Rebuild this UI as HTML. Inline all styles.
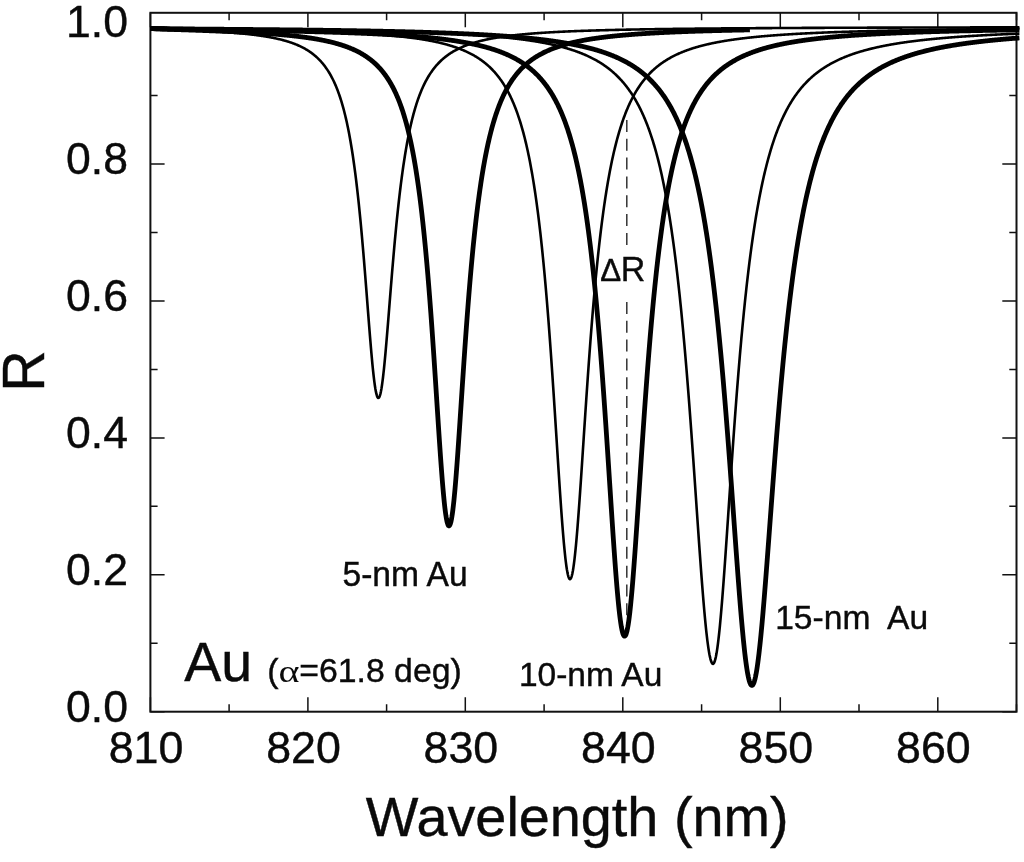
<!DOCTYPE html>
<html><head><meta charset="utf-8"><title>Reflectance vs Wavelength</title>
<style>html,body{margin:0;padding:0;background:#fff}body{width:1024px;height:862px;overflow:hidden}</style></head>
<body>
<svg width="1024" height="862" viewBox="0 0 1024 862" style="display:block">
<rect width="1024" height="862" fill="#fff"/>
<path d="M150.4,711.7v-14.5M150.4,12.8v14.5M229.1,711.7v-7.5M229.1,12.8v7.5M307.9,711.7v-14.5M307.9,12.8v14.5M386.6,711.7v-7.5M386.6,12.8v7.5M465.3,711.7v-14.5M465.3,12.8v14.5M544.1,711.7v-7.5M544.1,12.8v7.5M622.8,711.7v-14.5M622.8,12.8v14.5M701.6,711.7v-7.5M701.6,12.8v7.5M780.3,711.7v-14.5M780.3,12.8v14.5M859.0,711.7v-7.5M859.0,12.8v7.5M937.8,711.7v-14.5M937.8,12.8v14.5M1016.5,711.7v-7.5M1016.5,12.8v7.5M150.4,711.7h14.2M1016.5,711.7h-14.2M150.4,643.2h7.2M1016.5,643.2h-7.2M150.4,574.8h14.2M1016.5,574.8h-14.2M150.4,506.3h7.2M1016.5,506.3h-7.2M150.4,437.9h14.2M1016.5,437.9h-14.2M150.4,369.4h7.2M1016.5,369.4h-7.2M150.4,300.9h14.2M1016.5,300.9h-14.2M150.4,232.5h7.2M1016.5,232.5h-7.2M150.4,164.0h14.2M1016.5,164.0h-14.2M150.4,95.6h7.2M1016.5,95.6h-7.2M150.4,27.1h14.2M1016.5,27.1h-14.2" stroke="#111" stroke-width="1.5" fill="none"/>
<rect x="150.4" y="12.8" width="866.1" height="698.9000000000001" fill="none" stroke="#111" stroke-width="2"/>
<path d="M626.8,119.9V245.7M626.8,301.9V634" stroke="#333" stroke-width="1.5" stroke-dasharray="12 6.84" fill="none"/>
<g fill="none" stroke="#000" stroke-linejoin="round">
<path d="M150.4,28.60 L150.9,28.62 L151.4,28.64 L151.9,28.66 L152.4,28.68 L152.9,28.70 L153.4,28.72 L153.9,28.74 L154.4,28.76 L154.9,28.78 L155.4,28.80 L155.9,28.82 L156.4,28.84 L156.9,28.86 L157.4,28.88 L157.9,28.90 L158.4,28.92 L158.9,28.94 L159.4,28.96 L159.9,28.98 L160.4,29.00 L160.9,29.02 L161.4,29.04 L161.9,29.06 L162.4,29.08 L162.9,29.10 L163.4,29.12 L163.9,29.14 L164.4,29.16 L164.9,29.18 L165.4,29.20 L165.9,29.22 L166.4,29.24 L166.9,29.26 L167.4,29.28 L167.9,29.30 L168.4,29.32 L168.9,29.34 L169.4,29.36 L169.9,29.38 L170.4,29.40 L170.9,29.42 L171.4,29.44 L171.9,29.46 L172.4,29.48 L172.9,29.50 L173.4,29.53 L173.9,29.55 L174.4,29.57 L174.9,29.59 L175.4,29.61 L175.9,29.63 L176.4,29.65 L176.9,29.67 L177.4,29.69 L177.9,29.71 L178.4,29.73 L178.9,29.75 L179.4,29.77 L179.9,29.79 L180.4,29.81 L180.9,29.84 L181.4,29.86 L181.9,29.88 L182.4,29.90 L182.9,29.92 L183.4,29.94 L183.9,29.96 L184.4,29.99 L184.9,30.01 L185.4,30.03 L185.9,30.05 L186.4,30.07 L186.9,30.09 L187.4,30.12 L187.9,30.14 L188.4,30.16 L188.9,30.18 L189.4,30.20 L189.9,30.23 L190.4,30.25 L190.9,30.27 L191.4,30.29 L191.9,30.32 L192.4,30.34 L192.9,30.36 L193.4,30.39 L193.9,30.41 L194.4,30.43 L194.9,30.46 L195.4,30.48 L195.9,30.50 L196.4,30.53 L196.9,30.55 L197.4,30.57 L197.9,30.60 L198.4,30.62 L198.9,30.65 L199.4,30.67 L199.9,30.70 L200.4,30.72 L200.9,30.75 L201.4,30.77 L201.9,30.80 L202.4,30.82 L202.9,30.85 L203.4,30.87 L203.9,30.90 L204.4,30.92 L204.9,30.95 L205.4,30.98 L205.9,31.00 L206.4,31.03 L206.9,31.06 L207.4,31.08 L207.9,31.11 L208.4,31.14 L208.9,31.16 L209.4,31.19 L209.9,31.22 L210.4,31.25 L210.9,31.27 L211.4,31.30 L211.9,31.33 L212.4,31.36 L212.9,31.39 L213.4,31.42 L213.9,31.45 L214.4,31.48 L214.9,31.51 L215.4,31.54 L215.9,31.57 L216.4,31.60 L216.9,31.63 L217.4,31.66 L217.9,31.69 L218.4,31.72 L218.9,31.75 L219.4,31.78 L219.9,31.81 L220.4,31.85 L220.9,31.88 L221.4,31.91 L221.9,31.94 L222.4,31.98 L222.9,32.01 L223.4,32.05 L223.9,32.08 L224.4,32.11 L224.9,32.15 L225.4,32.18 L225.9,32.22 L226.4,32.25 L226.9,32.29 L227.4,32.33 L227.9,32.36 L228.4,32.40 L228.9,32.44 L229.4,32.47 L229.9,32.51 L230.4,32.55 L230.9,32.59 L231.4,32.63 L231.9,32.67 L232.4,32.70 L232.9,32.74 L233.4,32.78 L233.9,32.83 L234.4,32.87 L234.9,32.91 L235.4,32.95 L235.9,32.99 L236.4,33.03 L236.9,33.08 L237.4,33.12 L237.9,33.16 L238.4,33.21 L238.9,33.25 L239.4,33.30 L239.9,33.34 L240.4,33.39 L240.9,33.44 L241.4,33.48 L241.9,33.53 L242.4,33.58 L242.9,33.63 L243.4,33.67 L243.9,33.72 L244.4,33.77 L244.9,33.82 L245.4,33.87 L245.9,33.93 L246.4,33.98 L246.9,34.03 L247.4,34.08 L247.9,34.14 L248.4,34.19 L248.9,34.25 L249.4,34.30 L249.9,34.36 L250.4,34.42 L250.9,34.47 L251.4,34.53 L251.9,34.59 L252.4,34.65 L252.9,34.71 L253.4,34.77 L253.9,34.83 L254.4,34.89 L254.9,34.96 L255.4,35.02 L255.9,35.08 L256.4,35.15 L256.9,35.21 L257.4,35.28 L257.9,35.35 L258.4,35.42 L258.9,35.49 L259.4,35.56 L259.9,35.63 L260.4,35.70 L260.9,35.77 L261.4,35.84 L261.9,35.92 L262.4,35.99 L262.9,36.07 L263.4,36.15 L263.9,36.22 L264.4,36.30 L264.9,36.38 L265.4,36.46 L265.9,36.55 L266.4,36.63 L266.9,36.71 L267.4,36.80 L267.9,36.89 L268.4,36.97 L268.9,37.06 L269.4,37.15 L269.9,37.24 L270.4,37.34 L270.9,37.43 L271.4,37.52 L271.9,37.62 L272.4,37.72 L272.9,37.82 L273.4,37.92 L273.9,38.02 L274.4,38.12 L274.9,38.23 L275.4,38.33 L275.9,38.44 L276.4,38.55 L276.9,38.66 L277.4,38.77 L277.9,38.89 L278.4,39.00 L278.9,39.12 L279.4,39.24 L279.9,39.36 L280.4,39.48 L280.9,39.61 L281.4,39.73 L281.9,39.86 L282.4,39.99 L282.9,40.12 L283.4,40.26 L283.9,40.39 L284.4,40.53 L284.9,40.67 L285.4,40.81 L285.9,40.96 L286.4,41.11 L286.9,41.26 L287.4,41.41 L287.9,41.56 L288.4,41.72 L288.9,41.88 L289.4,42.04 L289.9,42.20 L290.4,42.37 L290.9,42.54 L291.4,42.71 L291.9,42.89 L292.4,43.07 L292.9,43.25 L293.4,43.43 L293.9,43.62 L294.4,43.81 L294.9,44.01 L295.4,44.20 L295.9,44.41 L296.4,44.61 L296.9,44.82 L297.4,45.03 L297.9,45.25 L298.4,45.47 L298.9,45.69 L299.4,45.92 L299.9,46.15 L300.4,46.38 L300.9,46.62 L301.4,46.87 L301.9,47.12 L302.4,47.37 L302.9,47.63 L303.4,47.89 L303.9,48.16 L304.4,48.44 L304.9,48.71 L305.4,49.00 L305.9,49.29 L306.4,49.58 L306.9,49.89 L307.4,50.19 L307.9,50.51 L308.4,50.83 L308.9,51.15 L309.4,51.48 L309.9,51.82 L310.4,52.17 L310.9,52.52 L311.4,52.88 L311.9,53.25 L312.4,53.63 L312.9,54.01 L313.4,54.41 L313.9,54.81 L314.4,55.21 L314.9,55.63 L315.4,56.06 L315.9,56.50 L316.4,56.94 L316.9,57.40 L317.4,57.86 L317.9,58.34 L318.4,58.83 L318.9,59.33 L319.4,59.84 L319.9,60.36 L320.4,60.89 L320.9,61.44 L321.4,62.00 L321.9,62.57 L322.4,63.15 L322.9,63.75 L323.4,64.37 L323.9,65.00 L324.4,65.64 L324.9,66.30 L325.4,66.98 L325.9,67.67 L326.4,68.38 L326.9,69.11 L327.4,69.86 L327.9,70.62 L328.4,71.41 L328.9,72.22 L329.4,73.04 L329.9,73.89 L330.4,74.76 L330.9,75.66 L331.4,76.58 L331.9,77.52 L332.4,78.49 L332.9,79.48 L333.4,80.50 L333.9,81.55 L334.4,82.63 L334.9,83.74 L335.4,84.88 L335.9,86.06 L336.4,87.26 L336.9,88.50 L337.4,89.78 L337.9,91.09 L338.4,92.45 L338.9,93.84 L339.4,95.27 L339.9,96.75 L340.4,98.27 L340.9,99.83 L341.4,101.44 L341.9,103.11 L342.4,104.82 L342.9,106.58 L343.4,108.40 L343.9,110.28 L344.4,112.21 L344.9,114.21 L345.4,116.26 L345.9,118.38 L346.4,120.57 L346.9,122.83 L347.4,125.16 L347.9,127.57 L348.4,130.05 L348.9,132.61 L349.4,135.25 L349.9,137.98 L350.4,140.80 L350.9,143.71 L351.4,146.71 L351.9,149.81 L352.4,153.00 L352.9,156.30 L353.4,159.71 L353.9,163.22 L354.4,166.85 L354.9,170.59 L355.4,174.45 L355.9,178.42 L356.4,182.52 L356.9,186.75 L357.4,191.10 L357.9,195.58 L358.4,200.19 L358.9,204.93 L359.4,209.80 L359.9,214.81 L360.4,219.95 L360.9,225.22 L361.4,230.62 L361.9,236.15 L362.4,241.80 L362.9,247.57 L363.4,253.46 L363.9,259.45 L364.4,265.55 L364.9,271.73 L365.4,278.00 L365.9,284.33 L366.4,290.72 L366.9,297.14 L367.4,303.59 L367.9,310.04 L368.4,316.46 L368.9,322.84 L369.4,329.16 L369.9,335.38 L370.4,341.47 L370.9,347.42 L371.4,353.18 L371.9,358.73 L372.4,364.03 L372.9,369.05 L373.4,373.76 L373.9,378.14 L374.4,382.14 L374.9,385.74 L375.4,388.92 L375.9,391.65 L376.4,393.91 L376.9,395.68 L377.4,396.95 L377.9,397.72 L378.4,397.97 L378.9,397.70 L379.4,396.92 L379.9,395.64 L380.4,393.86 L380.9,391.61 L381.4,388.90 L381.9,385.75 L382.4,382.19 L382.9,378.25 L383.4,373.94 L383.9,369.32 L384.4,364.39 L384.9,359.21 L385.4,353.79 L385.9,348.17 L386.4,342.38 L386.9,336.45 L387.4,330.40 L387.9,324.27 L388.4,318.07 L388.9,311.84 L389.4,305.59 L389.9,299.34 L390.4,293.12 L390.9,286.93 L391.4,280.79 L391.9,274.72 L392.4,268.73 L392.9,262.83 L393.4,257.02 L393.9,251.31 L394.4,245.71 L394.9,240.22 L395.4,234.86 L395.9,229.61 L396.4,224.49 L396.9,219.49 L397.4,214.61 L397.9,209.86 L398.4,205.24 L398.9,200.74 L399.4,196.36 L399.9,192.11 L400.4,187.97 L400.9,183.95 L401.4,180.05 L401.9,176.26 L402.4,172.59 L402.9,169.02 L403.4,165.56 L403.9,162.20 L404.4,158.94 L404.9,155.78 L405.4,152.71 L405.9,149.74 L406.4,146.85 L406.9,144.06 L407.4,141.34 L407.9,138.71 L408.4,136.16 L408.9,133.68 L409.4,131.28 L409.9,128.95 L410.4,126.68 L410.9,124.49 L411.4,122.36 L411.9,120.29 L412.4,118.28 L412.9,116.34 L413.4,114.44 L413.9,112.61 L414.4,110.82 L414.9,109.09 L415.4,107.40 L415.9,105.77 L416.4,104.18 L416.9,102.63 L417.4,101.13 L417.9,99.67 L418.4,98.25 L418.9,96.86 L419.4,95.52 L419.9,94.21 L420.4,92.94 L420.9,91.70 L421.4,90.49 L421.9,89.32 L422.4,88.18 L422.9,87.06 L423.4,85.98 L423.9,84.92 L424.4,83.89 L424.9,82.89 L425.4,81.91 L425.9,80.96 L426.4,80.03 L426.9,79.12 L427.4,78.24 L427.9,77.37 L428.4,76.53 L428.9,75.71 L429.4,74.91 L429.9,74.12 L430.4,73.36 L430.9,72.61 L431.4,71.89 L431.9,71.17 L432.4,70.48 L432.9,69.80 L433.4,69.13 L433.9,68.49 L434.4,67.85 L434.9,67.23 L435.4,66.62 L435.9,66.03 L436.4,65.45 L436.9,64.88 L437.4,64.33 L437.9,63.79 L438.4,63.25 L438.9,62.73 L439.4,62.22 L439.9,61.73 L440.4,61.24 L440.9,60.76 L441.4,60.29 L441.9,59.83 L442.4,59.38 L442.9,58.94 L443.4,58.51 L443.9,58.09 L444.4,57.67 L444.9,57.27 L445.4,56.87 L445.9,56.48 L446.4,56.10 L446.9,55.72 L447.4,55.35 L447.9,54.99 L448.4,54.64 L448.9,54.29 L449.4,53.95 L449.9,53.61 L450.4,53.28 L450.9,52.96 L451.4,52.64 L451.9,52.33 L452.4,52.03 L452.9,51.73 L453.4,51.43 L453.9,51.14 L454.4,50.86 L454.9,50.58 L455.4,50.31 L455.9,50.04 L456.4,49.77 L456.9,49.51 L457.4,49.26 L457.9,49.01 L458.4,48.76 L458.9,48.51 L459.4,48.28 L459.9,48.04 L460.4,47.81 L460.9,47.58 L461.4,47.36 L461.9,47.14 L462.4,46.92 L462.9,46.71 L463.4,46.50 L463.9,46.29 L464.4,46.09 L464.9,45.89 L465.4,45.69 L465.9,45.50 L466.4,45.31 L466.9,45.12 L467.4,44.94 L467.9,44.76 L468.4,44.58 L468.9,44.40 L469.4,44.23 L469.9,44.06 L470.4,43.89 L470.9,43.72 L471.4,43.56 L471.9,43.40 L472.4,43.24 L472.9,43.08 L473.4,42.93 L473.9,42.78 L474.4,42.63 L474.9,42.48 L475.4,42.33 L475.9,42.19 L476.4,42.05 L476.9,41.91 L477.4,41.77 L477.9,41.64 L478.4,41.50 L478.9,41.37 L479.4,41.24 L479.9,41.11 L480.4,40.99 L480.9,40.86 L481.4,40.74 L481.9,40.62 L482.4,40.50 L482.9,40.38 L483.4,40.26 L483.9,40.15 L484.4,40.04 L484.9,39.92 L485.4,39.81 L485.9,39.70 L486.4,39.60 L486.9,39.49 L487.4,39.38 L487.9,39.28 L488.4,39.18 L488.9,39.08 L489.4,38.98 L489.9,38.88 L490.4,38.78 L490.9,38.69 L491.4,38.59 L491.9,38.50 L492.4,38.40 L492.9,38.31 L493.4,38.22 L493.9,38.13 L494.4,38.04 L494.9,37.96 L495.4,37.87 L495.9,37.79 L496.4,37.70 L496.9,37.62 L497.4,37.54 L497.9,37.46 L498.4,37.38 L498.9,37.30 L499.4,37.22 L499.9,37.14 L500.4,37.06 L500.9,36.99 L501.4,36.91 L501.9,36.84 L502.4,36.77 L502.9,36.69 L503.4,36.62 L503.9,36.55 L504.4,36.48 L504.9,36.41 L505.4,36.34 L505.9,36.28 L506.4,36.21 L506.9,36.14 L507.4,36.08 L507.9,36.01 L508.4,35.95 L508.9,35.89 L509.4,35.82 L509.9,35.76 L510.4,35.70 L510.9,35.64 L511.4,35.58 L511.9,35.52 L512.4,35.46 L512.9,35.40 L513.4,35.35 L513.9,35.29 L514.4,35.23 L514.9,35.18 L515.4,35.12 L515.9,35.07 L516.4,35.01 L516.9,34.96 L517.4,34.91 L517.9,34.86 L518.4,34.80 L518.9,34.75 L519.4,34.70 L519.9,34.65 L520.4,34.60 L520.9,34.55 L521.4,34.50 L521.9,34.45 L522.4,34.41 L522.9,34.36 L523.4,34.31 L523.9,34.27 L524.4,34.22 L524.9,34.17 L525.4,34.13 L525.9,34.08 L526.4,34.04 L526.9,34.00 L527.4,33.95 L527.9,33.91 L528.4,33.87 L528.9,33.82 L529.4,33.78 L529.9,33.74 L530.4,33.70 L530.9,33.66 L531.4,33.62 L531.9,33.58 L532.4,33.54 L532.9,33.50 L533.4,33.46 L533.9,33.42 L534.4,33.38 L534.9,33.35 L535.4,33.31 L535.9,33.27 L536.4,33.23 L536.9,33.20 L537.4,33.16 L537.9,33.13 L538.4,33.09 L538.9,33.05 L539.4,33.02 L539.9,32.99 L540.4,32.95 L540.9,32.92 L541.4,32.88 L541.9,32.85 L542.4,32.82 L542.9,32.78 L543.4,32.75 L543.9,32.72 L544.4,32.69 L544.9,32.66 L545.4,32.62 L545.9,32.59 L546.4,32.56 L546.9,32.53 L547.4,32.50 L547.9,32.47 L548.4,32.44 L548.9,32.41 L549.4,32.38 L549.9,32.35 L550.4,32.32 L550.9,32.29 L551.4,32.27 L551.9,32.24 L552.4,32.21 L552.9,32.18 L553.4,32.15 L553.9,32.13 L554.4,32.10 L554.9,32.07 L555.4,32.05 L555.9,32.02 L556.4,31.99 L556.9,31.97 L557.4,31.94 L557.9,31.92 L558.4,31.89 L558.9,31.86 L559.4,31.84 L559.9,31.81 L560.4,31.79 L560.9,31.77 L561.4,31.74 L561.9,31.72 L562.4,31.69 L562.9,31.67 L563.4,31.65 L563.9,31.62 L564.4,31.60 L564.9,31.58 L565.4,31.55 L565.9,31.53 L566.4,31.51 L566.9,31.49 L567.4,31.46 L567.9,31.44 L568.4,31.42 L568.9,31.40 L569.4,31.38 L569.9,31.36 L570.4,31.33 L570.9,31.31 L571.4,31.29 L571.9,31.27 L572.4,31.25 L572.9,31.23 L573.4,31.21 L573.9,31.19 L574.4,31.17 L574.9,31.15 L575.4,31.13 L575.9,31.11 L576.4,31.09 L576.9,31.07 L577.4,31.05 L577.9,31.03 L578.4,31.01 L578.9,31.00 L579.4,30.98 L579.9,30.96 L580.4,30.94 L580.9,30.92 L581.4,30.90 L581.9,30.89 L582.4,30.87 L582.9,30.85 L583.4,30.83 L583.9,30.82 L584.4,30.80 L584.9,30.78 L585.4,30.76 L585.9,30.75 L586.4,30.73 L586.9,30.71 L587.4,30.70 L587.9,30.68 L588.4,30.66 L588.9,30.65 L589.4,30.63 L589.9,30.61 L590.4,30.60 L590.9,30.58 L591.4,30.57 L591.9,30.55 L592.4,30.54 L592.9,30.52 L593.4,30.50 L593.9,30.49 L594.4,30.47 L594.9,30.46 L595.4,30.44 L595.9,30.43 L596.4,30.41 L596.9,30.40 L597.4,30.38 L597.9,30.37 L598.4,30.36 L598.9,30.34 L599.4,30.33 L599.9,30.31 L600.4,30.30 L600.9,30.29 L601.4,30.27 L601.9,30.26 L602.4,30.24 L602.9,30.23 L603.4,30.22 L603.9,30.20 L604.4,30.19 L604.9,30.18 L605.4,30.16 L605.9,30.15 L606.4,30.14 L606.9,30.12 L607.4,30.11 L607.9,30.10 L608.4,30.09 L608.9,30.07 L609.4,30.06 L609.9,30.05 L610.4,30.04 L610.9,30.02 L611.4,30.01 L611.9,30.00 L612.4,29.99 L612.9,29.97 L613.4,29.96 L613.9,29.95 L614.4,29.94 L614.9,29.93 L615.4,29.92 L615.9,29.90 L616.4,29.89 L616.9,29.88 L617.4,29.87 L617.9,29.86 L618.4,29.85 L618.9,29.84 L619.4,29.82 L619.9,29.81 L620.4,29.80 L620.9,29.79 L621.4,29.78 L621.9,29.77 L622.4,29.76 L622.9,29.75 L623.4,29.74 L623.9,29.73 L624.4,29.72 L624.9,29.71 L625.4,29.70 L625.9,29.68 L626.4,29.67 L626.9,29.66 L627.4,29.65 L627.9,29.64 L628.4,29.63 L628.9,29.62 L629.4,29.61 L629.9,29.60 L630.4,29.59 L630.9,29.58 L631.4,29.57 L631.9,29.56 L632.4,29.56 L632.9,29.55 L633.4,29.54 L633.9,29.53 L634.4,29.52 L634.9,29.51 L635.4,29.50 L635.9,29.49 L636.4,29.48 L636.9,29.47 L637.4,29.46 L637.9,29.45 L638.4,29.44 L638.9,29.43 L639.4,29.43 L639.9,29.42 L640.4,29.41 L640.9,29.40 L641.4,29.39 L641.9,29.38 L642.4,29.37 L642.9,29.36 L643.4,29.36 L643.9,29.35 L644.4,29.34 L644.9,29.33 L645.4,29.32 L645.9,29.31 L646.4,29.31 L646.9,29.30 L647.4,29.29 L647.9,29.28 L648.4,29.27 L648.9,29.27 L649.4,29.26 L649.9,29.25 L650.4,29.24 L650.9,29.23 L651.4,29.23 L651.9,29.22 L652.4,29.21 L652.9,29.20 L653.4,29.19 L653.9,29.19 L654.4,29.18 L654.9,29.17 L655.4,29.16 L655.9,29.16 L656.4,29.15 L656.9,29.14 L657.4,29.13 L657.9,29.13 L658.4,29.12 L658.9,29.11 L659.4,29.11 L659.9,29.10 L660.4,29.09 L660.9,29.08 L661.4,29.08 L661.9,29.07 L662.4,29.06 L662.9,29.06 L663.4,29.05 L663.9,29.04 L664.4,29.03 L664.9,29.03 L665.4,29.02 L665.9,29.01 L666.4,29.01 L666.9,29.00 L667.4,28.99 L667.9,28.99 L668.4,28.98 L668.9,28.97 L669.4,28.97 L669.9,28.96 L670.4,28.95 L670.9,28.95 L671.4,28.94 L671.9,28.93 L672.4,28.93 L672.9,28.92 L673.4,28.92 L673.9,28.91 L674.4,28.90 L674.9,28.90 L675.4,28.89 L675.9,28.88 L676.4,28.88 L676.9,28.87 L677.4,28.87 L677.9,28.86 L678.4,28.85 L678.9,28.85 L679.4,28.84 L679.9,28.84 L680.4,28.83 L680.9,28.82 L681.4,28.82 L681.9,28.81 L682.4,28.81 L682.9,28.80 L683.4,28.80 L683.9,28.79 L684.4,28.78 L684.9,28.78 L685.4,28.77 L685.9,28.77 L686.4,28.76 L686.9,28.76 L687.4,28.75 L687.9,28.74 L688.4,28.74 L688.9,28.73 L689.4,28.73 L689.9,28.72 L690.4,28.72 L690.9,28.71 L691.4,28.71 L691.9,28.70 L692.4,28.70 L692.9,28.69 L693.4,28.69 L693.9,28.68 L694.4,28.68 L694.9,28.67 L695.4,28.66 L695.9,28.66 L696.4,28.65 L696.9,28.65 L697.4,28.64 L697.9,28.64 L698.4,28.63 L698.9,28.63 L699.4,28.62 L699.9,28.62 L700.4,28.61 L700.9,28.61 L701.4,28.60 L701.9,28.60 L702.4,28.59 L702.9,28.59 L703.4,28.58 L703.9,28.58 L704.4,28.58 L704.9,28.57 L705.4,28.57 L705.9,28.56 L706.4,28.56 L706.9,28.55 L707.4,28.55 L707.9,28.54 L708.4,28.54 L708.9,28.53 L709.4,28.53 L709.9,28.52 L710.4,28.52 L710.9,28.51 L711.4,28.51 L711.9,28.51 L712.4,28.50 L712.9,28.50 L713.4,28.49 L713.9,28.49 L714.4,28.48 L714.9,28.48 L715.4,28.48 L715.9,28.47 L716.4,28.47 L716.9,28.46 L717.4,28.46 L717.9,28.45 L718.4,28.45 L718.9,28.44 L719.4,28.44 L719.9,28.44 L720.4,28.43 L720.9,28.43 L721.4,28.42 L721.9,28.42 L722.4,28.42 L722.9,28.41 L723.4,28.41 L723.9,28.40 L724.4,28.40 L724.9,28.40 L725.4,28.39 L725.9,28.39 L726.4,28.38 L726.9,28.38 L727.4,28.38 L727.9,28.37 L728.4,28.37 L728.9,28.36 L729.4,28.36 L729.9,28.36 L730.4,28.35 L730.9,28.35 L731.4,28.34 L731.9,28.34 L732.4,28.34 L732.9,28.33 L733.4,28.33 L733.9,28.33 L734.4,28.32 L734.9,28.32 L735.4,28.31 L735.9,28.31 L736.4,28.31 L736.9,28.30 L737.4,28.30 L737.9,28.30 L738.4,28.29 L738.9,28.29 L739.4,28.28 L739.9,28.28 L740.4,28.28 L740.9,28.27 L741.4,28.27 L741.9,28.27 L742.4,28.26 L742.9,28.26 L743.4,28.26 L743.9,28.25 L744.4,28.25 L744.9,28.25 L745.4,28.24 L745.9,28.24 L746.4,28.24 L746.9,28.23 L747.4,28.23 L747.9,28.23 L748.4,28.22 L748.9,28.22 L749.4,28.22 L749.9,28.21 L750.4,28.21 L750.9,28.21 L751.4,28.20 L751.9,28.20 L752.4,28.20 L752.9,28.19 L753.4,28.19 L753.9,28.19 L754.4,28.18 L754.9,28.18 L755.4,28.18 L755.9,28.17 L756.4,28.17 L756.9,28.17 L757.4,28.16 L757.9,28.16 L758.4,28.16 L758.9,28.15 L759.4,28.15 L759.9,28.15 L760.4,28.15 L760.9,28.14 L761.4,28.14 L761.9,28.14 L762.4,28.13 L762.9,28.13 L763.4,28.13 L763.9,28.12 L764.4,28.12 L764.9,28.12 L765.4,28.12 L765.9,28.11 L766.4,28.11 L766.9,28.11 L767.4,28.10 L767.9,28.10 L768.4,28.10 L768.9,28.09 L769.4,28.09 L769.9,28.09 L770.4,28.09 L770.9,28.08 L771.4,28.08 L771.9,28.08 L772.4,28.07 L772.9,28.07 L773.4,28.07 L773.9,28.07 L774.4,28.06 L774.9,28.06 L775.4,28.06 L775.9,28.05 L776.4,28.05 L776.9,28.05 L777.4,28.05 L777.9,28.04 L778.4,28.04 L778.9,28.04 L779.4,28.04 L779.9,28.03 L780.4,28.03 L780.9,28.03 L781.4,28.03 L781.9,28.02 L782.4,28.02 L782.9,28.02 L783.4,28.01 L783.9,28.01 L784.4,28.01 L784.9,28.01 L785.4,28.00 L785.9,28.00 L786.4,28.00 L786.9,28.00 L787.4,27.99 L787.9,27.99 L788.4,27.99 L788.9,27.99 L789.4,27.98 L789.9,27.98 L790.4,27.98 L790.9,27.98 L791.4,27.97 L791.9,27.97 L792.4,27.97 L792.9,27.97 L793.4,27.96 L793.9,27.96 L794.4,27.96 L794.9,27.96 L795.4,27.95 L795.9,27.95 L796.4,27.95 L796.9,27.95 L797.4,27.94 L797.9,27.94 L798.4,27.94 L798.9,27.94 L799.4,27.94 L799.9,27.93 L800.4,27.93 L800.9,27.93 L801.4,27.93 L801.9,27.92 L802.4,27.92 L802.9,27.92 L803.4,27.92 L803.9,27.91 L804.4,27.91 L804.9,27.91 L805.4,27.91 L805.9,27.91 L806.4,27.90 L806.9,27.90 L807.4,27.90 L807.9,27.90 L808.4,27.89 L808.9,27.89 L809.4,27.89 L809.9,27.89 L810.4,27.89 L810.9,27.88 L811.4,27.88 L811.9,27.88 L812.4,27.88 L812.9,27.87 L813.4,27.87 L813.9,27.87 L814.4,27.87 L814.9,27.87 L815.4,27.86 L815.9,27.86 L816.4,27.86 L816.9,27.86 L817.4,27.86 L817.9,27.85 L818.4,27.85 L818.9,27.85 L819.4,27.85 L819.9,27.84 L820.4,27.84 L820.9,27.84 L821.4,27.84 L821.9,27.84 L822.4,27.83 L822.9,27.83 L823.4,27.83 L823.9,27.83 L824.4,27.83 L824.9,27.82 L825.4,27.82 L825.9,27.82 L826.4,27.82 L826.9,27.82 L827.4,27.81 L827.9,27.81 L828.4,27.81 L828.9,27.81 L829.4,27.81 L829.9,27.80 L830.4,27.80 L830.9,27.80 L831.4,27.80 L831.9,27.80 L832.4,27.80 L832.9,27.79 L833.4,27.79 L833.9,27.79 L834.4,27.79 L834.9,27.79 L835.4,27.78 L835.9,27.78 L836.4,27.78 L836.9,27.78 L837.4,27.78 L837.9,27.77 L838.4,27.77 L838.9,27.77 L839.4,27.77 L839.9,27.77 L840.4,27.77 L840.9,27.76 L841.4,27.76 L841.9,27.76 L842.4,27.76 L842.9,27.76 L843.4,27.75 L843.9,27.75 L844.4,27.75 L844.9,27.75 L845.4,27.75 L845.9,27.75 L846.4,27.74 L846.9,27.74 L847.4,27.74 L847.9,27.74 L848.4,27.74 L848.9,27.73 L849.4,27.73 L849.9,27.73 L850.4,27.73 L850.9,27.73 L851.4,27.73 L851.9,27.72 L852.4,27.72 L852.9,27.72 L853.4,27.72 L853.9,27.72 L854.4,27.72 L854.9,27.71 L855.4,27.71 L855.9,27.71 L856.4,27.71 L856.9,27.71 L857.4,27.71 L857.9,27.70 L858.4,27.70 L858.9,27.70 L859.4,27.70 L859.9,27.70 L860.4,27.70 L860.9,27.69 L861.4,27.69 L861.9,27.69 L862.4,27.69 L862.9,27.69 L863.4,27.69 L863.9,27.69 L864.4,27.68 L864.9,27.68 L865.4,27.68 L865.9,27.68 L866.4,27.68 L866.9,27.68 L867.4,27.67 L867.9,27.67 L868.4,27.67 L868.9,27.67 L869.4,27.67 L869.9,27.67 L870.4,27.66 L870.9,27.66 L871.4,27.66 L871.9,27.66 L872.4,27.66 L872.9,27.66 L873.4,27.66 L873.9,27.65 L874.4,27.65 L874.9,27.65 L875.4,27.65 L875.9,27.65 L876.4,27.65 L876.9,27.65 L877.4,27.64 L877.9,27.64 L878.4,27.64 L878.9,27.64 L879.4,27.64 L879.9,27.64 L880.4,27.63 L880.9,27.63 L881.4,27.63 L881.9,27.63 L882.4,27.63 L882.9,27.63 L883.4,27.63 L883.9,27.62 L884.4,27.62 L884.9,27.62 L885.4,27.62 L885.9,27.62 L886.4,27.62 L886.9,27.62 L887.4,27.61 L887.9,27.61 L888.4,27.61 L888.9,27.61 L889.4,27.61 L889.9,27.61 L890.4,27.61 L890.9,27.61 L891.4,27.60 L891.9,27.60 L892.4,27.60 L892.9,27.60 L893.4,27.60 L893.9,27.60 L894.4,27.60 L894.9,27.59 L895.4,27.59 L895.9,27.59 L896.4,27.59 L896.9,27.59 L897.4,27.59 L897.9,27.59 L898.4,27.58 L898.9,27.58 L899.4,27.58 L899.9,27.58 L900.4,27.58 L900.9,27.58 L901.4,27.58 L901.9,27.58 L902.4,27.57 L902.9,27.57 L903.4,27.57 L903.9,27.57 L904.4,27.57 L904.9,27.57 L905.4,27.57 L905.9,27.57 L906.4,27.56 L906.9,27.56 L907.4,27.56 L907.9,27.56 L908.4,27.56 L908.9,27.56 L909.4,27.56 L909.9,27.56 L910.4,27.55 L910.9,27.55 L911.4,27.55 L911.9,27.55 L912.4,27.55 L912.9,27.55 L913.4,27.55 L913.9,27.55 L914.4,27.54 L914.9,27.54 L915.4,27.54 L915.9,27.54 L916.4,27.54 L916.9,27.54 L917.4,27.54 L917.9,27.54 L918.4,27.53 L918.9,27.53 L919.4,27.53 L919.9,27.53 L920.4,27.53 L920.9,27.53 L921.4,27.53 L921.9,27.53 L922.4,27.53 L922.9,27.52 L923.4,27.52 L923.9,27.52 L924.4,27.52 L924.9,27.52 L925.4,27.52 L925.9,27.52 L926.4,27.52 L926.9,27.51 L927.4,27.51 L927.9,27.51 L928.4,27.51 L928.9,27.51 L929.4,27.51 L929.9,27.51 L930.4,27.51 L930.9,27.51 L931.4,27.50 L931.9,27.50 L932.4,27.50 L932.9,27.50 L933.4,27.50 L933.9,27.50 L934.4,27.50 L934.9,27.50 L935.4,27.50 L935.9,27.49 L936.4,27.49 L936.9,27.49 L937.4,27.49 L937.9,27.49 L938.4,27.49 L938.9,27.49 L939.4,27.49 L939.9,27.49 L940.4,27.48 L940.9,27.48 L941.4,27.48 L941.9,27.48 L942.4,27.48 L942.9,27.48 L943.4,27.48 L943.9,27.48 L944.4,27.48 L944.9,27.48 L945.4,27.47 L945.9,27.47 L946.4,27.47 L946.9,27.47 L947.4,27.47 L947.9,27.47 L948.4,27.47 L948.9,27.47 L949.4,27.47 L949.9,27.46 L950.4,27.46 L950.9,27.46 L951.4,27.46 L951.9,27.46 L952.4,27.46 L952.9,27.46 L953.4,27.46 L953.9,27.46 L954.4,27.46 L954.9,27.45 L955.4,27.45 L955.9,27.45 L956.4,27.45 L956.9,27.45 L957.4,27.45 L957.9,27.45 L958.4,27.45 L958.9,27.45 L959.4,27.45 L959.9,27.44 L960.4,27.44 L960.9,27.44 L961.4,27.44 L961.9,27.44 L962.4,27.44 L962.9,27.44 L963.4,27.44 L963.9,27.44 L964.4,27.44 L964.9,27.44 L965.4,27.43 L965.9,27.43 L966.4,27.43 L966.9,27.43 L967.4,27.43 L967.9,27.43 L968.4,27.43 L968.9,27.43 L969.4,27.43 L969.9,27.43 L970.4,27.42 L970.9,27.42 L971.4,27.42 L971.9,27.42 L972.4,27.42 L972.9,27.42 L973.4,27.42 L973.9,27.42 L974.4,27.42 L974.9,27.42 L975.4,27.42 L975.9,27.41 L976.4,27.41 L976.9,27.41 L977.4,27.41 L977.9,27.41 L978.4,27.41 L978.9,27.41 L979.4,27.41 L979.9,27.41 L980.4,27.41 L980.9,27.41 L981.4,27.40 L981.9,27.40 L982.4,27.40 L982.9,27.40 L983.4,27.40 L983.9,27.40 L984.4,27.40 L984.9,27.40 L985.4,27.40 L985.9,27.40 L986.4,27.40 L986.9,27.40 L987.4,27.39 L987.9,27.39 L988.4,27.39 L988.9,27.39 L989.4,27.39 L989.9,27.39 L990.4,27.39 L990.9,27.39 L991.4,27.39 L991.9,27.39 L992.4,27.39 L992.9,27.38 L993.4,27.38 L993.9,27.38 L994.4,27.38 L994.9,27.38 L995.4,27.38 L995.9,27.38 L996.4,27.38 L996.9,27.38 L997.4,27.38 L997.9,27.38 L998.4,27.38 L998.9,27.37 L999.4,27.37 L999.9,27.37 L1000.4,27.37 L1000.9,27.37 L1001.4,27.37 L1001.9,27.37 L1002.4,27.37 L1002.9,27.37 L1003.4,27.37 L1003.9,27.37 L1004.4,27.37 L1004.9,27.37 L1005.4,27.36 L1005.9,27.36 L1006.4,27.36 L1006.9,27.36 L1007.4,27.36 L1007.9,27.36 L1008.4,27.36 L1008.9,27.36 L1009.4,27.36 L1009.9,27.36 L1010.4,27.36 L1010.9,27.36 L1011.4,27.35 L1011.9,27.35 L1012.4,27.35 L1012.9,27.35 L1013.4,27.35 L1013.9,27.35 L1014.4,27.35 L1014.9,27.35 L1015.4,27.35 L1015.9,27.35 L1016.4,27.35 L1016.9,27.35 L1017.4,27.35 L1017.9,27.34 L1018.4,27.34 L1018.9,27.34 L1019.4,27.34" stroke-width="2.6"/>
<path d="M150.4,28.60 L150.9,28.62 L151.4,28.64 L151.9,28.66 L152.4,28.68 L152.9,28.70 L153.4,28.72 L153.9,28.74 L154.4,28.75 L154.9,28.77 L155.4,28.79 L155.9,28.81 L156.4,28.83 L156.9,28.85 L157.4,28.87 L157.9,28.89 L158.4,28.90 L158.9,28.92 L159.4,28.94 L159.9,28.96 L160.4,28.98 L160.9,29.00 L161.4,29.02 L161.9,29.03 L162.4,29.05 L162.9,29.07 L163.4,29.09 L163.9,29.11 L164.4,29.12 L164.9,29.14 L165.4,29.16 L165.9,29.18 L166.4,29.20 L166.9,29.21 L167.4,29.23 L167.9,29.25 L168.4,29.27 L168.9,29.29 L169.4,29.30 L169.9,29.32 L170.4,29.34 L170.9,29.36 L171.4,29.38 L171.9,29.39 L172.4,29.41 L172.9,29.43 L173.4,29.45 L173.9,29.46 L174.4,29.48 L174.9,29.50 L175.4,29.52 L175.9,29.53 L176.4,29.55 L176.9,29.57 L177.4,29.59 L177.9,29.60 L178.4,29.62 L178.9,29.64 L179.4,29.66 L179.9,29.67 L180.4,29.69 L180.9,29.71 L181.4,29.73 L181.9,29.74 L182.4,29.76 L182.9,29.78 L183.4,29.80 L183.9,29.81 L184.4,29.83 L184.9,29.85 L185.4,29.87 L185.9,29.88 L186.4,29.90 L186.9,29.92 L187.4,29.94 L187.9,29.95 L188.4,29.97 L188.9,29.99 L189.4,30.01 L189.9,30.02 L190.4,30.04 L190.9,30.06 L191.4,30.08 L191.9,30.09 L192.4,30.11 L192.9,30.13 L193.4,30.15 L193.9,30.16 L194.4,30.18 L194.9,30.20 L195.4,30.22 L195.9,30.23 L196.4,30.25 L196.9,30.27 L197.4,30.29 L197.9,30.31 L198.4,30.32 L198.9,30.34 L199.4,30.36 L199.9,30.38 L200.4,30.40 L200.9,30.41 L201.4,30.43 L201.9,30.45 L202.4,30.47 L202.9,30.49 L203.4,30.50 L203.9,30.52 L204.4,30.54 L204.9,30.56 L205.4,30.58 L205.9,30.60 L206.4,30.62 L206.9,30.63 L207.4,30.65 L207.9,30.67 L208.4,30.69 L208.9,30.71 L209.4,30.73 L209.9,30.75 L210.4,30.77 L210.9,30.78 L211.4,30.80 L211.9,30.82 L212.4,30.84 L212.9,30.86 L213.4,30.88 L213.9,30.90 L214.4,30.92 L214.9,30.94 L215.4,30.96 L215.9,30.98 L216.4,31.00 L216.9,31.02 L217.4,31.04 L217.9,31.06 L218.4,31.08 L218.9,31.10 L219.4,31.12 L219.9,31.14 L220.4,31.16 L220.9,31.18 L221.4,31.20 L221.9,31.22 L222.4,31.24 L222.9,31.26 L223.4,31.28 L223.9,31.30 L224.4,31.32 L224.9,31.34 L225.4,31.36 L225.9,31.38 L226.4,31.41 L226.9,31.43 L227.4,31.45 L227.9,31.47 L228.4,31.49 L228.9,31.51 L229.4,31.54 L229.9,31.56 L230.4,31.58 L230.9,31.60 L231.4,31.62 L231.9,31.65 L232.4,31.67 L232.9,31.69 L233.4,31.71 L233.9,31.74 L234.4,31.76 L234.9,31.78 L235.4,31.81 L235.9,31.83 L236.4,31.85 L236.9,31.88 L237.4,31.90 L237.9,31.92 L238.4,31.95 L238.9,31.97 L239.4,32.00 L239.9,32.02 L240.4,32.05 L240.9,32.07 L241.4,32.09 L241.9,32.12 L242.4,32.14 L242.9,32.17 L243.4,32.19 L243.9,32.22 L244.4,32.25 L244.9,32.27 L245.4,32.30 L245.9,32.32 L246.4,32.35 L246.9,32.38 L247.4,32.40 L247.9,32.43 L248.4,32.46 L248.9,32.48 L249.4,32.51 L249.9,32.54 L250.4,32.57 L250.9,32.59 L251.4,32.62 L251.9,32.65 L252.4,32.68 L252.9,32.71 L253.4,32.73 L253.9,32.76 L254.4,32.79 L254.9,32.82 L255.4,32.85 L255.9,32.88 L256.4,32.91 L256.9,32.94 L257.4,32.97 L257.9,33.00 L258.4,33.03 L258.9,33.06 L259.4,33.09 L259.9,33.13 L260.4,33.16 L260.9,33.19 L261.4,33.22 L261.9,33.25 L262.4,33.29 L262.9,33.32 L263.4,33.35 L263.9,33.38 L264.4,33.42 L264.9,33.45 L265.4,33.48 L265.9,33.52 L266.4,33.55 L266.9,33.59 L267.4,33.62 L267.9,33.66 L268.4,33.69 L268.9,33.73 L269.4,33.77 L269.9,33.80 L270.4,33.84 L270.9,33.87 L271.4,33.91 L271.9,33.95 L272.4,33.99 L272.9,34.03 L273.4,34.06 L273.9,34.10 L274.4,34.14 L274.9,34.18 L275.4,34.22 L275.9,34.26 L276.4,34.30 L276.9,34.34 L277.4,34.38 L277.9,34.42 L278.4,34.46 L278.9,34.51 L279.4,34.55 L279.9,34.59 L280.4,34.63 L280.9,34.68 L281.4,34.72 L281.9,34.76 L282.4,34.81 L282.9,34.85 L283.4,34.90 L283.9,34.94 L284.4,34.99 L284.9,35.04 L285.4,35.08 L285.9,35.13 L286.4,35.18 L286.9,35.23 L287.4,35.27 L287.9,35.32 L288.4,35.37 L288.9,35.42 L289.4,35.47 L289.9,35.52 L290.4,35.57 L290.9,35.63 L291.4,35.68 L291.9,35.73 L292.4,35.78 L292.9,35.84 L293.4,35.89 L293.9,35.95 L294.4,36.00 L294.9,36.06 L295.4,36.11 L295.9,36.17 L296.4,36.23 L296.9,36.28 L297.4,36.34 L297.9,36.40 L298.4,36.46 L298.9,36.52 L299.4,36.58 L299.9,36.64 L300.4,36.70 L300.9,36.77 L301.4,36.83 L301.9,36.89 L302.4,36.96 L302.9,37.02 L303.4,37.09 L303.9,37.15 L304.4,37.22 L304.9,37.29 L305.4,37.36 L305.9,37.43 L306.4,37.50 L306.9,37.57 L307.4,37.64 L307.9,37.71 L308.4,37.78 L308.9,37.85 L309.4,37.93 L309.9,38.00 L310.4,38.08 L310.9,38.16 L311.4,38.23 L311.9,38.31 L312.4,38.39 L312.9,38.47 L313.4,38.55 L313.9,38.63 L314.4,38.71 L314.9,38.80 L315.4,38.88 L315.9,38.97 L316.4,39.05 L316.9,39.14 L317.4,39.23 L317.9,39.32 L318.4,39.41 L318.9,39.50 L319.4,39.59 L319.9,39.68 L320.4,39.78 L320.9,39.87 L321.4,39.97 L321.9,40.07 L322.4,40.16 L322.9,40.26 L323.4,40.37 L323.9,40.47 L324.4,40.57 L324.9,40.68 L325.4,40.78 L325.9,40.89 L326.4,41.00 L326.9,41.11 L327.4,41.22 L327.9,41.33 L328.4,41.44 L328.9,41.56 L329.4,41.67 L329.9,41.79 L330.4,41.91 L330.9,42.03 L331.4,42.15 L331.9,42.28 L332.4,42.40 L332.9,42.53 L333.4,42.66 L333.9,42.79 L334.4,42.92 L334.9,43.05 L335.4,43.19 L335.9,43.33 L336.4,43.46 L336.9,43.60 L337.4,43.75 L337.9,43.89 L338.4,44.04 L338.9,44.19 L339.4,44.34 L339.9,44.49 L340.4,44.64 L340.9,44.80 L341.4,44.96 L341.9,45.12 L342.4,45.28 L342.9,45.44 L343.4,45.61 L343.9,45.78 L344.4,45.95 L344.9,46.12 L345.4,46.30 L345.9,46.48 L346.4,46.66 L346.9,46.85 L347.4,47.03 L347.9,47.22 L348.4,47.41 L348.9,47.61 L349.4,47.81 L349.9,48.01 L350.4,48.21 L350.9,48.42 L351.4,48.63 L351.9,48.84 L352.4,49.05 L352.9,49.27 L353.4,49.50 L353.9,49.72 L354.4,49.95 L354.9,50.18 L355.4,50.42 L355.9,50.66 L356.4,50.90 L356.9,51.15 L357.4,51.40 L357.9,51.65 L358.4,51.91 L358.9,52.18 L359.4,52.44 L359.9,52.71 L360.4,52.99 L360.9,53.27 L361.4,53.56 L361.9,53.84 L362.4,54.14 L362.9,54.44 L363.4,54.74 L363.9,55.05 L364.4,55.36 L364.9,55.68 L365.4,56.01 L365.9,56.34 L366.4,56.67 L366.9,57.02 L367.4,57.36 L367.9,57.72 L368.4,58.08 L368.9,58.44 L369.4,58.81 L369.9,59.19 L370.4,59.58 L370.9,59.97 L371.4,60.37 L371.9,60.78 L372.4,61.19 L372.9,61.61 L373.4,62.04 L373.9,62.48 L374.4,62.92 L374.9,63.38 L375.4,63.84 L375.9,64.31 L376.4,64.79 L376.9,65.28 L377.4,65.78 L377.9,66.28 L378.4,66.80 L378.9,67.33 L379.4,67.87 L379.9,68.41 L380.4,68.97 L380.9,69.54 L381.4,70.12 L381.9,70.72 L382.4,71.32 L382.9,71.94 L383.4,72.57 L383.9,73.21 L384.4,73.87 L384.9,74.54 L385.4,75.22 L385.9,75.92 L386.4,76.63 L386.9,77.36 L387.4,78.10 L387.9,78.86 L388.4,79.64 L388.9,80.43 L389.4,81.24 L389.9,82.07 L390.4,82.91 L390.9,83.78 L391.4,84.66 L391.9,85.57 L392.4,86.49 L392.9,87.44 L393.4,88.40 L393.9,89.39 L394.4,90.41 L394.9,91.44 L395.4,92.50 L395.9,93.59 L396.4,94.70 L396.9,95.84 L397.4,97.00 L397.9,98.19 L398.4,99.41 L398.9,100.67 L399.4,101.95 L399.9,103.26 L400.4,104.61 L400.9,105.99 L401.4,107.40 L401.9,108.85 L402.4,110.34 L402.9,111.86 L403.4,113.43 L403.9,115.03 L404.4,116.68 L404.9,118.37 L405.4,120.10 L405.9,121.88 L406.4,123.71 L406.9,125.58 L407.4,127.51 L407.9,129.48 L408.4,131.51 L408.9,133.60 L409.4,135.74 L409.9,137.94 L410.4,140.20 L410.9,142.52 L411.4,144.91 L411.9,147.37 L412.4,149.89 L412.9,152.48 L413.4,155.15 L413.9,157.89 L414.4,160.71 L414.9,163.61 L415.4,166.59 L415.9,169.65 L416.4,172.81 L416.9,176.05 L417.4,179.39 L417.9,182.82 L418.4,186.35 L418.9,189.98 L419.4,193.72 L419.9,197.56 L420.4,201.51 L420.9,205.57 L421.4,209.75 L421.9,214.04 L422.4,218.46 L422.9,223.00 L423.4,227.66 L423.9,232.45 L424.4,237.38 L424.9,242.44 L425.4,247.63 L425.9,252.96 L426.4,258.42 L426.9,264.03 L427.4,269.78 L427.9,275.66 L428.4,281.69 L428.9,287.87 L429.4,294.18 L429.9,300.63 L430.4,307.21 L430.9,313.93 L431.4,320.78 L431.9,327.75 L432.4,334.84 L432.9,342.05 L433.4,349.36 L433.9,356.77 L434.4,364.26 L434.9,371.83 L435.4,379.45 L435.9,387.12 L436.4,394.83 L436.9,402.54 L437.4,410.25 L437.9,417.93 L438.4,425.57 L438.9,433.12 L439.4,440.58 L439.9,447.92 L440.4,455.10 L440.9,462.10 L441.4,468.88 L441.9,475.43 L442.4,481.70 L442.9,487.67 L443.4,493.30 L443.9,498.58 L444.4,503.45 L444.9,507.91 L445.4,511.93 L445.9,515.47 L446.4,518.52 L446.9,521.07 L447.4,523.08 L447.9,524.56 L448.4,525.50 L448.9,525.88 L449.4,525.70 L449.9,524.98 L450.4,523.70 L450.9,521.89 L451.4,519.56 L451.9,516.71 L452.4,513.38 L452.9,509.57 L453.4,505.32 L453.9,500.65 L454.4,495.59 L454.9,490.16 L455.4,484.40 L455.9,478.33 L456.4,471.99 L456.9,465.40 L457.4,458.60 L457.9,451.61 L458.4,444.47 L458.9,437.20 L459.4,429.82 L459.9,422.37 L460.4,414.86 L460.9,407.32 L461.4,399.77 L461.9,392.22 L462.4,384.70 L462.9,377.22 L463.4,369.79 L463.9,362.43 L464.4,355.14 L464.9,347.95 L465.4,340.86 L465.9,333.87 L466.4,326.99 L466.9,320.24 L467.4,313.60 L467.9,307.10 L468.4,300.72 L468.9,294.48 L469.4,288.37 L469.9,282.39 L470.4,276.55 L470.9,270.85 L471.4,265.28 L471.9,259.85 L472.4,254.55 L472.9,249.38 L473.4,244.35 L473.9,239.44 L474.4,234.66 L474.9,230.00 L475.4,225.47 L475.9,221.06 L476.4,216.76 L476.9,212.58 L477.4,208.51 L477.9,204.55 L478.4,200.69 L478.9,196.95 L479.4,193.30 L479.9,189.75 L480.4,186.30 L480.9,182.94 L481.4,179.67 L481.9,176.49 L482.4,173.39 L482.9,170.38 L483.4,167.45 L483.9,164.60 L484.4,161.83 L484.9,159.13 L485.4,156.50 L485.9,153.94 L486.4,151.45 L486.9,149.02 L487.4,146.66 L487.9,144.36 L488.4,142.12 L488.9,139.94 L489.4,137.82 L489.9,135.75 L490.4,133.73 L490.9,131.76 L491.4,129.85 L491.9,127.98 L492.4,126.16 L492.9,124.38 L493.4,122.65 L493.9,120.96 L494.4,119.32 L494.9,117.71 L495.4,116.14 L495.9,114.61 L496.4,113.12 L496.9,111.66 L497.4,110.24 L497.9,108.85 L498.4,107.50 L498.9,106.17 L499.4,104.88 L499.9,103.62 L500.4,102.38 L500.9,101.18 L501.4,100.00 L501.9,98.85 L502.4,97.72 L502.9,96.62 L503.4,95.55 L503.9,94.50 L504.4,93.47 L504.9,92.46 L505.4,91.48 L505.9,90.51 L506.4,89.57 L506.9,88.65 L507.4,87.75 L507.9,86.86 L508.4,86.00 L508.9,85.15 L509.4,84.32 L509.9,83.51 L510.4,82.71 L510.9,81.93 L511.4,81.17 L511.9,80.42 L512.4,79.69 L512.9,78.97 L513.4,78.27 L513.9,77.58 L514.4,76.90 L514.9,76.24 L515.4,75.59 L515.9,74.95 L516.4,74.32 L516.9,73.71 L517.4,73.11 L517.9,72.52 L518.4,71.94 L518.9,71.37 L519.4,70.81 L519.9,70.26 L520.4,69.72 L520.9,69.19 L521.4,68.68 L521.9,68.17 L522.4,67.67 L522.9,67.18 L523.4,66.69 L523.9,66.22 L524.4,65.75 L524.9,65.30 L525.4,64.85 L525.9,64.41 L526.4,63.97 L526.9,63.55 L527.4,63.13 L527.9,62.71 L528.4,62.31 L528.9,61.91 L529.4,61.52 L529.9,61.13 L530.4,60.75 L530.9,60.38 L531.4,60.01 L531.9,59.65 L532.4,59.30 L532.9,58.95 L533.4,58.61 L533.9,58.27 L534.4,57.94 L534.9,57.61 L535.4,57.29 L535.9,56.97 L536.4,56.66 L536.9,56.35 L537.4,56.05 L537.9,55.75 L538.4,55.46 L538.9,55.17 L539.4,54.88 L539.9,54.60 L540.4,54.33 L540.9,54.05 L541.4,53.79 L541.9,53.52 L542.4,53.26 L542.9,53.00 L543.4,52.75 L543.9,52.50 L544.4,52.26 L544.9,52.02 L545.4,51.78 L545.9,51.54 L546.4,51.31 L546.9,51.08 L547.4,50.86 L547.9,50.63 L548.4,50.42 L548.9,50.20 L549.4,49.99 L549.9,49.78 L550.4,49.57 L550.9,49.37 L551.4,49.16 L551.9,48.96 L552.4,48.77 L552.9,48.57 L553.4,48.38 L553.9,48.20 L554.4,48.01 L554.9,47.83 L555.4,47.64 L555.9,47.47 L556.4,47.29 L556.9,47.12 L557.4,46.94 L557.9,46.77 L558.4,46.61 L558.9,46.44 L559.4,46.28 L559.9,46.12 L560.4,45.96 L560.9,45.80 L561.4,45.64 L561.9,45.49 L562.4,45.34 L562.9,45.19 L563.4,45.04 L563.9,44.90 L564.4,44.75 L564.9,44.61 L565.4,44.47 L565.9,44.33 L566.4,44.19 L566.9,44.06 L567.4,43.92 L567.9,43.79 L568.4,43.66 L568.9,43.53 L569.4,43.40 L569.9,43.27 L570.4,43.15 L570.9,43.03 L571.4,42.90 L571.9,42.78 L572.4,42.66 L572.9,42.55 L573.4,42.43 L573.9,42.31 L574.4,42.20 L574.9,42.09 L575.4,41.98 L575.9,41.86 L576.4,41.76 L576.9,41.65 L577.4,41.54 L577.9,41.44 L578.4,41.33 L578.9,41.23 L579.4,41.13 L579.9,41.03 L580.4,40.93 L580.9,40.83 L581.4,40.73 L581.9,40.63 L582.4,40.54 L582.9,40.44 L583.4,40.35 L583.9,40.25 L584.4,40.16 L584.9,40.07 L585.4,39.98 L585.9,39.89 L586.4,39.81 L586.9,39.72 L587.4,39.63 L587.9,39.55 L588.4,39.46 L588.9,39.38 L589.4,39.30 L589.9,39.21 L590.4,39.13 L590.9,39.05 L591.4,38.97 L591.9,38.89 L592.4,38.82 L592.9,38.74 L593.4,38.66 L593.9,38.59 L594.4,38.51 L594.9,38.44 L595.4,38.37 L595.9,38.29 L596.4,38.22 L596.9,38.15 L597.4,38.08 L597.9,38.01 L598.4,37.94 L598.9,37.87 L599.4,37.80 L599.9,37.73 L600.4,37.67 L600.9,37.60 L601.4,37.54 L601.9,37.47 L602.4,37.41 L602.9,37.34 L603.4,37.28 L603.9,37.22 L604.4,37.16 L604.9,37.09 L605.4,37.03 L605.9,36.97 L606.4,36.91 L606.9,36.85 L607.4,36.80 L607.9,36.74 L608.4,36.68 L608.9,36.62 L609.4,36.57 L609.9,36.51 L610.4,36.45 L610.9,36.40 L611.4,36.35 L611.9,36.29 L612.4,36.24 L612.9,36.18 L613.4,36.13 L613.9,36.08 L614.4,36.03 L614.9,35.98 L615.4,35.92 L615.9,35.87 L616.4,35.82 L616.9,35.77 L617.4,35.73 L617.9,35.68 L618.4,35.63 L618.9,35.58 L619.4,35.53 L619.9,35.49 L620.4,35.44 L620.9,35.39 L621.4,35.35 L621.9,35.30 L622.4,35.26 L622.9,35.21 L623.4,35.17 L623.9,35.12 L624.4,35.08 L624.9,35.03 L625.4,34.99 L625.9,34.95 L626.4,34.91 L626.9,34.86 L627.4,34.82 L627.9,34.78 L628.4,34.74 L628.9,34.70 L629.4,34.66 L629.9,34.62 L630.4,34.58 L630.9,34.54 L631.4,34.50 L631.9,34.46 L632.4,34.42 L632.9,34.38 L633.4,34.35 L633.9,34.31 L634.4,34.27 L634.9,34.23 L635.4,34.20 L635.9,34.16 L636.4,34.12 L636.9,34.09 L637.4,34.05 L637.9,34.02 L638.4,33.98 L638.9,33.95 L639.4,33.91 L639.9,33.88 L640.4,33.84 L640.9,33.81 L641.4,33.78 L641.9,33.74 L642.4,33.71 L642.9,33.68 L643.4,33.65 L643.9,33.61 L644.4,33.58 L644.9,33.55 L645.4,33.52 L645.9,33.49 L646.4,33.45 L646.9,33.42 L647.4,33.39 L647.9,33.36 L648.4,33.33 L648.9,33.30 L649.4,33.27 L649.9,33.24 L650.4,33.21 L650.9,33.18 L651.4,33.15 L651.9,33.13 L652.4,33.10 L652.9,33.07 L653.4,33.04 L653.9,33.01 L654.4,32.98 L654.9,32.96 L655.4,32.93 L655.9,32.90 L656.4,32.87 L656.9,32.85 L657.4,32.82 L657.9,32.79 L658.4,32.77 L658.9,32.74 L659.4,32.72 L659.9,32.69 L660.4,32.66 L660.9,32.64 L661.4,32.61 L661.9,32.59 L662.4,32.56 L662.9,32.54 L663.4,32.51 L663.9,32.49 L664.4,32.47 L664.9,32.44 L665.4,32.42 L665.9,32.39 L666.4,32.37 L666.9,32.35 L667.4,32.32 L667.9,32.30 L668.4,32.28 L668.9,32.25 L669.4,32.23 L669.9,32.21 L670.4,32.19 L670.9,32.16 L671.4,32.14 L671.9,32.12 L672.4,32.10 L672.9,32.08 L673.4,32.05 L673.9,32.03 L674.4,32.01 L674.9,31.99 L675.4,31.97 L675.9,31.95 L676.4,31.93 L676.9,31.91 L677.4,31.89 L677.9,31.87 L678.4,31.85 L678.9,31.82 L679.4,31.80 L679.9,31.79 L680.4,31.77 L680.9,31.75 L681.4,31.73 L681.9,31.71 L682.4,31.69 L682.9,31.67 L683.4,31.65 L683.9,31.63 L684.4,31.61 L684.9,31.59 L685.4,31.57 L685.9,31.56 L686.4,31.54 L686.9,31.52 L687.4,31.50 L687.9,31.48 L688.4,31.46 L688.9,31.45 L689.4,31.43 L689.9,31.41 L690.4,31.39 L690.9,31.38 L691.4,31.36 L691.9,31.34 L692.4,31.32 L692.9,31.31 L693.4,31.29 L693.9,31.27 L694.4,31.26 L694.9,31.24 L695.4,31.22 L695.9,31.21 L696.4,31.19 L696.9,31.17 L697.4,31.16 L697.9,31.14 L698.4,31.13 L698.9,31.11 L699.4,31.10 L699.9,31.08 L700.4,31.06 L700.9,31.05 L701.4,31.03 L701.9,31.02 L702.4,31.00 L702.9,30.99 L703.4,30.97 L703.9,30.96 L704.4,30.94 L704.9,30.93 L705.4,30.91 L705.9,30.90 L706.4,30.88 L706.9,30.87 L707.4,30.85 L707.9,30.84 L708.4,30.83 L708.9,30.81 L709.4,30.80 L709.9,30.78 L710.4,30.77 L710.9,30.76 L711.4,30.74 L711.9,30.73 L712.4,30.71 L712.9,30.70 L713.4,30.69 L713.9,30.67 L714.4,30.66 L714.9,30.65 L715.4,30.63 L715.9,30.62 L716.4,30.61 L716.9,30.59 L717.4,30.58 L717.9,30.57 L718.4,30.56 L718.9,30.54 L719.4,30.53 L719.9,30.52 L720.4,30.51 L720.9,30.49 L721.4,30.48 L721.9,30.47 L722.4,30.46 L722.9,30.44 L723.4,30.43 L723.9,30.42 L724.4,30.41 L724.9,30.40 L725.4,30.38 L725.9,30.37 L726.4,30.36 L726.9,30.35 L727.4,30.34 L727.9,30.33 L728.4,30.31 L728.9,30.30 L729.4,30.29 L729.9,30.28 L730.4,30.27 L730.9,30.26 L731.4,30.25 L731.9,30.23 L732.4,30.22 L732.9,30.21 L733.4,30.20 L733.9,30.19 L734.4,30.18 L734.9,30.17 L735.4,30.16 L735.9,30.15 L736.4,30.14 L736.9,30.13 L737.4,30.12 L737.9,30.11 L738.4,30.09 L738.9,30.08 L739.4,30.07 L739.9,30.06 L740.4,30.05 L740.9,30.04 L741.4,30.03 L741.9,30.02 L742.4,30.01 L742.9,30.00 L743.4,29.99 L743.9,29.98 L744.4,29.97 L744.9,29.96 L745.4,29.95 L745.9,29.94 L746.4,29.93 L746.9,29.93 L747.4,29.92 L747.9,29.91 L748.4,29.90 L748.9,29.89 L749.4,29.88 L749.9,29.87" stroke-width="4.8"/>
<path d="M150.4,28.60 L150.9,28.61 L151.4,28.62 L151.9,28.62 L152.4,28.63 L152.9,28.64 L153.4,28.65 L153.9,28.65 L154.4,28.66 L154.9,28.67 L155.4,28.68 L155.9,28.69 L156.4,28.69 L156.9,28.70 L157.4,28.71 L157.9,28.72 L158.4,28.72 L158.9,28.73 L159.4,28.74 L159.9,28.75 L160.4,28.75 L160.9,28.76 L161.4,28.77 L161.9,28.78 L162.4,28.78 L162.9,28.79 L163.4,28.80 L163.9,28.80 L164.4,28.81 L164.9,28.82 L165.4,28.83 L165.9,28.83 L166.4,28.84 L166.9,28.85 L167.4,28.86 L167.9,28.86 L168.4,28.87 L168.9,28.88 L169.4,28.88 L169.9,28.89 L170.4,28.90 L170.9,28.91 L171.4,28.91 L171.9,28.92 L172.4,28.93 L172.9,28.93 L173.4,28.94 L173.9,28.95 L174.4,28.95 L174.9,28.96 L175.4,28.97 L175.9,28.97 L176.4,28.98 L176.9,28.99 L177.4,29.00 L177.9,29.00 L178.4,29.01 L178.9,29.02 L179.4,29.02 L179.9,29.03 L180.4,29.04 L180.9,29.04 L181.4,29.05 L181.9,29.06 L182.4,29.06 L182.9,29.07 L183.4,29.08 L183.9,29.08 L184.4,29.09 L184.9,29.10 L185.4,29.11 L185.9,29.11 L186.4,29.12 L186.9,29.13 L187.4,29.13 L187.9,29.14 L188.4,29.15 L188.9,29.15 L189.4,29.16 L189.9,29.17 L190.4,29.17 L190.9,29.18 L191.4,29.19 L191.9,29.19 L192.4,29.20 L192.9,29.21 L193.4,29.21 L193.9,29.22 L194.4,29.23 L194.9,29.23 L195.4,29.24 L195.9,29.25 L196.4,29.25 L196.9,29.26 L197.4,29.27 L197.9,29.27 L198.4,29.28 L198.9,29.29 L199.4,29.29 L199.9,29.30 L200.4,29.31 L200.9,29.31 L201.4,29.32 L201.9,29.33 L202.4,29.33 L202.9,29.34 L203.4,29.35 L203.9,29.35 L204.4,29.36 L204.9,29.37 L205.4,29.37 L205.9,29.38 L206.4,29.39 L206.9,29.39 L207.4,29.40 L207.9,29.41 L208.4,29.42 L208.9,29.42 L209.4,29.43 L209.9,29.44 L210.4,29.44 L210.9,29.45 L211.4,29.46 L211.9,29.46 L212.4,29.47 L212.9,29.48 L213.4,29.48 L213.9,29.49 L214.4,29.50 L214.9,29.50 L215.4,29.51 L215.9,29.52 L216.4,29.53 L216.9,29.53 L217.4,29.54 L217.9,29.55 L218.4,29.55 L218.9,29.56 L219.4,29.57 L219.9,29.57 L220.4,29.58 L220.9,29.59 L221.4,29.60 L221.9,29.60 L222.4,29.61 L222.9,29.62 L223.4,29.62 L223.9,29.63 L224.4,29.64 L224.9,29.65 L225.4,29.65 L225.9,29.66 L226.4,29.67 L226.9,29.67 L227.4,29.68 L227.9,29.69 L228.4,29.70 L228.9,29.70 L229.4,29.71 L229.9,29.72 L230.4,29.73 L230.9,29.73 L231.4,29.74 L231.9,29.75 L232.4,29.75 L232.9,29.76 L233.4,29.77 L233.9,29.78 L234.4,29.78 L234.9,29.79 L235.4,29.80 L235.9,29.81 L236.4,29.81 L236.9,29.82 L237.4,29.83 L237.9,29.84 L238.4,29.85 L238.9,29.85 L239.4,29.86 L239.9,29.87 L240.4,29.88 L240.9,29.88 L241.4,29.89 L241.9,29.90 L242.4,29.91 L242.9,29.92 L243.4,29.92 L243.9,29.93 L244.4,29.94 L244.9,29.95 L245.4,29.96 L245.9,29.96 L246.4,29.97 L246.9,29.98 L247.4,29.99 L247.9,30.00 L248.4,30.00 L248.9,30.01 L249.4,30.02 L249.9,30.03 L250.4,30.04 L250.9,30.05 L251.4,30.05 L251.9,30.06 L252.4,30.07 L252.9,30.08 L253.4,30.09 L253.9,30.10 L254.4,30.10 L254.9,30.11 L255.4,30.12 L255.9,30.13 L256.4,30.14 L256.9,30.15 L257.4,30.16 L257.9,30.16 L258.4,30.17 L258.9,30.18 L259.4,30.19 L259.9,30.20 L260.4,30.21 L260.9,30.22 L261.4,30.23 L261.9,30.24 L262.4,30.25 L262.9,30.25 L263.4,30.26 L263.9,30.27 L264.4,30.28 L264.9,30.29 L265.4,30.30 L265.9,30.31 L266.4,30.32 L266.9,30.33 L267.4,30.34 L267.9,30.35 L268.4,30.36 L268.9,30.37 L269.4,30.38 L269.9,30.39 L270.4,30.40 L270.9,30.41 L271.4,30.42 L271.9,30.43 L272.4,30.43 L272.9,30.44 L273.4,30.45 L273.9,30.46 L274.4,30.47 L274.9,30.49 L275.4,30.50 L275.9,30.51 L276.4,30.52 L276.9,30.53 L277.4,30.54 L277.9,30.55 L278.4,30.56 L278.9,30.57 L279.4,30.58 L279.9,30.59 L280.4,30.60 L280.9,30.61 L281.4,30.62 L281.9,30.63 L282.4,30.64 L282.9,30.65 L283.4,30.66 L283.9,30.68 L284.4,30.69 L284.9,30.70 L285.4,30.71 L285.9,30.72 L286.4,30.73 L286.9,30.74 L287.4,30.75 L287.9,30.77 L288.4,30.78 L288.9,30.79 L289.4,30.80 L289.9,30.81 L290.4,30.82 L290.9,30.84 L291.4,30.85 L291.9,30.86 L292.4,30.87 L292.9,30.88 L293.4,30.90 L293.9,30.91 L294.4,30.92 L294.9,30.93 L295.4,30.94 L295.9,30.96 L296.4,30.97 L296.9,30.98 L297.4,30.99 L297.9,31.01 L298.4,31.02 L298.9,31.03 L299.4,31.05 L299.9,31.06 L300.4,31.07 L300.9,31.08 L301.4,31.10 L301.9,31.11 L302.4,31.12 L302.9,31.14 L303.4,31.15 L303.9,31.16 L304.4,31.18 L304.9,31.19 L305.4,31.21 L305.9,31.22 L306.4,31.23 L306.9,31.25 L307.4,31.26 L307.9,31.28 L308.4,31.29 L308.9,31.30 L309.4,31.32 L309.9,31.33 L310.4,31.35 L310.9,31.36 L311.4,31.38 L311.9,31.39 L312.4,31.41 L312.9,31.42 L313.4,31.44 L313.9,31.45 L314.4,31.47 L314.9,31.48 L315.4,31.50 L315.9,31.51 L316.4,31.53 L316.9,31.55 L317.4,31.56 L317.9,31.58 L318.4,31.59 L318.9,31.61 L319.4,31.63 L319.9,31.64 L320.4,31.66 L320.9,31.67 L321.4,31.69 L321.9,31.71 L322.4,31.72 L322.9,31.74 L323.4,31.76 L323.9,31.78 L324.4,31.79 L324.9,31.81 L325.4,31.83 L325.9,31.84 L326.4,31.86 L326.9,31.88 L327.4,31.90 L327.9,31.92 L328.4,31.93 L328.9,31.95 L329.4,31.97 L329.9,31.99 L330.4,32.01 L330.9,32.03 L331.4,32.04 L331.9,32.06 L332.4,32.08 L332.9,32.10 L333.4,32.12 L333.9,32.14 L334.4,32.16 L334.9,32.18 L335.4,32.20 L335.9,32.22 L336.4,32.24 L336.9,32.26 L337.4,32.28 L337.9,32.30 L338.4,32.32 L338.9,32.34 L339.4,32.36 L339.9,32.38 L340.4,32.40 L340.9,32.43 L341.4,32.45 L341.9,32.47 L342.4,32.49 L342.9,32.51 L343.4,32.53 L343.9,32.56 L344.4,32.58 L344.9,32.60 L345.4,32.62 L345.9,32.65 L346.4,32.67 L346.9,32.69 L347.4,32.71 L347.9,32.74 L348.4,32.76 L348.9,32.79 L349.4,32.81 L349.9,32.83 L350.4,32.86 L350.9,32.88 L351.4,32.91 L351.9,32.93 L352.4,32.96 L352.9,32.98 L353.4,33.01 L353.9,33.03 L354.4,33.06 L354.9,33.08 L355.4,33.11 L355.9,33.13 L356.4,33.16 L356.9,33.19 L357.4,33.21 L357.9,33.24 L358.4,33.27 L358.9,33.30 L359.4,33.32 L359.9,33.35 L360.4,33.38 L360.9,33.41 L361.4,33.43 L361.9,33.46 L362.4,33.49 L362.9,33.52 L363.4,33.55 L363.9,33.58 L364.4,33.61 L364.9,33.64 L365.4,33.67 L365.9,33.70 L366.4,33.73 L366.9,33.76 L367.4,33.79 L367.9,33.82 L368.4,33.85 L368.9,33.88 L369.4,33.92 L369.9,33.95 L370.4,33.98 L370.9,34.01 L371.4,34.05 L371.9,34.08 L372.4,34.11 L372.9,34.15 L373.4,34.18 L373.9,34.21 L374.4,34.25 L374.9,34.28 L375.4,34.32 L375.9,34.35 L376.4,34.39 L376.9,34.42 L377.4,34.46 L377.9,34.50 L378.4,34.53 L378.9,34.57 L379.4,34.61 L379.9,34.65 L380.4,34.68 L380.9,34.72 L381.4,34.76 L381.9,34.80 L382.4,34.84 L382.9,34.88 L383.4,34.92 L383.9,34.96 L384.4,35.00 L384.9,35.04 L385.4,35.08 L385.9,35.12 L386.4,35.16 L386.9,35.20 L387.4,35.25 L387.9,35.29 L388.4,35.33 L388.9,35.38 L389.4,35.42 L389.9,35.46 L390.4,35.51 L390.9,35.55 L391.4,35.60 L391.9,35.64 L392.4,35.69 L392.9,35.74 L393.4,35.78 L393.9,35.83 L394.4,35.88 L394.9,35.93 L395.4,35.98 L395.9,36.03 L396.4,36.07 L396.9,36.12 L397.4,36.17 L397.9,36.23 L398.4,36.28 L398.9,36.33 L399.4,36.38 L399.9,36.43 L400.4,36.49 L400.9,36.54 L401.4,36.59 L401.9,36.65 L402.4,36.70 L402.9,36.76 L403.4,36.81 L403.9,36.87 L404.4,36.93 L404.9,36.99 L405.4,37.04 L405.9,37.10 L406.4,37.16 L406.9,37.22 L407.4,37.28 L407.9,37.34 L408.4,37.40 L408.9,37.47 L409.4,37.53 L409.9,37.59 L410.4,37.66 L410.9,37.72 L411.4,37.78 L411.9,37.85 L412.4,37.92 L412.9,37.98 L413.4,38.05 L413.9,38.12 L414.4,38.19 L414.9,38.26 L415.4,38.33 L415.9,38.40 L416.4,38.47 L416.9,38.54 L417.4,38.62 L417.9,38.69 L418.4,38.76 L418.9,38.84 L419.4,38.91 L419.9,38.99 L420.4,39.07 L420.9,39.15 L421.4,39.23 L421.9,39.31 L422.4,39.39 L422.9,39.47 L423.4,39.55 L423.9,39.63 L424.4,39.72 L424.9,39.80 L425.4,39.89 L425.9,39.97 L426.4,40.06 L426.9,40.15 L427.4,40.24 L427.9,40.33 L428.4,40.42 L428.9,40.51 L429.4,40.61 L429.9,40.70 L430.4,40.80 L430.9,40.89 L431.4,40.99 L431.9,41.09 L432.4,41.19 L432.9,41.29 L433.4,41.39 L433.9,41.49 L434.4,41.60 L434.9,41.70 L435.4,41.81 L435.9,41.92 L436.4,42.02 L436.9,42.13 L437.4,42.24 L437.9,42.36 L438.4,42.47 L438.9,42.59 L439.4,42.70 L439.9,42.82 L440.4,42.94 L440.9,43.06 L441.4,43.18 L441.9,43.30 L442.4,43.43 L442.9,43.55 L443.4,43.68 L443.9,43.81 L444.4,43.94 L444.9,44.07 L445.4,44.20 L445.9,44.34 L446.4,44.48 L446.9,44.61 L447.4,44.75 L447.9,44.89 L448.4,45.04 L448.9,45.18 L449.4,45.33 L449.9,45.48 L450.4,45.63 L450.9,45.78 L451.4,45.94 L451.9,46.09 L452.4,46.25 L452.9,46.41 L453.4,46.57 L453.9,46.74 L454.4,46.90 L454.9,47.07 L455.4,47.24 L455.9,47.41 L456.4,47.59 L456.9,47.77 L457.4,47.94 L457.9,48.13 L458.4,48.31 L458.9,48.50 L459.4,48.69 L459.9,48.88 L460.4,49.07 L460.9,49.27 L461.4,49.47 L461.9,49.67 L462.4,49.87 L462.9,50.08 L463.4,50.29 L463.9,50.51 L464.4,50.72 L464.9,50.94 L465.4,51.16 L465.9,51.39 L466.4,51.62 L466.9,51.85 L467.4,52.08 L467.9,52.32 L468.4,52.56 L468.9,52.81 L469.4,53.06 L469.9,53.31 L470.4,53.56 L470.9,53.82 L471.4,54.09 L471.9,54.35 L472.4,54.62 L472.9,54.90 L473.4,55.18 L473.9,55.46 L474.4,55.75 L474.9,56.04 L475.4,56.33 L475.9,56.64 L476.4,56.94 L476.9,57.25 L477.4,57.56 L477.9,57.88 L478.4,58.21 L478.9,58.54 L479.4,58.87 L479.9,59.21 L480.4,59.56 L480.9,59.91 L481.4,60.26 L481.9,60.62 L482.4,60.99 L482.9,61.37 L483.4,61.74 L483.9,62.13 L484.4,62.52 L484.9,62.92 L485.4,63.33 L485.9,63.74 L486.4,64.16 L486.9,64.58 L487.4,65.01 L487.9,65.45 L488.4,65.90 L488.9,66.36 L489.4,66.82 L489.9,67.29 L490.4,67.77 L490.9,68.26 L491.4,68.75 L491.9,69.26 L492.4,69.77 L492.9,70.30 L493.4,70.83 L493.9,71.37 L494.4,71.92 L494.9,72.48 L495.4,73.05 L495.9,73.64 L496.4,74.23 L496.9,74.83 L497.4,75.45 L497.9,76.07 L498.4,76.71 L498.9,77.36 L499.4,78.02 L499.9,78.70 L500.4,79.39 L500.9,80.09 L501.4,80.80 L501.9,81.53 L502.4,82.28 L502.9,83.03 L503.4,83.81 L503.9,84.59 L504.4,85.40 L504.9,86.22 L505.4,87.05 L505.9,87.91 L506.4,88.78 L506.9,89.67 L507.4,90.57 L507.9,91.50 L508.4,92.45 L508.9,93.41 L509.4,94.40 L509.9,95.40 L510.4,96.43 L510.9,97.48 L511.4,98.55 L511.9,99.65 L512.4,100.77 L512.9,101.91 L513.4,103.08 L513.9,104.27 L514.4,105.49 L514.9,106.74 L515.4,108.02 L515.9,109.32 L516.4,110.66 L516.9,112.02 L517.4,113.42 L517.9,114.85 L518.4,116.31 L518.9,117.80 L519.4,119.34 L519.9,120.90 L520.4,122.50 L520.9,124.15 L521.4,125.83 L521.9,127.55 L522.4,129.31 L522.9,131.11 L523.4,132.96 L523.9,134.86 L524.4,136.80 L524.9,138.78 L525.4,140.82 L525.9,142.91 L526.4,145.05 L526.9,147.24 L527.4,149.49 L527.9,151.79 L528.4,154.16 L528.9,156.58 L529.4,159.07 L529.9,161.62 L530.4,164.23 L530.9,166.91 L531.4,169.66 L531.9,172.48 L532.4,175.38 L532.9,178.35 L533.4,181.40 L533.9,184.52 L534.4,187.73 L534.9,191.03 L535.4,194.41 L535.9,197.87 L536.4,201.43 L536.9,205.09 L537.4,208.83 L537.9,212.68 L538.4,216.62 L538.9,220.67 L539.4,224.83 L539.9,229.09 L540.4,233.46 L540.9,237.94 L541.4,242.54 L541.9,247.26 L542.4,252.09 L542.9,257.05 L543.4,262.12 L543.9,267.33 L544.4,272.66 L544.9,278.11 L545.4,283.70 L545.9,289.42 L546.4,295.26 L546.9,301.24 L547.4,307.35 L547.9,313.59 L548.4,319.96 L548.9,326.46 L549.4,333.09 L549.9,339.85 L550.4,346.72 L550.9,353.72 L551.4,360.83 L551.9,368.05 L552.4,375.37 L552.9,382.79 L553.4,390.30 L553.9,397.89 L554.4,405.55 L554.9,413.28 L555.4,421.05 L555.9,428.85 L556.4,436.68 L556.9,444.51 L557.4,452.33 L557.9,460.13 L558.4,467.87 L558.9,475.54 L559.4,483.13 L559.9,490.60 L560.4,497.94 L560.9,505.11 L561.4,512.10 L561.9,518.88 L562.4,525.43 L562.9,531.71 L563.4,537.70 L563.9,543.38 L564.4,548.72 L564.9,553.70 L565.4,558.29 L565.9,562.47 L566.4,566.22 L566.9,569.53 L567.4,572.37 L567.9,574.73 L568.4,576.60 L568.9,577.97 L569.4,578.83 L569.9,579.19 L570.4,579.03 L570.9,578.35 L571.4,577.18 L571.9,575.50 L572.4,573.34 L572.9,570.70 L573.4,567.59 L573.9,564.05 L574.4,560.07 L574.9,555.70 L575.4,550.93 L575.9,545.81 L576.4,540.36 L576.9,534.59 L577.4,528.54 L577.9,522.22 L578.4,515.68 L578.9,508.92 L579.4,501.98 L579.9,494.88 L580.4,487.64 L580.9,480.29 L581.4,472.85 L581.9,465.33 L582.4,457.77 L582.9,450.17 L583.4,442.56 L583.9,434.95 L584.4,427.35 L584.9,419.79 L585.4,412.27 L585.9,404.80 L586.4,397.40 L586.9,390.07 L587.4,382.82 L587.9,375.67 L588.4,368.61 L588.9,361.65 L589.4,354.81 L589.9,348.07 L590.4,341.45 L590.9,334.95 L591.4,328.56 L591.9,322.31 L592.4,316.17 L592.9,310.16 L593.4,304.27 L593.9,298.51 L594.4,292.87 L594.9,287.36 L595.4,281.97 L595.9,276.70 L596.4,271.55 L596.9,266.52 L597.4,261.61 L597.9,256.82 L598.4,252.14 L598.9,247.57 L599.4,243.11 L599.9,238.76 L600.4,234.52 L600.9,230.38 L601.4,226.34 L601.9,222.40 L602.4,218.55 L602.9,214.81 L603.4,211.15 L603.9,207.58 L604.4,204.11 L604.9,200.72 L605.4,197.41 L605.9,194.18 L606.4,191.03 L606.9,187.96 L607.4,184.97 L607.9,182.05 L608.4,179.20 L608.9,176.42 L609.4,173.71 L609.9,171.06 L610.4,168.48 L610.9,165.96 L611.4,163.50 L611.9,161.10 L612.4,158.76 L612.9,156.47 L613.4,154.24 L613.9,152.06 L614.4,149.93 L614.9,147.85 L615.4,145.82 L615.9,143.83 L616.4,141.89 L616.9,140.00 L617.4,138.15 L617.9,136.34 L618.4,134.58 L618.9,132.85 L619.4,131.16 L619.9,129.51 L620.4,127.90 L620.9,126.32 L621.4,124.78 L621.9,123.27 L622.4,121.79 L622.9,120.35 L623.4,118.94 L623.9,117.55 L624.4,116.20 L624.9,114.88 L625.4,113.58 L625.9,112.31 L626.4,111.07 L626.9,109.85 L627.4,108.66 L627.9,107.50 L628.4,106.35 L628.9,105.23 L629.4,104.14 L629.9,103.06 L630.4,102.01 L630.9,100.98 L631.4,99.97 L631.9,98.98 L632.4,98.00 L632.9,97.05 L633.4,96.12 L633.9,95.20 L634.4,94.30 L634.9,93.42 L635.4,92.56 L635.9,91.71 L636.4,90.88 L636.9,90.06 L637.4,89.26 L637.9,88.47 L638.4,87.70 L638.9,86.94 L639.4,86.20 L639.9,85.47 L640.4,84.75 L640.9,84.05 L641.4,83.36 L641.9,82.68 L642.4,82.01 L642.9,81.35 L643.4,80.71 L643.9,80.08 L644.4,79.45 L644.9,78.84 L645.4,78.24 L645.9,77.65 L646.4,77.07 L646.9,76.50 L647.4,75.94 L647.9,75.39 L648.4,74.85 L648.9,74.31 L649.4,73.79 L649.9,73.27 L650.4,72.77 L650.9,72.27 L651.4,71.78 L651.9,71.29 L652.4,70.82 L652.9,70.35 L653.4,69.89 L653.9,69.44 L654.4,68.99 L654.9,68.55 L655.4,68.12 L655.9,67.69 L656.4,67.27 L656.9,66.86 L657.4,66.45 L657.9,66.05 L658.4,65.66 L658.9,65.27 L659.4,64.89 L659.9,64.51 L660.4,64.14 L660.9,63.78 L661.4,63.42 L661.9,63.06 L662.4,62.71 L662.9,62.37 L663.4,62.03 L663.9,61.69 L664.4,61.36 L664.9,61.04 L665.4,60.72 L665.9,60.40 L666.4,60.09 L666.9,59.78 L667.4,59.48 L667.9,59.18 L668.4,58.89 L668.9,58.59 L669.4,58.31 L669.9,58.02 L670.4,57.75 L670.9,57.47 L671.4,57.20 L671.9,56.93 L672.4,56.67 L672.9,56.41 L673.4,56.15 L673.9,55.90 L674.4,55.64 L674.9,55.40 L675.4,55.15 L675.9,54.91 L676.4,54.67 L676.9,54.44 L677.4,54.21 L677.9,53.98 L678.4,53.75 L678.9,53.53 L679.4,53.31 L679.9,53.09 L680.4,52.88 L680.9,52.67 L681.4,52.46 L681.9,52.25 L682.4,52.05 L682.9,51.84 L683.4,51.64 L683.9,51.45 L684.4,51.25 L684.9,51.06 L685.4,50.87 L685.9,50.68 L686.4,50.50 L686.9,50.31 L687.4,50.13 L687.9,49.95 L688.4,49.78 L688.9,49.60 L689.4,49.43 L689.9,49.26 L690.4,49.09 L690.9,48.92 L691.4,48.76 L691.9,48.60 L692.4,48.43 L692.9,48.27 L693.4,48.12 L693.9,47.96 L694.4,47.81 L694.9,47.65 L695.4,47.50 L695.9,47.36 L696.4,47.21 L696.9,47.06 L697.4,46.92 L697.9,46.78 L698.4,46.63 L698.9,46.50 L699.4,46.36 L699.9,46.22 L700.4,46.09 L700.9,45.95 L701.4,45.82 L701.9,45.69 L702.4,45.56 L702.9,45.43 L703.4,45.30 L703.9,45.18 L704.4,45.06 L704.9,44.93 L705.4,44.81 L705.9,44.69 L706.4,44.57 L706.9,44.45 L707.4,44.34 L707.9,44.22 L708.4,44.11 L708.9,44.00 L709.4,43.88 L709.9,43.77 L710.4,43.66 L710.9,43.55 L711.4,43.45 L711.9,43.34 L712.4,43.23 L712.9,43.13 L713.4,43.03 L713.9,42.92 L714.4,42.82 L714.9,42.72 L715.4,42.62 L715.9,42.53 L716.4,42.43 L716.9,42.33 L717.4,42.24 L717.9,42.14 L718.4,42.05 L718.9,41.95 L719.4,41.86 L719.9,41.77 L720.4,41.68 L720.9,41.59 L721.4,41.50 L721.9,41.41 L722.4,41.33 L722.9,41.24 L723.4,41.16 L723.9,41.07 L724.4,40.99 L724.9,40.90 L725.4,40.82 L725.9,40.74 L726.4,40.66 L726.9,40.58 L727.4,40.50 L727.9,40.42 L728.4,40.34 L728.9,40.27 L729.4,40.19 L729.9,40.11 L730.4,40.04 L730.9,39.96 L731.4,39.89 L731.9,39.82 L732.4,39.74 L732.9,39.67 L733.4,39.60 L733.9,39.53 L734.4,39.46 L734.9,39.39 L735.4,39.32 L735.9,39.25 L736.4,39.18 L736.9,39.12 L737.4,39.05 L737.9,38.98 L738.4,38.92 L738.9,38.85 L739.4,38.79 L739.9,38.72 L740.4,38.66 L740.9,38.60 L741.4,38.54 L741.9,38.47 L742.4,38.41 L742.9,38.35 L743.4,38.29 L743.9,38.23 L744.4,38.17 L744.9,38.11 L745.4,38.05 L745.9,38.00 L746.4,37.94 L746.9,37.88 L747.4,37.82 L747.9,37.77 L748.4,37.71 L748.9,37.66 L749.4,37.60 L749.9,37.55 L750.4,37.49 L750.9,37.44 L751.4,37.39 L751.9,37.34 L752.4,37.28 L752.9,37.23 L753.4,37.18 L753.9,37.13 L754.4,37.08 L754.9,37.03 L755.4,36.98 L755.9,36.93 L756.4,36.88 L756.9,36.83 L757.4,36.78 L757.9,36.73 L758.4,36.69 L758.9,36.64 L759.4,36.59 L759.9,36.55 L760.4,36.50 L760.9,36.45 L761.4,36.41 L761.9,36.36 L762.4,36.32 L762.9,36.27 L763.4,36.23 L763.9,36.18 L764.4,36.14 L764.9,36.10 L765.4,36.05 L765.9,36.01 L766.4,35.97 L766.9,35.93 L767.4,35.89 L767.9,35.84 L768.4,35.80 L768.9,35.76 L769.4,35.72 L769.9,35.68 L770.4,35.64 L770.9,35.60 L771.4,35.56 L771.9,35.52 L772.4,35.48 L772.9,35.44 L773.4,35.41 L773.9,35.37 L774.4,35.33 L774.9,35.29 L775.4,35.26 L775.9,35.22 L776.4,35.18 L776.9,35.15 L777.4,35.11 L777.9,35.07 L778.4,35.04 L778.9,35.00 L779.4,34.97 L779.9,34.93 L780.4,34.90 L780.9,34.86 L781.4,34.83 L781.9,34.79 L782.4,34.76 L782.9,34.73 L783.4,34.69 L783.9,34.66 L784.4,34.63 L784.9,34.59 L785.4,34.56 L785.9,34.53 L786.4,34.50 L786.9,34.46 L787.4,34.43 L787.9,34.40 L788.4,34.37 L788.9,34.34 L789.4,34.31 L789.9,34.28 L790.4,34.25 L790.9,34.22 L791.4,34.19 L791.9,34.16 L792.4,34.13 L792.9,34.10 L793.4,34.07 L793.9,34.04 L794.4,34.01 L794.9,33.98 L795.4,33.95 L795.9,33.92 L796.4,33.89 L796.9,33.87 L797.4,33.84 L797.9,33.81 L798.4,33.78 L798.9,33.76 L799.4,33.73 L799.9,33.70 L800.4,33.67 L800.9,33.65 L801.4,33.62 L801.9,33.59 L802.4,33.57 L802.9,33.54 L803.4,33.52 L803.9,33.49 L804.4,33.46 L804.9,33.44 L805.4,33.41 L805.9,33.39 L806.4,33.36 L806.9,33.34 L807.4,33.31 L807.9,33.29 L808.4,33.27 L808.9,33.24 L809.4,33.22 L809.9,33.19 L810.4,33.17 L810.9,33.15 L811.4,33.12 L811.9,33.10 L812.4,33.08 L812.9,33.05 L813.4,33.03 L813.9,33.01 L814.4,32.98 L814.9,32.96 L815.4,32.94 L815.9,32.92 L816.4,32.89 L816.9,32.87 L817.4,32.85 L817.9,32.83 L818.4,32.81 L818.9,32.78 L819.4,32.76 L819.9,32.74 L820.4,32.72 L820.9,32.70 L821.4,32.68 L821.9,32.66 L822.4,32.64 L822.9,32.62 L823.4,32.60 L823.9,32.57 L824.4,32.55 L824.9,32.53 L825.4,32.51 L825.9,32.49 L826.4,32.47 L826.9,32.45 L827.4,32.43 L827.9,32.42 L828.4,32.40 L828.9,32.38 L829.4,32.36 L829.9,32.34 L830.4,32.32 L830.9,32.30 L831.4,32.28 L831.9,32.26 L832.4,32.24 L832.9,32.23 L833.4,32.21 L833.9,32.19 L834.4,32.17 L834.9,32.15 L835.4,32.13 L835.9,32.12 L836.4,32.10 L836.9,32.08 L837.4,32.06 L837.9,32.05 L838.4,32.03 L838.9,32.01 L839.4,31.99 L839.9,31.98 L840.4,31.96 L840.9,31.94 L841.4,31.93 L841.9,31.91 L842.4,31.89 L842.9,31.88 L843.4,31.86 L843.9,31.84 L844.4,31.83 L844.9,31.81 L845.4,31.79 L845.9,31.78 L846.4,31.76 L846.9,31.75 L847.4,31.73 L847.9,31.71 L848.4,31.70 L848.9,31.68 L849.4,31.67 L849.9,31.65 L850.4,31.64 L850.9,31.62 L851.4,31.61 L851.9,31.59 L852.4,31.58 L852.9,31.56 L853.4,31.55 L853.9,31.53 L854.4,31.52 L854.9,31.50 L855.4,31.49 L855.9,31.47 L856.4,31.46 L856.9,31.44 L857.4,31.43 L857.9,31.41 L858.4,31.40 L858.9,31.39 L859.4,31.37 L859.9,31.36 L860.4,31.34 L860.9,31.33 L861.4,31.32 L861.9,31.30 L862.4,31.29 L862.9,31.28 L863.4,31.26 L863.9,31.25 L864.4,31.23 L864.9,31.22 L865.4,31.21 L865.9,31.19 L866.4,31.18 L866.9,31.17 L867.4,31.16 L867.9,31.14 L868.4,31.13 L868.9,31.12 L869.4,31.10 L869.9,31.09 L870.4,31.08 L870.9,31.07 L871.4,31.05 L871.9,31.04 L872.4,31.03 L872.9,31.02 L873.4,31.00 L873.9,30.99 L874.4,30.98 L874.9,30.97 L875.4,30.95 L875.9,30.94 L876.4,30.93 L876.9,30.92 L877.4,30.91 L877.9,30.90 L878.4,30.88 L878.9,30.87 L879.4,30.86 L879.9,30.85 L880.4,30.84 L880.9,30.83 L881.4,30.81 L881.9,30.80 L882.4,30.79 L882.9,30.78 L883.4,30.77 L883.9,30.76 L884.4,30.75 L884.9,30.74 L885.4,30.72 L885.9,30.71 L886.4,30.70 L886.9,30.69 L887.4,30.68 L887.9,30.67 L888.4,30.66 L888.9,30.65 L889.4,30.64 L889.9,30.63 L890.4,30.62 L890.9,30.61 L891.4,30.60 L891.9,30.59 L892.4,30.57 L892.9,30.56 L893.4,30.55 L893.9,30.54 L894.4,30.53 L894.9,30.52 L895.4,30.51 L895.9,30.50 L896.4,30.49 L896.9,30.48 L897.4,30.47 L897.9,30.46 L898.4,30.45 L898.9,30.44 L899.4,30.43 L899.9,30.42 L900.4,30.41 L900.9,30.41 L901.4,30.40 L901.9,30.39 L902.4,30.38 L902.9,30.37 L903.4,30.36 L903.9,30.35 L904.4,30.34 L904.9,30.33 L905.4,30.32 L905.9,30.31 L906.4,30.30 L906.9,30.29 L907.4,30.28 L907.9,30.27 L908.4,30.27 L908.9,30.26 L909.4,30.25 L909.9,30.24 L910.4,30.23 L910.9,30.22 L911.4,30.21 L911.9,30.20 L912.4,30.19 L912.9,30.19 L913.4,30.18 L913.9,30.17 L914.4,30.16 L914.9,30.15 L915.4,30.14 L915.9,30.13 L916.4,30.13 L916.9,30.12 L917.4,30.11 L917.9,30.10 L918.4,30.09 L918.9,30.08 L919.4,30.08 L919.9,30.07 L920.4,30.06 L920.9,30.05 L921.4,30.04 L921.9,30.03 L922.4,30.03 L922.9,30.02 L923.4,30.01 L923.9,30.00 L924.4,29.99 L924.9,29.99 L925.4,29.98 L925.9,29.97 L926.4,29.96 L926.9,29.96 L927.4,29.95 L927.9,29.94 L928.4,29.93 L928.9,29.92 L929.4,29.92 L929.9,29.91 L930.4,29.90 L930.9,29.89 L931.4,29.89 L931.9,29.88 L932.4,29.87 L932.9,29.86 L933.4,29.86 L933.9,29.85 L934.4,29.84 L934.9,29.83 L935.4,29.83 L935.9,29.82 L936.4,29.81 L936.9,29.81 L937.4,29.80 L937.9,29.79 L938.4,29.78 L938.9,29.78 L939.4,29.77 L939.9,29.76 L940.4,29.76 L940.9,29.75 L941.4,29.74 L941.9,29.73 L942.4,29.73 L942.9,29.72 L943.4,29.71 L943.9,29.71 L944.4,29.70 L944.9,29.69 L945.4,29.69 L945.9,29.68 L946.4,29.67 L946.9,29.67 L947.4,29.66 L947.9,29.65 L948.4,29.65 L948.9,29.64 L949.4,29.63 L949.9,29.63 L950.4,29.62 L950.9,29.61 L951.4,29.61 L951.9,29.60 L952.4,29.59 L952.9,29.59 L953.4,29.58 L953.9,29.58 L954.4,29.57 L954.9,29.56 L955.4,29.56 L955.9,29.55 L956.4,29.54 L956.9,29.54 L957.4,29.53 L957.9,29.53 L958.4,29.52 L958.9,29.51 L959.4,29.51 L959.9,29.50 L960.4,29.50 L960.9,29.49 L961.4,29.48 L961.9,29.48 L962.4,29.47 L962.9,29.47 L963.4,29.46 L963.9,29.45 L964.4,29.45 L964.9,29.44 L965.4,29.44 L965.9,29.43 L966.4,29.42 L966.9,29.42 L967.4,29.41 L967.9,29.41 L968.4,29.40 L968.9,29.40 L969.4,29.39 L969.9,29.38 L970.4,29.38 L970.9,29.37 L971.4,29.37 L971.9,29.36 L972.4,29.36 L972.9,29.35 L973.4,29.35 L973.9,29.34 L974.4,29.33 L974.9,29.33 L975.4,29.32 L975.9,29.32 L976.4,29.31 L976.9,29.31 L977.4,29.30 L977.9,29.30 L978.4,29.29 L978.9,29.29 L979.4,29.28 L979.9,29.28 L980.4,29.27 L980.9,29.26 L981.4,29.26 L981.9,29.25 L982.4,29.25 L982.9,29.24 L983.4,29.24 L983.9,29.23 L984.4,29.23 L984.9,29.22 L985.4,29.22 L985.9,29.21 L986.4,29.21 L986.9,29.20 L987.4,29.20 L987.9,29.19 L988.4,29.19 L988.9,29.18 L989.4,29.18 L989.9,29.17 L990.4,29.17 L990.9,29.16 L991.4,29.16 L991.9,29.15 L992.4,29.15 L992.9,29.14 L993.4,29.14 L993.9,29.13 L994.4,29.13 L994.9,29.12 L995.4,29.12 L995.9,29.12 L996.4,29.11 L996.9,29.11 L997.4,29.10 L997.9,29.10 L998.4,29.09 L998.9,29.09 L999.4,29.08 L999.9,29.08 L1000.4,29.07 L1000.9,29.07 L1001.4,29.06 L1001.9,29.06 L1002.4,29.06 L1002.9,29.05 L1003.4,29.05 L1003.9,29.04 L1004.4,29.04 L1004.9,29.03 L1005.4,29.03 L1005.9,29.02 L1006.4,29.02 L1006.9,29.01 L1007.4,29.01 L1007.9,29.01 L1008.4,29.00 L1008.9,29.00 L1009.4,28.99 L1009.9,28.99 L1010.4,28.98 L1010.9,28.98 L1011.4,28.98 L1011.9,28.97 L1012.4,28.97 L1012.9,28.96 L1013.4,28.96 L1013.9,28.95 L1014.4,28.95 L1014.9,28.95 L1015.4,28.94 L1015.9,28.94 L1016.4,28.93 L1016.9,28.93 L1017.4,28.93 L1017.9,28.92 L1018.4,28.92 L1018.9,28.91 L1019.4,28.91" stroke-width="2.6"/>
<path d="M150.4,28.60 L150.9,28.61 L151.4,28.62 L151.9,28.64 L152.4,28.65 L152.9,28.66 L153.4,28.67 L153.9,28.68 L154.4,28.69 L154.9,28.70 L155.4,28.72 L155.9,28.73 L156.4,28.74 L156.9,28.75 L157.4,28.76 L157.9,28.77 L158.4,28.78 L158.9,28.79 L159.4,28.81 L159.9,28.82 L160.4,28.83 L160.9,28.84 L161.4,28.85 L161.9,28.86 L162.4,28.87 L162.9,28.88 L163.4,28.89 L163.9,28.90 L164.4,28.91 L164.9,28.92 L165.4,28.93 L165.9,28.94 L166.4,28.95 L166.9,28.96 L167.4,28.97 L167.9,28.98 L168.4,28.99 L168.9,29.00 L169.4,29.01 L169.9,29.02 L170.4,29.03 L170.9,29.04 L171.4,29.05 L171.9,29.06 L172.4,29.07 L172.9,29.08 L173.4,29.09 L173.9,29.10 L174.4,29.11 L174.9,29.12 L175.4,29.13 L175.9,29.14 L176.4,29.15 L176.9,29.16 L177.4,29.17 L177.9,29.18 L178.4,29.19 L178.9,29.20 L179.4,29.21 L179.9,29.22 L180.4,29.23 L180.9,29.24 L181.4,29.24 L181.9,29.25 L182.4,29.26 L182.9,29.27 L183.4,29.28 L183.9,29.29 L184.4,29.30 L184.9,29.31 L185.4,29.32 L185.9,29.33 L186.4,29.34 L186.9,29.34 L187.4,29.35 L187.9,29.36 L188.4,29.37 L188.9,29.38 L189.4,29.39 L189.9,29.40 L190.4,29.41 L190.9,29.41 L191.4,29.42 L191.9,29.43 L192.4,29.44 L192.9,29.45 L193.4,29.46 L193.9,29.47 L194.4,29.48 L194.9,29.48 L195.4,29.49 L195.9,29.50 L196.4,29.51 L196.9,29.52 L197.4,29.53 L197.9,29.54 L198.4,29.54 L198.9,29.55 L199.4,29.56 L199.9,29.57 L200.4,29.58 L200.9,29.59 L201.4,29.59 L201.9,29.60 L202.4,29.61 L202.9,29.62 L203.4,29.63 L203.9,29.64 L204.4,29.64 L204.9,29.65 L205.4,29.66 L205.9,29.67 L206.4,29.68 L206.9,29.69 L207.4,29.69 L207.9,29.70 L208.4,29.71 L208.9,29.72 L209.4,29.73 L209.9,29.74 L210.4,29.74 L210.9,29.75 L211.4,29.76 L211.9,29.77 L212.4,29.78 L212.9,29.78 L213.4,29.79 L213.9,29.80 L214.4,29.81 L214.9,29.82 L215.4,29.83 L215.9,29.83 L216.4,29.84 L216.9,29.85 L217.4,29.86 L217.9,29.87 L218.4,29.87 L218.9,29.88 L219.4,29.89 L219.9,29.90 L220.4,29.91 L220.9,29.91 L221.4,29.92 L221.9,29.93 L222.4,29.94 L222.9,29.95 L223.4,29.96 L223.9,29.96 L224.4,29.97 L224.9,29.98 L225.4,29.99 L225.9,30.00 L226.4,30.00 L226.9,30.01 L227.4,30.02 L227.9,30.03 L228.4,30.04 L228.9,30.04 L229.4,30.05 L229.9,30.06 L230.4,30.07 L230.9,30.08 L231.4,30.09 L231.9,30.09 L232.4,30.10 L232.9,30.11 L233.4,30.12 L233.9,30.13 L234.4,30.13 L234.9,30.14 L235.4,30.15 L235.9,30.16 L236.4,30.17 L236.9,30.18 L237.4,30.18 L237.9,30.19 L238.4,30.20 L238.9,30.21 L239.4,30.22 L239.9,30.22 L240.4,30.23 L240.9,30.24 L241.4,30.25 L241.9,30.26 L242.4,30.27 L242.9,30.27 L243.4,30.28 L243.9,30.29 L244.4,30.30 L244.9,30.31 L245.4,30.32 L245.9,30.32 L246.4,30.33 L246.9,30.34 L247.4,30.35 L247.9,30.36 L248.4,30.37 L248.9,30.38 L249.4,30.38 L249.9,30.39 L250.4,30.40 L250.9,30.41 L251.4,30.42 L251.9,30.43 L252.4,30.43 L252.9,30.44 L253.4,30.45 L253.9,30.46 L254.4,30.47 L254.9,30.48 L255.4,30.49 L255.9,30.50 L256.4,30.50 L256.9,30.51 L257.4,30.52 L257.9,30.53 L258.4,30.54 L258.9,30.55 L259.4,30.56 L259.9,30.57 L260.4,30.57 L260.9,30.58 L261.4,30.59 L261.9,30.60 L262.4,30.61 L262.9,30.62 L263.4,30.63 L263.9,30.64 L264.4,30.65 L264.9,30.65 L265.4,30.66 L265.9,30.67 L266.4,30.68 L266.9,30.69 L267.4,30.70 L267.9,30.71 L268.4,30.72 L268.9,30.73 L269.4,30.74 L269.9,30.75 L270.4,30.76 L270.9,30.77 L271.4,30.77 L271.9,30.78 L272.4,30.79 L272.9,30.80 L273.4,30.81 L273.9,30.82 L274.4,30.83 L274.9,30.84 L275.4,30.85 L275.9,30.86 L276.4,30.87 L276.9,30.88 L277.4,30.89 L277.9,30.90 L278.4,30.91 L278.9,30.92 L279.4,30.93 L279.9,30.94 L280.4,30.95 L280.9,30.96 L281.4,30.97 L281.9,30.98 L282.4,30.99 L282.9,31.00 L283.4,31.01 L283.9,31.02 L284.4,31.03 L284.9,31.04 L285.4,31.05 L285.9,31.06 L286.4,31.07 L286.9,31.08 L287.4,31.09 L287.9,31.10 L288.4,31.11 L288.9,31.12 L289.4,31.13 L289.9,31.14 L290.4,31.15 L290.9,31.16 L291.4,31.17 L291.9,31.19 L292.4,31.20 L292.9,31.21 L293.4,31.22 L293.9,31.23 L294.4,31.24 L294.9,31.25 L295.4,31.26 L295.9,31.27 L296.4,31.28 L296.9,31.29 L297.4,31.31 L297.9,31.32 L298.4,31.33 L298.9,31.34 L299.4,31.35 L299.9,31.36 L300.4,31.37 L300.9,31.39 L301.4,31.40 L301.9,31.41 L302.4,31.42 L302.9,31.43 L303.4,31.44 L303.9,31.45 L304.4,31.47 L304.9,31.48 L305.4,31.49 L305.9,31.50 L306.4,31.51 L306.9,31.53 L307.4,31.54 L307.9,31.55 L308.4,31.56 L308.9,31.57 L309.4,31.59 L309.9,31.60 L310.4,31.61 L310.9,31.62 L311.4,31.64 L311.9,31.65 L312.4,31.66 L312.9,31.67 L313.4,31.69 L313.9,31.70 L314.4,31.71 L314.9,31.73 L315.4,31.74 L315.9,31.75 L316.4,31.76 L316.9,31.78 L317.4,31.79 L317.9,31.80 L318.4,31.82 L318.9,31.83 L319.4,31.84 L319.9,31.86 L320.4,31.87 L320.9,31.88 L321.4,31.90 L321.9,31.91 L322.4,31.93 L322.9,31.94 L323.4,31.95 L323.9,31.97 L324.4,31.98 L324.9,32.00 L325.4,32.01 L325.9,32.02 L326.4,32.04 L326.9,32.05 L327.4,32.07 L327.9,32.08 L328.4,32.10 L328.9,32.11 L329.4,32.13 L329.9,32.14 L330.4,32.16 L330.9,32.17 L331.4,32.19 L331.9,32.20 L332.4,32.22 L332.9,32.23 L333.4,32.25 L333.9,32.26 L334.4,32.28 L334.9,32.29 L335.4,32.31 L335.9,32.32 L336.4,32.34 L336.9,32.35 L337.4,32.37 L337.9,32.39 L338.4,32.40 L338.9,32.42 L339.4,32.44 L339.9,32.45 L340.4,32.47 L340.9,32.48 L341.4,32.50 L341.9,32.52 L342.4,32.53 L342.9,32.55 L343.4,32.57 L343.9,32.58 L344.4,32.60 L344.9,32.62 L345.4,32.64 L345.9,32.65 L346.4,32.67 L346.9,32.69 L347.4,32.71 L347.9,32.72 L348.4,32.74 L348.9,32.76 L349.4,32.78 L349.9,32.80 L350.4,32.81 L350.9,32.83 L351.4,32.85 L351.9,32.87 L352.4,32.89 L352.9,32.91 L353.4,32.93 L353.9,32.94 L354.4,32.96 L354.9,32.98 L355.4,33.00 L355.9,33.02 L356.4,33.04 L356.9,33.06 L357.4,33.08 L357.9,33.10 L358.4,33.12 L358.9,33.14 L359.4,33.16 L359.9,33.18 L360.4,33.20 L360.9,33.22 L361.4,33.24 L361.9,33.26 L362.4,33.28 L362.9,33.30 L363.4,33.32 L363.9,33.34 L364.4,33.37 L364.9,33.39 L365.4,33.41 L365.9,33.43 L366.4,33.45 L366.9,33.47 L367.4,33.49 L367.9,33.52 L368.4,33.54 L368.9,33.56 L369.4,33.58 L369.9,33.61 L370.4,33.63 L370.9,33.65 L371.4,33.68 L371.9,33.70 L372.4,33.72 L372.9,33.74 L373.4,33.77 L373.9,33.79 L374.4,33.82 L374.9,33.84 L375.4,33.86 L375.9,33.89 L376.4,33.91 L376.9,33.94 L377.4,33.96 L377.9,33.99 L378.4,34.01 L378.9,34.04 L379.4,34.06 L379.9,34.09 L380.4,34.11 L380.9,34.14 L381.4,34.16 L381.9,34.19 L382.4,34.22 L382.9,34.24 L383.4,34.27 L383.9,34.30 L384.4,34.32 L384.9,34.35 L385.4,34.38 L385.9,34.41 L386.4,34.43 L386.9,34.46 L387.4,34.49 L387.9,34.52 L388.4,34.54 L388.9,34.57 L389.4,34.60 L389.9,34.63 L390.4,34.66 L390.9,34.69 L391.4,34.72 L391.9,34.75 L392.4,34.78 L392.9,34.81 L393.4,34.84 L393.9,34.87 L394.4,34.90 L394.9,34.93 L395.4,34.96 L395.9,34.99 L396.4,35.02 L396.9,35.05 L397.4,35.09 L397.9,35.12 L398.4,35.15 L398.9,35.18 L399.4,35.21 L399.9,35.25 L400.4,35.28 L400.9,35.31 L401.4,35.35 L401.9,35.38 L402.4,35.41 L402.9,35.45 L403.4,35.48 L403.9,35.52 L404.4,35.55 L404.9,35.59 L405.4,35.62 L405.9,35.66 L406.4,35.69 L406.9,35.73 L407.4,35.77 L407.9,35.80 L408.4,35.84 L408.9,35.88 L409.4,35.91 L409.9,35.95 L410.4,35.99 L410.9,36.03 L411.4,36.07 L411.9,36.10 L412.4,36.14 L412.9,36.18 L413.4,36.22 L413.9,36.26 L414.4,36.30 L414.9,36.34 L415.4,36.38 L415.9,36.42 L416.4,36.47 L416.9,36.51 L417.4,36.55 L417.9,36.59 L418.4,36.63 L418.9,36.68 L419.4,36.72 L419.9,36.76 L420.4,36.81 L420.9,36.85 L421.4,36.89 L421.9,36.94 L422.4,36.98 L422.9,37.03 L423.4,37.07 L423.9,37.12 L424.4,37.17 L424.9,37.21 L425.4,37.26 L425.9,37.31 L426.4,37.36 L426.9,37.40 L427.4,37.45 L427.9,37.50 L428.4,37.55 L428.9,37.60 L429.4,37.65 L429.9,37.70 L430.4,37.75 L430.9,37.80 L431.4,37.85 L431.9,37.90 L432.4,37.96 L432.9,38.01 L433.4,38.06 L433.9,38.12 L434.4,38.17 L434.9,38.22 L435.4,38.28 L435.9,38.33 L436.4,38.39 L436.9,38.45 L437.4,38.50 L437.9,38.56 L438.4,38.62 L438.9,38.67 L439.4,38.73 L439.9,38.79 L440.4,38.85 L440.9,38.91 L441.4,38.97 L441.9,39.03 L442.4,39.09 L442.9,39.16 L443.4,39.22 L443.9,39.28 L444.4,39.34 L444.9,39.41 L445.4,39.47 L445.9,39.54 L446.4,39.60 L446.9,39.67 L447.4,39.73 L447.9,39.80 L448.4,39.87 L448.9,39.94 L449.4,40.01 L449.9,40.08 L450.4,40.15 L450.9,40.22 L451.4,40.29 L451.9,40.36 L452.4,40.43 L452.9,40.50 L453.4,40.58 L453.9,40.65 L454.4,40.73 L454.9,40.80 L455.4,40.88 L455.9,40.96 L456.4,41.03 L456.9,41.11 L457.4,41.19 L457.9,41.27 L458.4,41.35 L458.9,41.43 L459.4,41.51 L459.9,41.60 L460.4,41.68 L460.9,41.76 L461.4,41.85 L461.9,41.93 L462.4,42.02 L462.9,42.11 L463.4,42.20 L463.9,42.29 L464.4,42.37 L464.9,42.47 L465.4,42.56 L465.9,42.65 L466.4,42.74 L466.9,42.84 L467.4,42.93 L467.9,43.03 L468.4,43.12 L468.9,43.22 L469.4,43.32 L469.9,43.42 L470.4,43.52 L470.9,43.62 L471.4,43.72 L471.9,43.82 L472.4,43.93 L472.9,44.03 L473.4,44.14 L473.9,44.25 L474.4,44.36 L474.9,44.46 L475.4,44.57 L475.9,44.69 L476.4,44.80 L476.9,44.91 L477.4,45.03 L477.9,45.14 L478.4,45.26 L478.9,45.38 L479.4,45.50 L479.9,45.62 L480.4,45.74 L480.9,45.86 L481.4,45.99 L481.9,46.11 L482.4,46.24 L482.9,46.37 L483.4,46.50 L483.9,46.63 L484.4,46.76 L484.9,46.90 L485.4,47.03 L485.9,47.17 L486.4,47.31 L486.9,47.45 L487.4,47.59 L487.9,47.73 L488.4,47.87 L488.9,48.02 L489.4,48.17 L489.9,48.31 L490.4,48.46 L490.9,48.62 L491.4,48.77 L491.9,48.93 L492.4,49.08 L492.9,49.24 L493.4,49.40 L493.9,49.56 L494.4,49.73 L494.9,49.89 L495.4,50.06 L495.9,50.23 L496.4,50.40 L496.9,50.58 L497.4,50.75 L497.9,50.93 L498.4,51.11 L498.9,51.29 L499.4,51.47 L499.9,51.66 L500.4,51.85 L500.9,52.04 L501.4,52.23 L501.9,52.42 L502.4,52.62 L502.9,52.82 L503.4,53.02 L503.9,53.23 L504.4,53.43 L504.9,53.64 L505.4,53.85 L505.9,54.07 L506.4,54.28 L506.9,54.50 L507.4,54.72 L507.9,54.95 L508.4,55.17 L508.9,55.40 L509.4,55.64 L509.9,55.87 L510.4,56.11 L510.9,56.35 L511.4,56.60 L511.9,56.85 L512.4,57.10 L512.9,57.35 L513.4,57.61 L513.9,57.87 L514.4,58.13 L514.9,58.40 L515.4,58.67 L515.9,58.95 L516.4,59.23 L516.9,59.51 L517.4,59.79 L517.9,60.08 L518.4,60.37 L518.9,60.67 L519.4,60.97 L519.9,61.28 L520.4,61.59 L520.9,61.90 L521.4,62.22 L521.9,62.54 L522.4,62.87 L522.9,63.20 L523.4,63.53 L523.9,63.87 L524.4,64.22 L524.9,64.57 L525.4,64.92 L525.9,65.28 L526.4,65.65 L526.9,66.02 L527.4,66.39 L527.9,66.77 L528.4,67.16 L528.9,67.55 L529.4,67.95 L529.9,68.35 L530.4,68.76 L530.9,69.17 L531.4,69.59 L531.9,70.02 L532.4,70.45 L532.9,70.89 L533.4,71.34 L533.9,71.80 L534.4,72.26 L534.9,72.72 L535.4,73.20 L535.9,73.68 L536.4,74.17 L536.9,74.67 L537.4,75.17 L537.9,75.68 L538.4,76.20 L538.9,76.73 L539.4,77.27 L539.9,77.82 L540.4,78.37 L540.9,78.94 L541.4,79.51 L541.9,80.09 L542.4,80.68 L542.9,81.28 L543.4,81.89 L543.9,82.51 L544.4,83.15 L544.9,83.79 L545.4,84.44 L545.9,85.11 L546.4,85.78 L546.9,86.47 L547.4,87.16 L547.9,87.88 L548.4,88.60 L548.9,89.33 L549.4,90.08 L549.9,90.84 L550.4,91.62 L550.9,92.40 L551.4,93.20 L551.9,94.02 L552.4,94.85 L552.9,95.70 L553.4,96.56 L553.9,97.43 L554.4,98.33 L554.9,99.24 L555.4,100.16 L555.9,101.10 L556.4,102.07 L556.9,103.04 L557.4,104.04 L557.9,105.06 L558.4,106.09 L558.9,107.14 L559.4,108.22 L559.9,109.31 L560.4,110.43 L560.9,111.57 L561.4,112.73 L561.9,113.91 L562.4,115.12 L562.9,116.35 L563.4,117.60 L563.9,118.88 L564.4,120.19 L564.9,121.52 L565.4,122.88 L565.9,124.26 L566.4,125.68 L566.9,127.12 L567.4,128.60 L567.9,130.10 L568.4,131.64 L568.9,133.20 L569.4,134.80 L569.9,136.44 L570.4,138.11 L570.9,139.81 L571.4,141.55 L571.9,143.33 L572.4,145.14 L572.9,147.00 L573.4,148.90 L573.9,150.83 L574.4,152.81 L574.9,154.84 L575.4,156.90 L575.9,159.02 L576.4,161.18 L576.9,163.39 L577.4,165.65 L577.9,167.95 L578.4,170.32 L578.9,172.73 L579.4,175.20 L579.9,177.72 L580.4,180.31 L580.9,182.95 L581.4,185.65 L581.9,188.42 L582.4,191.25 L582.9,194.14 L583.4,197.10 L583.9,200.13 L584.4,203.23 L584.9,206.40 L585.4,209.65 L585.9,212.97 L586.4,216.37 L586.9,219.85 L587.4,223.41 L587.9,227.05 L588.4,230.78 L588.9,234.59 L589.4,238.49 L589.9,242.48 L590.4,246.57 L590.9,250.75 L591.4,255.02 L591.9,259.39 L592.4,263.87 L592.9,268.44 L593.4,273.12 L593.9,277.90 L594.4,282.79 L594.9,287.79 L595.4,292.89 L595.9,298.11 L596.4,303.44 L596.9,308.88 L597.4,314.43 L597.9,320.10 L598.4,325.89 L598.9,331.79 L599.4,337.80 L599.9,343.94 L600.4,350.18 L600.9,356.54 L601.4,363.01 L601.9,369.60 L602.4,376.29 L602.9,383.09 L603.4,389.99 L603.9,396.99 L604.4,404.09 L604.9,411.28 L605.4,418.56 L605.9,425.92 L606.4,433.35 L606.9,440.85 L607.4,448.41 L607.9,456.01 L608.4,463.66 L608.9,471.34 L609.4,479.04 L609.9,486.74 L610.4,494.44 L610.9,502.11 L611.4,509.75 L611.9,517.34 L612.4,524.86 L612.9,532.30 L613.4,539.64 L613.9,546.85 L614.4,553.93 L614.9,560.84 L615.4,567.58 L615.9,574.11 L616.4,580.42 L616.9,586.50 L617.4,592.31 L617.9,597.83 L618.4,603.06 L618.9,607.96 L619.4,612.53 L619.9,616.73 L620.4,620.56 L620.9,624.00 L621.4,627.03 L621.9,629.65 L622.4,631.84 L622.9,633.59 L623.4,634.90 L623.9,635.76 L624.4,636.16 L624.9,636.11 L625.4,635.61 L625.9,634.65 L626.4,633.24 L626.9,631.39 L627.4,629.11 L627.9,626.41 L628.4,623.30 L628.9,619.79 L629.4,615.90 L629.9,611.64 L630.4,607.04 L630.9,602.10 L631.4,596.86 L631.9,591.32 L632.4,585.50 L632.9,579.44 L633.4,573.15 L633.9,566.64 L634.4,559.94 L634.9,553.08 L635.4,546.06 L635.9,538.91 L636.4,531.65 L636.9,524.29 L637.4,516.85 L637.9,509.36 L638.4,501.81 L638.9,494.24 L639.4,486.66 L639.9,479.06 L640.4,471.48 L640.9,463.92 L641.4,456.40 L641.9,448.91 L642.4,441.48 L642.9,434.10 L643.4,426.80 L643.9,419.56 L644.4,412.41 L644.9,405.34 L645.4,398.36 L645.9,391.48 L646.4,384.70 L646.9,378.02 L647.4,371.44 L647.9,364.97 L648.4,358.60 L648.9,352.35 L649.4,346.21 L649.9,340.18 L650.4,334.26 L650.9,328.45 L651.4,322.76 L651.9,317.18 L652.4,311.71 L652.9,306.35 L653.4,301.10 L653.9,295.96 L654.4,290.92 L654.9,285.99 L655.4,281.17 L655.9,276.45 L656.4,271.84 L656.9,267.32 L657.4,262.90 L657.9,258.58 L658.4,254.35 L658.9,250.22 L659.4,246.18 L659.9,242.22 L660.4,238.36 L660.9,234.58 L661.4,230.89 L661.9,227.28 L662.4,223.75 L662.9,220.30 L663.4,216.92 L663.9,213.63 L664.4,210.40 L664.9,207.25 L665.4,204.16 L665.9,201.15 L666.4,198.20 L666.9,195.32 L667.4,192.50 L667.9,189.75 L668.4,187.05 L668.9,184.42 L669.4,181.84 L669.9,179.32 L670.4,176.85 L670.9,174.44 L671.4,172.08 L671.9,169.77 L672.4,167.51 L672.9,165.30 L673.4,163.13 L673.9,161.01 L674.4,158.94 L674.9,156.91 L675.4,154.93 L675.9,152.98 L676.4,151.08 L676.9,149.21 L677.4,147.39 L677.9,145.60 L678.4,143.85 L678.9,142.13 L679.4,140.45 L679.9,138.81 L680.4,137.19 L680.9,135.61 L681.4,134.06 L681.9,132.55 L682.4,131.06 L682.9,129.60 L683.4,128.17 L683.9,126.77 L684.4,125.40 L684.9,124.05 L685.4,122.73 L685.9,121.43 L686.4,120.16 L686.9,118.91 L687.4,117.69 L687.9,116.49 L688.4,115.31 L688.9,114.16 L689.4,113.02 L689.9,111.91 L690.4,110.82 L690.9,109.74 L691.4,108.69 L691.9,107.66 L692.4,106.64 L692.9,105.65 L693.4,104.67 L693.9,103.71 L694.4,102.76 L694.9,101.83 L695.4,100.92 L695.9,100.03 L696.4,99.15 L696.9,98.28 L697.4,97.43 L697.9,96.60 L698.4,95.78 L698.9,94.97 L699.4,94.18 L699.9,93.40 L700.4,92.63 L700.9,91.88 L701.4,91.14 L701.9,90.41 L702.4,89.69 L702.9,88.99 L703.4,88.29 L703.9,87.61 L704.4,86.94 L704.9,86.28 L705.4,85.63 L705.9,84.99 L706.4,84.36 L706.9,83.74 L707.4,83.13 L707.9,82.53 L708.4,81.94 L708.9,81.36 L709.4,80.79 L709.9,80.22 L710.4,79.67 L710.9,79.12 L711.4,78.58 L711.9,78.05 L712.4,77.53 L712.9,77.01 L713.4,76.51 L713.9,76.01 L714.4,75.52 L714.9,75.03 L715.4,74.55 L715.9,74.08 L716.4,73.62 L716.9,73.16 L717.4,72.71 L717.9,72.27 L718.4,71.83 L718.9,71.40 L719.4,70.97 L719.9,70.55 L720.4,70.14 L720.9,69.73 L721.4,69.33 L721.9,68.93 L722.4,68.54 L722.9,68.16 L723.4,67.78 L723.9,67.40 L724.4,67.03 L724.9,66.67 L725.4,66.31 L725.9,65.95 L726.4,65.60 L726.9,65.25 L727.4,64.91 L727.9,64.58 L728.4,64.24 L728.9,63.92 L729.4,63.59 L729.9,63.27 L730.4,62.96 L730.9,62.65 L731.4,62.34 L731.9,62.03 L732.4,61.73 L732.9,61.44 L733.4,61.15 L733.9,60.86 L734.4,60.57 L734.9,60.29 L735.4,60.01 L735.9,59.74 L736.4,59.47 L736.9,59.20 L737.4,58.94 L737.9,58.68 L738.4,58.42 L738.9,58.16 L739.4,57.91 L739.9,57.66 L740.4,57.42 L740.9,57.17 L741.4,56.93 L741.9,56.70 L742.4,56.46 L742.9,56.23 L743.4,56.00 L743.9,55.77 L744.4,55.55 L744.9,55.33 L745.4,55.11 L745.9,54.89 L746.4,54.68 L746.9,54.47 L747.4,54.26 L747.9,54.06 L748.4,53.85 L748.9,53.65 L749.4,53.45 L749.9,53.25 L750.4,53.06 L750.9,52.86 L751.4,52.67 L751.9,52.48 L752.4,52.30 L752.9,52.11 L753.4,51.93 L753.9,51.75 L754.4,51.57 L754.9,51.39 L755.4,51.22 L755.9,51.05 L756.4,50.88 L756.9,50.71 L757.4,50.54 L757.9,50.37 L758.4,50.21 L758.9,50.05 L759.4,49.89 L759.9,49.73 L760.4,49.57 L760.9,49.41 L761.4,49.26 L761.9,49.11 L762.4,48.96 L762.9,48.81 L763.4,48.66 L763.9,48.51 L764.4,48.37 L764.9,48.22 L765.4,48.08 L765.9,47.94 L766.4,47.80 L766.9,47.66 L767.4,47.53 L767.9,47.39 L768.4,47.26 L768.9,47.13 L769.4,47.00 L769.9,46.87 L770.4,46.74 L770.9,46.61 L771.4,46.48 L771.9,46.36 L772.4,46.23 L772.9,46.11 L773.4,45.99 L773.9,45.87 L774.4,45.75 L774.9,45.63 L775.4,45.52 L775.9,45.40 L776.4,45.29 L776.9,45.17 L777.4,45.06 L777.9,44.95 L778.4,44.84 L778.9,44.73 L779.4,44.62 L779.9,44.51 L780.4,44.41 L780.9,44.30 L781.4,44.20 L781.9,44.09 L782.4,43.99 L782.9,43.89 L783.4,43.79 L783.9,43.69 L784.4,43.59 L784.9,43.49 L785.4,43.39 L785.9,43.30 L786.4,43.20 L786.9,43.10 L787.4,43.01 L787.9,42.92 L788.4,42.83 L788.9,42.73 L789.4,42.64 L789.9,42.55 L790.4,42.46 L790.9,42.38 L791.4,42.29 L791.9,42.20 L792.4,42.11 L792.9,42.03 L793.4,41.94 L793.9,41.86 L794.4,41.78 L794.9,41.69 L795.4,41.61 L795.9,41.53 L796.4,41.45 L796.9,41.37 L797.4,41.29 L797.9,41.21 L798.4,41.14 L798.9,41.06 L799.4,40.98 L799.9,40.91 L800.4,40.83 L800.9,40.76 L801.4,40.68 L801.9,40.61 L802.4,40.53 L802.9,40.46 L803.4,40.39 L803.9,40.32 L804.4,40.25 L804.9,40.18 L805.4,40.11 L805.9,40.04 L806.4,39.97 L806.9,39.90 L807.4,39.84 L807.9,39.77 L808.4,39.70 L808.9,39.64 L809.4,39.57 L809.9,39.51 L810.4,39.44 L810.9,39.38 L811.4,39.32 L811.9,39.25 L812.4,39.19 L812.9,39.13 L813.4,39.07 L813.9,39.01 L814.4,38.95 L814.9,38.89 L815.4,38.83 L815.9,38.77 L816.4,38.71 L816.9,38.65 L817.4,38.59 L817.9,38.53 L818.4,38.48 L818.9,38.42 L819.4,38.36 L819.9,38.31 L820.4,38.25 L820.9,38.20 L821.4,38.14 L821.9,38.09 L822.4,38.04 L822.9,37.98 L823.4,37.93 L823.9,37.88 L824.4,37.83 L824.9,37.77 L825.4,37.72 L825.9,37.67 L826.4,37.62 L826.9,37.57 L827.4,37.52 L827.9,37.47 L828.4,37.42 L828.9,37.37 L829.4,37.32 L829.9,37.28 L830.4,37.23 L830.9,37.18 L831.4,37.13 L831.9,37.09 L832.4,37.04 L832.9,36.99 L833.4,36.95 L833.9,36.90 L834.4,36.86 L834.9,36.81 L835.4,36.77 L835.9,36.72 L836.4,36.68 L836.9,36.63 L837.4,36.59 L837.9,36.55 L838.4,36.50 L838.9,36.46 L839.4,36.42 L839.9,36.38 L840.4,36.34 L840.9,36.29 L841.4,36.25 L841.9,36.21 L842.4,36.17 L842.9,36.13 L843.4,36.09 L843.9,36.05 L844.4,36.01 L844.9,35.97 L845.4,35.93 L845.9,35.89 L846.4,35.85 L846.9,35.82 L847.4,35.78 L847.9,35.74 L848.4,35.70 L848.9,35.67 L849.4,35.63 L849.9,35.59 L850.4,35.55 L850.9,35.52 L851.4,35.48 L851.9,35.45 L852.4,35.41 L852.9,35.37 L853.4,35.34 L853.9,35.30 L854.4,35.27 L854.9,35.23 L855.4,35.20 L855.9,35.17 L856.4,35.13 L856.9,35.10 L857.4,35.07 L857.9,35.03 L858.4,35.00 L858.9,34.97 L859.4,34.93 L859.9,34.90 L860.4,34.87 L860.9,34.84 L861.4,34.80 L861.9,34.77 L862.4,34.74 L862.9,34.71 L863.4,34.68 L863.9,34.65 L864.4,34.62 L864.9,34.59 L865.4,34.56 L865.9,34.52 L866.4,34.49 L866.9,34.46 L867.4,34.44 L867.9,34.41 L868.4,34.38 L868.9,34.35 L869.4,34.32 L869.9,34.29 L870.4,34.26 L870.9,34.23 L871.4,34.20 L871.9,34.18 L872.4,34.15 L872.9,34.12 L873.4,34.09 L873.9,34.06 L874.4,34.04 L874.9,34.01 L875.4,33.98 L875.9,33.96 L876.4,33.93 L876.9,33.90 L877.4,33.88 L877.9,33.85 L878.4,33.82 L878.9,33.80 L879.4,33.77 L879.9,33.75 L880.4,33.72 L880.9,33.70 L881.4,33.67 L881.9,33.64 L882.4,33.62 L882.9,33.59 L883.4,33.57 L883.9,33.55 L884.4,33.52 L884.9,33.50 L885.4,33.47 L885.9,33.45 L886.4,33.42 L886.9,33.40 L887.4,33.38 L887.9,33.35 L888.4,33.33 L888.9,33.31 L889.4,33.28 L889.9,33.26 L890.4,33.24 L890.9,33.22 L891.4,33.19 L891.9,33.17 L892.4,33.15 L892.9,33.13 L893.4,33.10 L893.9,33.08 L894.4,33.06 L894.9,33.04 L895.4,33.02 L895.9,32.99 L896.4,32.97 L896.9,32.95 L897.4,32.93 L897.9,32.91 L898.4,32.89 L898.9,32.87 L899.4,32.85 L899.9,32.83 L900.4,32.81 L900.9,32.79 L901.4,32.77 L901.9,32.74 L902.4,32.72 L902.9,32.70 L903.4,32.68 L903.9,32.67 L904.4,32.65 L904.9,32.63 L905.4,32.61 L905.9,32.59 L906.4,32.57 L906.9,32.55 L907.4,32.53 L907.9,32.51 L908.4,32.49 L908.9,32.47 L909.4,32.45 L909.9,32.44 L910.4,32.42 L910.9,32.40 L911.4,32.38 L911.9,32.36 L912.4,32.34 L912.9,32.33 L913.4,32.31 L913.9,32.29 L914.4,32.27 L914.9,32.25 L915.4,32.24 L915.9,32.22 L916.4,32.20 L916.9,32.18 L917.4,32.17 L917.9,32.15 L918.4,32.13 L918.9,32.12 L919.4,32.10 L919.9,32.08 L920.4,32.06 L920.9,32.05 L921.4,32.03 L921.9,32.01 L922.4,32.00 L922.9,31.98 L923.4,31.97 L923.9,31.95 L924.4,31.93 L924.9,31.92 L925.4,31.90 L925.9,31.89 L926.4,31.87 L926.9,31.85 L927.4,31.84 L927.9,31.82 L928.4,31.81 L928.9,31.79 L929.4,31.78 L929.9,31.76 L930.4,31.75 L930.9,31.73 L931.4,31.72 L931.9,31.70 L932.4,31.69 L932.9,31.67 L933.4,31.66 L933.9,31.64 L934.4,31.63 L934.9,31.61 L935.4,31.60 L935.9,31.58 L936.4,31.57 L936.9,31.55 L937.4,31.54 L937.9,31.53 L938.4,31.51 L938.9,31.50 L939.4,31.48 L939.9,31.47 L940.4,31.46 L940.9,31.44 L941.4,31.43 L941.9,31.41 L942.4,31.40 L942.9,31.39 L943.4,31.37 L943.9,31.36 L944.4,31.35 L944.9,31.33 L945.4,31.32 L945.9,31.31 L946.4,31.29 L946.9,31.28 L947.4,31.27 L947.9,31.25 L948.4,31.24 L948.9,31.23 L949.4,31.22 L949.9,31.20 L950.4,31.19 L950.9,31.18 L951.4,31.17 L951.9,31.15 L952.4,31.14 L952.9,31.13 L953.4,31.12 L953.9,31.10 L954.4,31.09 L954.9,31.08 L955.4,31.07 L955.9,31.05 L956.4,31.04 L956.9,31.03 L957.4,31.02 L957.9,31.01 L958.4,30.99 L958.9,30.98 L959.4,30.97 L959.9,30.96 L960.4,30.95 L960.9,30.94 L961.4,30.92 L961.9,30.91 L962.4,30.90 L962.9,30.89 L963.4,30.88 L963.9,30.87 L964.4,30.86 L964.9,30.85 L965.4,30.83 L965.9,30.82 L966.4,30.81 L966.9,30.80 L967.4,30.79 L967.9,30.78 L968.4,30.77 L968.9,30.76 L969.4,30.75 L969.9,30.74 L970.4,30.73 L970.9,30.72 L971.4,30.70 L971.9,30.69 L972.4,30.68 L972.9,30.67 L973.4,30.66 L973.9,30.65 L974.4,30.64 L974.9,30.63 L975.4,30.62 L975.9,30.61 L976.4,30.60 L976.9,30.59 L977.4,30.58 L977.9,30.57 L978.4,30.56 L978.9,30.55 L979.4,30.54 L979.9,30.53 L980.4,30.52 L980.9,30.51 L981.4,30.50 L981.9,30.49 L982.4,30.48 L982.9,30.47 L983.4,30.46 L983.9,30.45 L984.4,30.44 L984.9,30.43 L985.4,30.42 L985.9,30.42 L986.4,30.41 L986.9,30.40 L987.4,30.39 L987.9,30.38 L988.4,30.37 L988.9,30.36 L989.4,30.35 L989.9,30.34 L990.4,30.33 L990.9,30.32 L991.4,30.31 L991.9,30.31 L992.4,30.30 L992.9,30.29 L993.4,30.28 L993.9,30.27 L994.4,30.26 L994.9,30.25 L995.4,30.24 L995.9,30.24 L996.4,30.23 L996.9,30.22 L997.4,30.21 L997.9,30.20 L998.4,30.19 L998.9,30.18 L999.4,30.18 L999.9,30.17 L1000.4,30.16 L1000.9,30.15 L1001.4,30.14 L1001.9,30.13 L1002.4,30.13 L1002.9,30.12 L1003.4,30.11 L1003.9,30.10 L1004.4,30.09 L1004.9,30.08 L1005.4,30.08 L1005.9,30.07 L1006.4,30.06 L1006.9,30.05 L1007.4,30.04 L1007.9,30.04 L1008.4,30.03 L1008.9,30.02 L1009.4,30.01 L1009.9,30.00 L1010.4,30.00 L1010.9,29.99 L1011.4,29.98 L1011.9,29.97 L1012.4,29.97 L1012.9,29.96 L1013.4,29.95 L1013.9,29.94 L1014.4,29.94 L1014.9,29.93 L1015.4,29.92 L1015.9,29.91 L1016.4,29.91 L1016.9,29.90 L1017.4,29.89 L1017.9,29.88 L1018.4,29.88 L1018.9,29.87 L1019.4,29.86" stroke-width="4.8"/>
<path d="M150.4,28.60 L150.9,28.60 L151.4,28.61 L151.9,28.61 L152.4,28.62 L152.9,28.62 L153.4,28.63 L153.9,28.63 L154.4,28.63 L154.9,28.64 L155.4,28.64 L155.9,28.65 L156.4,28.65 L156.9,28.65 L157.4,28.66 L157.9,28.66 L158.4,28.67 L158.9,28.67 L159.4,28.67 L159.9,28.68 L160.4,28.68 L160.9,28.69 L161.4,28.69 L161.9,28.69 L162.4,28.70 L162.9,28.70 L163.4,28.71 L163.9,28.71 L164.4,28.71 L164.9,28.72 L165.4,28.72 L165.9,28.73 L166.4,28.73 L166.9,28.73 L167.4,28.74 L167.9,28.74 L168.4,28.75 L168.9,28.75 L169.4,28.75 L169.9,28.76 L170.4,28.76 L170.9,28.77 L171.4,28.77 L171.9,28.77 L172.4,28.78 L172.9,28.78 L173.4,28.78 L173.9,28.79 L174.4,28.79 L174.9,28.80 L175.4,28.80 L175.9,28.80 L176.4,28.81 L176.9,28.81 L177.4,28.82 L177.9,28.82 L178.4,28.82 L178.9,28.83 L179.4,28.83 L179.9,28.83 L180.4,28.84 L180.9,28.84 L181.4,28.85 L181.9,28.85 L182.4,28.85 L182.9,28.86 L183.4,28.86 L183.9,28.86 L184.4,28.87 L184.9,28.87 L185.4,28.88 L185.9,28.88 L186.4,28.88 L186.9,28.89 L187.4,28.89 L187.9,28.89 L188.4,28.90 L188.9,28.90 L189.4,28.91 L189.9,28.91 L190.4,28.91 L190.9,28.92 L191.4,28.92 L191.9,28.92 L192.4,28.93 L192.9,28.93 L193.4,28.94 L193.9,28.94 L194.4,28.94 L194.9,28.95 L195.4,28.95 L195.9,28.95 L196.4,28.96 L196.9,28.96 L197.4,28.97 L197.9,28.97 L198.4,28.97 L198.9,28.98 L199.4,28.98 L199.9,28.98 L200.4,28.99 L200.9,28.99 L201.4,29.00 L201.9,29.00 L202.4,29.00 L202.9,29.01 L203.4,29.01 L203.9,29.01 L204.4,29.02 L204.9,29.02 L205.4,29.03 L205.9,29.03 L206.4,29.03 L206.9,29.04 L207.4,29.04 L207.9,29.04 L208.4,29.05 L208.9,29.05 L209.4,29.06 L209.9,29.06 L210.4,29.06 L210.9,29.07 L211.4,29.07 L211.9,29.07 L212.4,29.08 L212.9,29.08 L213.4,29.09 L213.9,29.09 L214.4,29.09 L214.9,29.10 L215.4,29.10 L215.9,29.10 L216.4,29.11 L216.9,29.11 L217.4,29.12 L217.9,29.12 L218.4,29.12 L218.9,29.13 L219.4,29.13 L219.9,29.14 L220.4,29.14 L220.9,29.14 L221.4,29.15 L221.9,29.15 L222.4,29.15 L222.9,29.16 L223.4,29.16 L223.9,29.17 L224.4,29.17 L224.9,29.17 L225.4,29.18 L225.9,29.18 L226.4,29.19 L226.9,29.19 L227.4,29.19 L227.9,29.20 L228.4,29.20 L228.9,29.21 L229.4,29.21 L229.9,29.21 L230.4,29.22 L230.9,29.22 L231.4,29.23 L231.9,29.23 L232.4,29.23 L232.9,29.24 L233.4,29.24 L233.9,29.25 L234.4,29.25 L234.9,29.25 L235.4,29.26 L235.9,29.26 L236.4,29.27 L236.9,29.27 L237.4,29.27 L237.9,29.28 L238.4,29.28 L238.9,29.29 L239.4,29.29 L239.9,29.29 L240.4,29.30 L240.9,29.30 L241.4,29.31 L241.9,29.31 L242.4,29.32 L242.9,29.32 L243.4,29.32 L243.9,29.33 L244.4,29.33 L244.9,29.34 L245.4,29.34 L245.9,29.34 L246.4,29.35 L246.9,29.35 L247.4,29.36 L247.9,29.36 L248.4,29.37 L248.9,29.37 L249.4,29.37 L249.9,29.38 L250.4,29.38 L250.9,29.39 L251.4,29.39 L251.9,29.40 L252.4,29.40 L252.9,29.41 L253.4,29.41 L253.9,29.41 L254.4,29.42 L254.9,29.42 L255.4,29.43 L255.9,29.43 L256.4,29.44 L256.9,29.44 L257.4,29.45 L257.9,29.45 L258.4,29.45 L258.9,29.46 L259.4,29.46 L259.9,29.47 L260.4,29.47 L260.9,29.48 L261.4,29.48 L261.9,29.49 L262.4,29.49 L262.9,29.50 L263.4,29.50 L263.9,29.50 L264.4,29.51 L264.9,29.51 L265.4,29.52 L265.9,29.52 L266.4,29.53 L266.9,29.53 L267.4,29.54 L267.9,29.54 L268.4,29.55 L268.9,29.55 L269.4,29.56 L269.9,29.56 L270.4,29.57 L270.9,29.57 L271.4,29.58 L271.9,29.58 L272.4,29.59 L272.9,29.59 L273.4,29.60 L273.9,29.60 L274.4,29.61 L274.9,29.61 L275.4,29.62 L275.9,29.62 L276.4,29.63 L276.9,29.63 L277.4,29.64 L277.9,29.64 L278.4,29.65 L278.9,29.65 L279.4,29.66 L279.9,29.66 L280.4,29.67 L280.9,29.67 L281.4,29.68 L281.9,29.68 L282.4,29.69 L282.9,29.69 L283.4,29.70 L283.9,29.70 L284.4,29.71 L284.9,29.71 L285.4,29.72 L285.9,29.72 L286.4,29.73 L286.9,29.73 L287.4,29.74 L287.9,29.75 L288.4,29.75 L288.9,29.76 L289.4,29.76 L289.9,29.77 L290.4,29.77 L290.9,29.78 L291.4,29.78 L291.9,29.79 L292.4,29.79 L292.9,29.80 L293.4,29.81 L293.9,29.81 L294.4,29.82 L294.9,29.82 L295.4,29.83 L295.9,29.83 L296.4,29.84 L296.9,29.85 L297.4,29.85 L297.9,29.86 L298.4,29.86 L298.9,29.87 L299.4,29.87 L299.9,29.88 L300.4,29.89 L300.9,29.89 L301.4,29.90 L301.9,29.90 L302.4,29.91 L302.9,29.92 L303.4,29.92 L303.9,29.93 L304.4,29.93 L304.9,29.94 L305.4,29.95 L305.9,29.95 L306.4,29.96 L306.9,29.97 L307.4,29.97 L307.9,29.98 L308.4,29.98 L308.9,29.99 L309.4,30.00 L309.9,30.00 L310.4,30.01 L310.9,30.02 L311.4,30.02 L311.9,30.03 L312.4,30.03 L312.9,30.04 L313.4,30.05 L313.9,30.05 L314.4,30.06 L314.9,30.07 L315.4,30.07 L315.9,30.08 L316.4,30.09 L316.9,30.09 L317.4,30.10 L317.9,30.11 L318.4,30.11 L318.9,30.12 L319.4,30.13 L319.9,30.13 L320.4,30.14 L320.9,30.15 L321.4,30.16 L321.9,30.16 L322.4,30.17 L322.9,30.18 L323.4,30.18 L323.9,30.19 L324.4,30.20 L324.9,30.20 L325.4,30.21 L325.9,30.22 L326.4,30.23 L326.9,30.23 L327.4,30.24 L327.9,30.25 L328.4,30.25 L328.9,30.26 L329.4,30.27 L329.9,30.28 L330.4,30.28 L330.9,30.29 L331.4,30.30 L331.9,30.31 L332.4,30.31 L332.9,30.32 L333.4,30.33 L333.9,30.34 L334.4,30.35 L334.9,30.35 L335.4,30.36 L335.9,30.37 L336.4,30.38 L336.9,30.38 L337.4,30.39 L337.9,30.40 L338.4,30.41 L338.9,30.42 L339.4,30.42 L339.9,30.43 L340.4,30.44 L340.9,30.45 L341.4,30.46 L341.9,30.46 L342.4,30.47 L342.9,30.48 L343.4,30.49 L343.9,30.50 L344.4,30.51 L344.9,30.51 L345.4,30.52 L345.9,30.53 L346.4,30.54 L346.9,30.55 L347.4,30.56 L347.9,30.57 L348.4,30.57 L348.9,30.58 L349.4,30.59 L349.9,30.60 L350.4,30.61 L350.9,30.62 L351.4,30.63 L351.9,30.64 L352.4,30.64 L352.9,30.65 L353.4,30.66 L353.9,30.67 L354.4,30.68 L354.9,30.69 L355.4,30.70 L355.9,30.71 L356.4,30.72 L356.9,30.73 L357.4,30.74 L357.9,30.75 L358.4,30.75 L358.9,30.76 L359.4,30.77 L359.9,30.78 L360.4,30.79 L360.9,30.80 L361.4,30.81 L361.9,30.82 L362.4,30.83 L362.9,30.84 L363.4,30.85 L363.9,30.86 L364.4,30.87 L364.9,30.88 L365.4,30.89 L365.9,30.90 L366.4,30.91 L366.9,30.92 L367.4,30.93 L367.9,30.94 L368.4,30.95 L368.9,30.96 L369.4,30.97 L369.9,30.98 L370.4,30.99 L370.9,31.01 L371.4,31.02 L371.9,31.03 L372.4,31.04 L372.9,31.05 L373.4,31.06 L373.9,31.07 L374.4,31.08 L374.9,31.09 L375.4,31.10 L375.9,31.11 L376.4,31.13 L376.9,31.14 L377.4,31.15 L377.9,31.16 L378.4,31.17 L378.9,31.18 L379.4,31.19 L379.9,31.20 L380.4,31.22 L380.9,31.23 L381.4,31.24 L381.9,31.25 L382.4,31.26 L382.9,31.28 L383.4,31.29 L383.9,31.30 L384.4,31.31 L384.9,31.32 L385.4,31.34 L385.9,31.35 L386.4,31.36 L386.9,31.37 L387.4,31.38 L387.9,31.40 L388.4,31.41 L388.9,31.42 L389.4,31.43 L389.9,31.45 L390.4,31.46 L390.9,31.47 L391.4,31.49 L391.9,31.50 L392.4,31.51 L392.9,31.52 L393.4,31.54 L393.9,31.55 L394.4,31.56 L394.9,31.58 L395.4,31.59 L395.9,31.60 L396.4,31.62 L396.9,31.63 L397.4,31.65 L397.9,31.66 L398.4,31.67 L398.9,31.69 L399.4,31.70 L399.9,31.71 L400.4,31.73 L400.9,31.74 L401.4,31.76 L401.9,31.77 L402.4,31.79 L402.9,31.80 L403.4,31.82 L403.9,31.83 L404.4,31.84 L404.9,31.86 L405.4,31.87 L405.9,31.89 L406.4,31.90 L406.9,31.92 L407.4,31.93 L407.9,31.95 L408.4,31.96 L408.9,31.98 L409.4,32.00 L409.9,32.01 L410.4,32.03 L410.9,32.04 L411.4,32.06 L411.9,32.07 L412.4,32.09 L412.9,32.11 L413.4,32.12 L413.9,32.14 L414.4,32.15 L414.9,32.17 L415.4,32.19 L415.9,32.20 L416.4,32.22 L416.9,32.24 L417.4,32.25 L417.9,32.27 L418.4,32.29 L418.9,32.31 L419.4,32.32 L419.9,32.34 L420.4,32.36 L420.9,32.37 L421.4,32.39 L421.9,32.41 L422.4,32.43 L422.9,32.45 L423.4,32.46 L423.9,32.48 L424.4,32.50 L424.9,32.52 L425.4,32.54 L425.9,32.55 L426.4,32.57 L426.9,32.59 L427.4,32.61 L427.9,32.63 L428.4,32.65 L428.9,32.67 L429.4,32.69 L429.9,32.71 L430.4,32.73 L430.9,32.75 L431.4,32.76 L431.9,32.78 L432.4,32.80 L432.9,32.82 L433.4,32.84 L433.9,32.86 L434.4,32.88 L434.9,32.91 L435.4,32.93 L435.9,32.95 L436.4,32.97 L436.9,32.99 L437.4,33.01 L437.9,33.03 L438.4,33.05 L438.9,33.07 L439.4,33.09 L439.9,33.12 L440.4,33.14 L440.9,33.16 L441.4,33.18 L441.9,33.20 L442.4,33.23 L442.9,33.25 L443.4,33.27 L443.9,33.29 L444.4,33.32 L444.9,33.34 L445.4,33.36 L445.9,33.39 L446.4,33.41 L446.9,33.43 L447.4,33.46 L447.9,33.48 L448.4,33.50 L448.9,33.53 L449.4,33.55 L449.9,33.58 L450.4,33.60 L450.9,33.62 L451.4,33.65 L451.9,33.67 L452.4,33.70 L452.9,33.72 L453.4,33.75 L453.9,33.78 L454.4,33.80 L454.9,33.83 L455.4,33.85 L455.9,33.88 L456.4,33.90 L456.9,33.93 L457.4,33.96 L457.9,33.98 L458.4,34.01 L458.9,34.04 L459.4,34.07 L459.9,34.09 L460.4,34.12 L460.9,34.15 L461.4,34.18 L461.9,34.20 L462.4,34.23 L462.9,34.26 L463.4,34.29 L463.9,34.32 L464.4,34.35 L464.9,34.38 L465.4,34.41 L465.9,34.44 L466.4,34.47 L466.9,34.50 L467.4,34.53 L467.9,34.56 L468.4,34.59 L468.9,34.62 L469.4,34.65 L469.9,34.68 L470.4,34.71 L470.9,34.74 L471.4,34.77 L471.9,34.81 L472.4,34.84 L472.9,34.87 L473.4,34.90 L473.9,34.94 L474.4,34.97 L474.9,35.00 L475.4,35.04 L475.9,35.07 L476.4,35.10 L476.9,35.14 L477.4,35.17 L477.9,35.21 L478.4,35.24 L478.9,35.28 L479.4,35.31 L479.9,35.35 L480.4,35.38 L480.9,35.42 L481.4,35.45 L481.9,35.49 L482.4,35.53 L482.9,35.56 L483.4,35.60 L483.9,35.64 L484.4,35.68 L484.9,35.71 L485.4,35.75 L485.9,35.79 L486.4,35.83 L486.9,35.87 L487.4,35.91 L487.9,35.95 L488.4,35.99 L488.9,36.03 L489.4,36.07 L489.9,36.11 L490.4,36.15 L490.9,36.19 L491.4,36.23 L491.9,36.27 L492.4,36.31 L492.9,36.36 L493.4,36.40 L493.9,36.44 L494.4,36.49 L494.9,36.53 L495.4,36.57 L495.9,36.62 L496.4,36.66 L496.9,36.71 L497.4,36.75 L497.9,36.80 L498.4,36.84 L498.9,36.89 L499.4,36.93 L499.9,36.98 L500.4,37.03 L500.9,37.08 L501.4,37.12 L501.9,37.17 L502.4,37.22 L502.9,37.27 L503.4,37.32 L503.9,37.37 L504.4,37.42 L504.9,37.47 L505.4,37.52 L505.9,37.57 L506.4,37.62 L506.9,37.67 L507.4,37.73 L507.9,37.78 L508.4,37.83 L508.9,37.88 L509.4,37.94 L509.9,37.99 L510.4,38.05 L510.9,38.10 L511.4,38.16 L511.9,38.21 L512.4,38.27 L512.9,38.33 L513.4,38.38 L513.9,38.44 L514.4,38.50 L514.9,38.56 L515.4,38.62 L515.9,38.68 L516.4,38.74 L516.9,38.80 L517.4,38.86 L517.9,38.92 L518.4,38.98 L518.9,39.04 L519.4,39.10 L519.9,39.17 L520.4,39.23 L520.9,39.30 L521.4,39.36 L521.9,39.43 L522.4,39.49 L522.9,39.56 L523.4,39.62 L523.9,39.69 L524.4,39.76 L524.9,39.83 L525.4,39.90 L525.9,39.97 L526.4,40.04 L526.9,40.11 L527.4,40.18 L527.9,40.25 L528.4,40.32 L528.9,40.40 L529.4,40.47 L529.9,40.54 L530.4,40.62 L530.9,40.69 L531.4,40.77 L531.9,40.85 L532.4,40.93 L532.9,41.00 L533.4,41.08 L533.9,41.16 L534.4,41.24 L534.9,41.32 L535.4,41.40 L535.9,41.49 L536.4,41.57 L536.9,41.65 L537.4,41.74 L537.9,41.82 L538.4,41.91 L538.9,41.99 L539.4,42.08 L539.9,42.17 L540.4,42.26 L540.9,42.35 L541.4,42.44 L541.9,42.53 L542.4,42.62 L542.9,42.71 L543.4,42.81 L543.9,42.90 L544.4,43.00 L544.9,43.09 L545.4,43.19 L545.9,43.29 L546.4,43.39 L546.9,43.49 L547.4,43.59 L547.9,43.69 L548.4,43.79 L548.9,43.89 L549.4,44.00 L549.9,44.10 L550.4,44.21 L550.9,44.32 L551.4,44.43 L551.9,44.53 L552.4,44.64 L552.9,44.76 L553.4,44.87 L553.9,44.98 L554.4,45.10 L554.9,45.21 L555.4,45.33 L555.9,45.45 L556.4,45.56 L556.9,45.68 L557.4,45.81 L557.9,45.93 L558.4,46.05 L558.9,46.18 L559.4,46.30 L559.9,46.43 L560.4,46.56 L560.9,46.69 L561.4,46.82 L561.9,46.95 L562.4,47.08 L562.9,47.22 L563.4,47.35 L563.9,47.49 L564.4,47.63 L564.9,47.77 L565.4,47.91 L565.9,48.06 L566.4,48.20 L566.9,48.35 L567.4,48.49 L567.9,48.64 L568.4,48.79 L568.9,48.94 L569.4,49.10 L569.9,49.25 L570.4,49.41 L570.9,49.57 L571.4,49.73 L571.9,49.89 L572.4,50.05 L572.9,50.22 L573.4,50.39 L573.9,50.55 L574.4,50.72 L574.9,50.90 L575.4,51.07 L575.9,51.25 L576.4,51.43 L576.9,51.60 L577.4,51.79 L577.9,51.97 L578.4,52.16 L578.9,52.34 L579.4,52.53 L579.9,52.72 L580.4,52.92 L580.9,53.12 L581.4,53.31 L581.9,53.51 L582.4,53.72 L582.9,53.92 L583.4,54.13 L583.9,54.34 L584.4,54.55 L584.9,54.76 L585.4,54.98 L585.9,55.20 L586.4,55.42 L586.9,55.65 L587.4,55.87 L587.9,56.10 L588.4,56.34 L588.9,56.57 L589.4,56.81 L589.9,57.05 L590.4,57.29 L590.9,57.54 L591.4,57.79 L591.9,58.04 L592.4,58.29 L592.9,58.55 L593.4,58.81 L593.9,59.08 L594.4,59.35 L594.9,59.62 L595.4,59.89 L595.9,60.17 L596.4,60.45 L596.9,60.73 L597.4,61.02 L597.9,61.31 L598.4,61.61 L598.9,61.91 L599.4,62.21 L599.9,62.52 L600.4,62.83 L600.9,63.14 L601.4,63.46 L601.9,63.78 L602.4,64.11 L602.9,64.44 L603.4,64.77 L603.9,65.11 L604.4,65.46 L604.9,65.80 L605.4,66.16 L605.9,66.51 L606.4,66.88 L606.9,67.24 L607.4,67.61 L607.9,67.99 L608.4,68.37 L608.9,68.76 L609.4,69.15 L609.9,69.55 L610.4,69.95 L610.9,70.36 L611.4,70.77 L611.9,71.19 L612.4,71.62 L612.9,72.05 L613.4,72.49 L613.9,72.93 L614.4,73.38 L614.9,73.84 L615.4,74.30 L615.9,74.77 L616.4,75.24 L616.9,75.73 L617.4,76.21 L617.9,76.71 L618.4,77.22 L618.9,77.73 L619.4,78.24 L619.9,78.77 L620.4,79.30 L620.9,79.85 L621.4,80.40 L621.9,80.95 L622.4,81.52 L622.9,82.09 L623.4,82.68 L623.9,83.27 L624.4,83.87 L624.9,84.48 L625.4,85.10 L625.9,85.73 L626.4,86.37 L626.9,87.02 L627.4,87.68 L627.9,88.35 L628.4,89.03 L628.9,89.72 L629.4,90.42 L629.9,91.13 L630.4,91.86 L630.9,92.59 L631.4,93.34 L631.9,94.10 L632.4,94.87 L632.9,95.66 L633.4,96.46 L633.9,97.27 L634.4,98.09 L634.9,98.93 L635.4,99.78 L635.9,100.65 L636.4,101.53 L636.9,102.42 L637.4,103.33 L637.9,104.26 L638.4,105.20 L638.9,106.16 L639.4,107.13 L639.9,108.13 L640.4,109.13 L640.9,110.16 L641.4,111.20 L641.9,112.27 L642.4,113.35 L642.9,114.45 L643.4,115.57 L643.9,116.71 L644.4,117.87 L644.9,119.05 L645.4,120.26 L645.9,121.48 L646.4,122.73 L646.9,124.00 L647.4,125.29 L647.9,126.61 L648.4,127.95 L648.9,129.32 L649.4,130.71 L649.9,132.13 L650.4,133.58 L650.9,135.05 L651.4,136.55 L651.9,138.08 L652.4,139.64 L652.9,141.23 L653.4,142.85 L653.9,144.50 L654.4,146.19 L654.9,147.90 L655.4,149.65 L655.9,151.44 L656.4,153.26 L656.9,155.11 L657.4,157.00 L657.9,158.93 L658.4,160.90 L658.9,162.91 L659.4,164.96 L659.9,167.05 L660.4,169.18 L660.9,171.36 L661.4,173.58 L661.9,175.84 L662.4,178.16 L662.9,180.51 L663.4,182.92 L663.9,185.38 L664.4,187.89 L664.9,190.45 L665.4,193.06 L665.9,195.73 L666.4,198.46 L666.9,201.24 L667.4,204.07 L667.9,206.97 L668.4,209.93 L668.9,212.95 L669.4,216.04 L669.9,219.19 L670.4,222.40 L670.9,225.68 L671.4,229.04 L671.9,232.46 L672.4,235.95 L672.9,239.52 L673.4,243.16 L673.9,246.88 L674.4,250.67 L674.9,254.55 L675.4,258.50 L675.9,262.54 L676.4,266.66 L676.9,270.87 L677.4,275.16 L677.9,279.53 L678.4,284.00 L678.9,288.56 L679.4,293.20 L679.9,297.94 L680.4,302.77 L680.9,307.70 L681.4,312.72 L681.9,317.84 L682.4,323.05 L682.9,328.36 L683.4,333.77 L683.9,339.27 L684.4,344.88 L684.9,350.58 L685.4,356.38 L685.9,362.27 L686.4,368.26 L686.9,374.35 L687.4,380.53 L687.9,386.81 L688.4,393.17 L688.9,399.63 L689.4,406.17 L689.9,412.79 L690.4,419.50 L690.9,426.28 L691.4,433.14 L691.9,440.06 L692.4,447.05 L692.9,454.10 L693.4,461.20 L693.9,468.35 L694.4,475.53 L694.9,482.75 L695.4,489.99 L695.9,497.25 L696.4,504.51 L696.9,511.77 L697.4,519.01 L697.9,526.23 L698.4,533.42 L698.9,540.55 L699.4,547.62 L699.9,554.62 L700.4,561.53 L700.9,568.34 L701.4,575.04 L701.9,581.60 L702.4,588.02 L702.9,594.27 L703.4,600.35 L703.9,606.24 L704.4,611.92 L704.9,617.38 L705.4,622.60 L705.9,627.57 L706.4,632.28 L706.9,636.70 L707.4,640.83 L707.9,644.65 L708.4,648.15 L708.9,651.33 L709.4,654.16 L709.9,656.65 L710.4,658.78 L710.9,660.55 L711.4,661.94 L711.9,662.97 L712.4,663.62 L712.9,663.89 L713.4,663.74 L713.9,663.17 L714.4,662.18 L714.9,660.77 L715.4,658.94 L715.9,656.72 L716.4,654.10 L716.9,651.09 L717.4,647.72 L717.9,643.99 L718.4,639.91 L718.9,635.50 L719.4,630.78 L719.9,625.77 L720.4,620.48 L720.9,614.92 L721.4,609.12 L721.9,603.10 L722.4,596.87 L722.9,590.45 L723.4,583.85 L723.9,577.11 L724.4,570.22 L724.9,563.22 L725.4,556.11 L725.9,548.91 L726.4,541.64 L726.9,534.31 L727.4,526.94 L727.9,519.54 L728.4,512.12 L728.9,504.69 L729.4,497.27 L729.9,489.86 L730.4,482.47 L730.9,475.12 L731.4,467.81 L731.9,460.55 L732.4,453.35 L732.9,446.21 L733.4,439.14 L733.9,432.14 L734.4,425.22 L734.9,418.39 L735.4,411.64 L735.9,404.98 L736.4,398.41 L736.9,391.94 L737.4,385.57 L737.9,379.30 L738.4,373.13 L738.9,367.05 L739.4,361.09 L739.9,355.22 L740.4,349.46 L740.9,343.80 L741.4,338.24 L741.9,332.79 L742.4,327.43 L742.9,322.18 L743.4,317.03 L743.9,311.99 L744.4,307.03 L744.9,302.18 L745.4,297.43 L745.9,292.77 L746.4,288.20 L746.9,283.73 L747.4,279.34 L747.9,275.05 L748.4,270.85 L748.9,266.73 L749.4,262.70 L749.9,258.75 L750.4,254.88 L750.9,251.10 L751.4,247.39 L751.9,243.76 L752.4,240.21 L752.9,236.73 L753.4,233.32 L753.9,229.99 L754.4,226.72 L754.9,223.52 L755.4,220.39 L755.9,217.33 L756.4,214.33 L756.9,211.39 L757.4,208.51 L757.9,205.69 L758.4,202.94 L758.9,200.23 L759.4,197.59 L759.9,194.99 L760.4,192.45 L760.9,189.97 L761.4,187.53 L761.9,185.14 L762.4,182.80 L762.9,180.51 L763.4,178.27 L763.9,176.07 L764.4,173.91 L764.9,171.80 L765.4,169.73 L765.9,167.70 L766.4,165.71 L766.9,163.76 L767.4,161.84 L767.9,159.97 L768.4,158.13 L768.9,156.33 L769.4,154.56 L769.9,152.82 L770.4,151.12 L770.9,149.45 L771.4,147.82 L771.9,146.21 L772.4,144.64 L772.9,143.09 L773.4,141.57 L773.9,140.08 L774.4,138.62 L774.9,137.19 L775.4,135.78 L775.9,134.39 L776.4,133.04 L776.9,131.70 L777.4,130.39 L777.9,129.11 L778.4,127.85 L778.9,126.61 L779.4,125.39 L779.9,124.19 L780.4,123.02 L780.9,121.86 L781.4,120.73 L781.9,119.61 L782.4,118.51 L782.9,117.44 L783.4,116.38 L783.9,115.34 L784.4,114.31 L784.9,113.31 L785.4,112.32 L785.9,111.35 L786.4,110.39 L786.9,109.45 L787.4,108.53 L787.9,107.62 L788.4,106.72 L788.9,105.84 L789.4,104.97 L789.9,104.12 L790.4,103.28 L790.9,102.46 L791.4,101.65 L791.9,100.85 L792.4,100.06 L792.9,99.29 L793.4,98.52 L793.9,97.77 L794.4,97.04 L794.9,96.31 L795.4,95.59 L795.9,94.89 L796.4,94.19 L796.9,93.51 L797.4,92.84 L797.9,92.17 L798.4,91.52 L798.9,90.87 L799.4,90.24 L799.9,89.62 L800.4,89.00 L800.9,88.39 L801.4,87.79 L801.9,87.21 L802.4,86.62 L802.9,86.05 L803.4,85.49 L803.9,84.93 L804.4,84.38 L804.9,83.84 L805.4,83.31 L805.9,82.78 L806.4,82.27 L806.9,81.76 L807.4,81.25 L807.9,80.75 L808.4,80.26 L808.9,79.78 L809.4,79.30 L809.9,78.83 L810.4,78.37 L810.9,77.91 L811.4,77.46 L811.9,77.01 L812.4,76.58 L812.9,76.14 L813.4,75.71 L813.9,75.29 L814.4,74.87 L814.9,74.46 L815.4,74.06 L815.9,73.65 L816.4,73.26 L816.9,72.87 L817.4,72.48 L817.9,72.10 L818.4,71.72 L818.9,71.35 L819.4,70.99 L819.9,70.62 L820.4,70.27 L820.9,69.91 L821.4,69.56 L821.9,69.22 L822.4,68.88 L822.9,68.54 L823.4,68.21 L823.9,67.88 L824.4,67.56 L824.9,67.24 L825.4,66.92 L825.9,66.61 L826.4,66.30 L826.9,65.99 L827.4,65.69 L827.9,65.39 L828.4,65.10 L828.9,64.81 L829.4,64.52 L829.9,64.24 L830.4,63.95 L830.9,63.68 L831.4,63.40 L831.9,63.13 L832.4,62.86 L832.9,62.60 L833.4,62.33 L833.9,62.07 L834.4,61.82 L834.9,61.56 L835.4,61.31 L835.9,61.06 L836.4,60.82 L836.9,60.58 L837.4,60.34 L837.9,60.10 L838.4,59.86 L838.9,59.63 L839.4,59.40 L839.9,59.17 L840.4,58.95 L840.9,58.73 L841.4,58.50 L841.9,58.29 L842.4,58.07 L842.9,57.86 L843.4,57.65 L843.9,57.44 L844.4,57.23 L844.9,57.03 L845.4,56.82 L845.9,56.62 L846.4,56.43 L846.9,56.23 L847.4,56.04 L847.9,55.84 L848.4,55.65 L848.9,55.46 L849.4,55.28 L849.9,55.09 L850.4,54.91 L850.9,54.73 L851.4,54.55 L851.9,54.37 L852.4,54.20 L852.9,54.02 L853.4,53.85 L853.9,53.68 L854.4,53.51 L854.9,53.34 L855.4,53.18 L855.9,53.01 L856.4,52.85 L856.9,52.69 L857.4,52.53 L857.9,52.37 L858.4,52.22 L858.9,52.06 L859.4,51.91 L859.9,51.76 L860.4,51.61 L860.9,51.46 L861.4,51.31 L861.9,51.16 L862.4,51.02 L862.9,50.88 L863.4,50.73 L863.9,50.59 L864.4,50.45 L864.9,50.31 L865.4,50.18 L865.9,50.04 L866.4,49.91 L866.9,49.77 L867.4,49.64 L867.9,49.51 L868.4,49.38 L868.9,49.25 L869.4,49.12 L869.9,49.00 L870.4,48.87 L870.9,48.75 L871.4,48.62 L871.9,48.50 L872.4,48.38 L872.9,48.26 L873.4,48.14 L873.9,48.02 L874.4,47.91 L874.9,47.79 L875.4,47.68 L875.9,47.56 L876.4,47.45 L876.9,47.34 L877.4,47.23 L877.9,47.12 L878.4,47.01 L878.9,46.90 L879.4,46.79 L879.9,46.69 L880.4,46.58 L880.9,46.48 L881.4,46.37 L881.9,46.27 L882.4,46.17 L882.9,46.07 L883.4,45.96 L883.9,45.87 L884.4,45.77 L884.9,45.67 L885.4,45.57 L885.9,45.47 L886.4,45.38 L886.9,45.28 L887.4,45.19 L887.9,45.10 L888.4,45.00 L888.9,44.91 L889.4,44.82 L889.9,44.73 L890.4,44.64 L890.9,44.55 L891.4,44.46 L891.9,44.38 L892.4,44.29 L892.9,44.20 L893.4,44.12 L893.9,44.03 L894.4,43.95 L894.9,43.86 L895.4,43.78 L895.9,43.70 L896.4,43.62 L896.9,43.54 L897.4,43.45 L897.9,43.37 L898.4,43.30 L898.9,43.22 L899.4,43.14 L899.9,43.06 L900.4,42.98 L900.9,42.91 L901.4,42.83 L901.9,42.76 L902.4,42.68 L902.9,42.61 L903.4,42.53 L903.9,42.46 L904.4,42.39 L904.9,42.32 L905.4,42.25 L905.9,42.17 L906.4,42.10 L906.9,42.03 L907.4,41.96 L907.9,41.90 L908.4,41.83 L908.9,41.76 L909.4,41.69 L909.9,41.62 L910.4,41.56 L910.9,41.49 L911.4,41.43 L911.9,41.36 L912.4,41.30 L912.9,41.23 L913.4,41.17 L913.9,41.11 L914.4,41.04 L914.9,40.98 L915.4,40.92 L915.9,40.86 L916.4,40.80 L916.9,40.74 L917.4,40.67 L917.9,40.61 L918.4,40.56 L918.9,40.50 L919.4,40.44 L919.9,40.38 L920.4,40.32 L920.9,40.26 L921.4,40.21 L921.9,40.15 L922.4,40.09 L922.9,40.04 L923.4,39.98 L923.9,39.93 L924.4,39.87 L924.9,39.82 L925.4,39.76 L925.9,39.71 L926.4,39.66 L926.9,39.60 L927.4,39.55 L927.9,39.50 L928.4,39.45 L928.9,39.39 L929.4,39.34 L929.9,39.29 L930.4,39.24 L930.9,39.19 L931.4,39.14 L931.9,39.09 L932.4,39.04 L932.9,38.99 L933.4,38.94 L933.9,38.90 L934.4,38.85 L934.9,38.80 L935.4,38.75 L935.9,38.70 L936.4,38.66 L936.9,38.61 L937.4,38.56 L937.9,38.52 L938.4,38.47 L938.9,38.43 L939.4,38.38 L939.9,38.34 L940.4,38.29 L940.9,38.25 L941.4,38.20 L941.9,38.16 L942.4,38.12 L942.9,38.07 L943.4,38.03 L943.9,37.99 L944.4,37.94 L944.9,37.90 L945.4,37.86 L945.9,37.82 L946.4,37.78 L946.9,37.74 L947.4,37.69 L947.9,37.65 L948.4,37.61 L948.9,37.57 L949.4,37.53 L949.9,37.49 L950.4,37.45 L950.9,37.41 L951.4,37.38 L951.9,37.34 L952.4,37.30 L952.9,37.26 L953.4,37.22 L953.9,37.18 L954.4,37.15 L954.9,37.11 L955.4,37.07 L955.9,37.03 L956.4,37.00 L956.9,36.96 L957.4,36.92 L957.9,36.89 L958.4,36.85 L958.9,36.82 L959.4,36.78 L959.9,36.74 L960.4,36.71 L960.9,36.67 L961.4,36.64 L961.9,36.60 L962.4,36.57 L962.9,36.54 L963.4,36.50 L963.9,36.47 L964.4,36.43 L964.9,36.40 L965.4,36.37 L965.9,36.33 L966.4,36.30 L966.9,36.27 L967.4,36.24 L967.9,36.20 L968.4,36.17 L968.9,36.14 L969.4,36.11 L969.9,36.08 L970.4,36.04 L970.9,36.01 L971.4,35.98 L971.9,35.95 L972.4,35.92 L972.9,35.89 L973.4,35.86 L973.9,35.83 L974.4,35.80 L974.9,35.77 L975.4,35.74 L975.9,35.71 L976.4,35.68 L976.9,35.65 L977.4,35.62 L977.9,35.59 L978.4,35.56 L978.9,35.53 L979.4,35.50 L979.9,35.48 L980.4,35.45 L980.9,35.42 L981.4,35.39 L981.9,35.36 L982.4,35.34 L982.9,35.31 L983.4,35.28 L983.9,35.25 L984.4,35.23 L984.9,35.20 L985.4,35.17 L985.9,35.15 L986.4,35.12 L986.9,35.09 L987.4,35.07 L987.9,35.04 L988.4,35.01 L988.9,34.99 L989.4,34.96 L989.9,34.94 L990.4,34.91 L990.9,34.89 L991.4,34.86 L991.9,34.84 L992.4,34.81 L992.9,34.79 L993.4,34.76 L993.9,34.74 L994.4,34.71 L994.9,34.69 L995.4,34.66 L995.9,34.64 L996.4,34.61 L996.9,34.59 L997.4,34.57 L997.9,34.54 L998.4,34.52 L998.9,34.50 L999.4,34.47 L999.9,34.45 L1000.4,34.43 L1000.9,34.40 L1001.4,34.38 L1001.9,34.36 L1002.4,34.34 L1002.9,34.31 L1003.4,34.29 L1003.9,34.27 L1004.4,34.25 L1004.9,34.22 L1005.4,34.20 L1005.9,34.18 L1006.4,34.16 L1006.9,34.14 L1007.4,34.11 L1007.9,34.09 L1008.4,34.07 L1008.9,34.05 L1009.4,34.03 L1009.9,34.01 L1010.4,33.99 L1010.9,33.97 L1011.4,33.94 L1011.9,33.92 L1012.4,33.90 L1012.9,33.88 L1013.4,33.86 L1013.9,33.84 L1014.4,33.82 L1014.9,33.80 L1015.4,33.78 L1015.9,33.76 L1016.4,33.74 L1016.9,33.72 L1017.4,33.70 L1017.9,33.68 L1018.4,33.66 L1018.9,33.64 L1019.4,33.62" stroke-width="2.6"/>
<path d="M150.4,28.60 L150.9,28.61 L151.4,28.61 L151.9,28.62 L152.4,28.62 L152.9,28.63 L153.4,28.63 L153.9,28.64 L154.4,28.64 L154.9,28.65 L155.4,28.65 L155.9,28.66 L156.4,28.66 L156.9,28.67 L157.4,28.68 L157.9,28.68 L158.4,28.69 L158.9,28.69 L159.4,28.70 L159.9,28.70 L160.4,28.71 L160.9,28.71 L161.4,28.72 L161.9,28.72 L162.4,28.73 L162.9,28.73 L163.4,28.74 L163.9,28.74 L164.4,28.75 L164.9,28.75 L165.4,28.76 L165.9,28.76 L166.4,28.77 L166.9,28.77 L167.4,28.78 L167.9,28.78 L168.4,28.79 L168.9,28.79 L169.4,28.80 L169.9,28.80 L170.4,28.80 L170.9,28.81 L171.4,28.81 L171.9,28.82 L172.4,28.82 L172.9,28.83 L173.4,28.83 L173.9,28.84 L174.4,28.84 L174.9,28.85 L175.4,28.85 L175.9,28.86 L176.4,28.86 L176.9,28.87 L177.4,28.87 L177.9,28.88 L178.4,28.88 L178.9,28.88 L179.4,28.89 L179.9,28.89 L180.4,28.90 L180.9,28.90 L181.4,28.91 L181.9,28.91 L182.4,28.92 L182.9,28.92 L183.4,28.93 L183.9,28.93 L184.4,28.93 L184.9,28.94 L185.4,28.94 L185.9,28.95 L186.4,28.95 L186.9,28.96 L187.4,28.96 L187.9,28.97 L188.4,28.97 L188.9,28.97 L189.4,28.98 L189.9,28.98 L190.4,28.99 L190.9,28.99 L191.4,29.00 L191.9,29.00 L192.4,29.00 L192.9,29.01 L193.4,29.01 L193.9,29.02 L194.4,29.02 L194.9,29.03 L195.4,29.03 L195.9,29.03 L196.4,29.04 L196.9,29.04 L197.4,29.05 L197.9,29.05 L198.4,29.06 L198.9,29.06 L199.4,29.06 L199.9,29.07 L200.4,29.07 L200.9,29.08 L201.4,29.08 L201.9,29.09 L202.4,29.09 L202.9,29.09 L203.4,29.10 L203.9,29.10 L204.4,29.11 L204.9,29.11 L205.4,29.12 L205.9,29.12 L206.4,29.12 L206.9,29.13 L207.4,29.13 L207.9,29.14 L208.4,29.14 L208.9,29.15 L209.4,29.15 L209.9,29.15 L210.4,29.16 L210.9,29.16 L211.4,29.17 L211.9,29.17 L212.4,29.18 L212.9,29.18 L213.4,29.18 L213.9,29.19 L214.4,29.19 L214.9,29.20 L215.4,29.20 L215.9,29.20 L216.4,29.21 L216.9,29.21 L217.4,29.22 L217.9,29.22 L218.4,29.23 L218.9,29.23 L219.4,29.23 L219.9,29.24 L220.4,29.24 L220.9,29.25 L221.4,29.25 L221.9,29.25 L222.4,29.26 L222.9,29.26 L223.4,29.27 L223.9,29.27 L224.4,29.28 L224.9,29.28 L225.4,29.28 L225.9,29.29 L226.4,29.29 L226.9,29.30 L227.4,29.30 L227.9,29.31 L228.4,29.31 L228.9,29.31 L229.4,29.32 L229.9,29.32 L230.4,29.33 L230.9,29.33 L231.4,29.34 L231.9,29.34 L232.4,29.34 L232.9,29.35 L233.4,29.35 L233.9,29.36 L234.4,29.36 L234.9,29.37 L235.4,29.37 L235.9,29.37 L236.4,29.38 L236.9,29.38 L237.4,29.39 L237.9,29.39 L238.4,29.40 L238.9,29.40 L239.4,29.40 L239.9,29.41 L240.4,29.41 L240.9,29.42 L241.4,29.42 L241.9,29.43 L242.4,29.43 L242.9,29.43 L243.4,29.44 L243.9,29.44 L244.4,29.45 L244.9,29.45 L245.4,29.46 L245.9,29.46 L246.4,29.47 L246.9,29.47 L247.4,29.47 L247.9,29.48 L248.4,29.48 L248.9,29.49 L249.4,29.49 L249.9,29.50 L250.4,29.50 L250.9,29.51 L251.4,29.51 L251.9,29.51 L252.4,29.52 L252.9,29.52 L253.4,29.53 L253.9,29.53 L254.4,29.54 L254.9,29.54 L255.4,29.55 L255.9,29.55 L256.4,29.55 L256.9,29.56 L257.4,29.56 L257.9,29.57 L258.4,29.57 L258.9,29.58 L259.4,29.58 L259.9,29.59 L260.4,29.59 L260.9,29.60 L261.4,29.60 L261.9,29.61 L262.4,29.61 L262.9,29.61 L263.4,29.62 L263.9,29.62 L264.4,29.63 L264.9,29.63 L265.4,29.64 L265.9,29.64 L266.4,29.65 L266.9,29.65 L267.4,29.66 L267.9,29.66 L268.4,29.67 L268.9,29.67 L269.4,29.68 L269.9,29.68 L270.4,29.69 L270.9,29.69 L271.4,29.70 L271.9,29.70 L272.4,29.71 L272.9,29.71 L273.4,29.71 L273.9,29.72 L274.4,29.72 L274.9,29.73 L275.4,29.73 L275.9,29.74 L276.4,29.74 L276.9,29.75 L277.4,29.75 L277.9,29.76 L278.4,29.76 L278.9,29.77 L279.4,29.77 L279.9,29.78 L280.4,29.78 L280.9,29.79 L281.4,29.79 L281.9,29.80 L282.4,29.80 L282.9,29.81 L283.4,29.82 L283.9,29.82 L284.4,29.83 L284.9,29.83 L285.4,29.84 L285.9,29.84 L286.4,29.85 L286.9,29.85 L287.4,29.86 L287.9,29.86 L288.4,29.87 L288.9,29.87 L289.4,29.88 L289.9,29.88 L290.4,29.89 L290.9,29.89 L291.4,29.90 L291.9,29.90 L292.4,29.91 L292.9,29.92 L293.4,29.92 L293.9,29.93 L294.4,29.93 L294.9,29.94 L295.4,29.94 L295.9,29.95 L296.4,29.95 L296.9,29.96 L297.4,29.96 L297.9,29.97 L298.4,29.98 L298.9,29.98 L299.4,29.99 L299.9,29.99 L300.4,30.00 L300.9,30.00 L301.4,30.01 L301.9,30.02 L302.4,30.02 L302.9,30.03 L303.4,30.03 L303.9,30.04 L304.4,30.04 L304.9,30.05 L305.4,30.06 L305.9,30.06 L306.4,30.07 L306.9,30.07 L307.4,30.08 L307.9,30.09 L308.4,30.09 L308.9,30.10 L309.4,30.10 L309.9,30.11 L310.4,30.12 L310.9,30.12 L311.4,30.13 L311.9,30.13 L312.4,30.14 L312.9,30.15 L313.4,30.15 L313.9,30.16 L314.4,30.16 L314.9,30.17 L315.4,30.18 L315.9,30.18 L316.4,30.19 L316.9,30.20 L317.4,30.20 L317.9,30.21 L318.4,30.21 L318.9,30.22 L319.4,30.23 L319.9,30.23 L320.4,30.24 L320.9,30.25 L321.4,30.25 L321.9,30.26 L322.4,30.27 L322.9,30.27 L323.4,30.28 L323.9,30.29 L324.4,30.29 L324.9,30.30 L325.4,30.31 L325.9,30.31 L326.4,30.32 L326.9,30.33 L327.4,30.33 L327.9,30.34 L328.4,30.35 L328.9,30.35 L329.4,30.36 L329.9,30.37 L330.4,30.37 L330.9,30.38 L331.4,30.39 L331.9,30.39 L332.4,30.40 L332.9,30.41 L333.4,30.42 L333.9,30.42 L334.4,30.43 L334.9,30.44 L335.4,30.44 L335.9,30.45 L336.4,30.46 L336.9,30.47 L337.4,30.47 L337.9,30.48 L338.4,30.49 L338.9,30.49 L339.4,30.50 L339.9,30.51 L340.4,30.52 L340.9,30.52 L341.4,30.53 L341.9,30.54 L342.4,30.55 L342.9,30.55 L343.4,30.56 L343.9,30.57 L344.4,30.58 L344.9,30.59 L345.4,30.59 L345.9,30.60 L346.4,30.61 L346.9,30.62 L347.4,30.62 L347.9,30.63 L348.4,30.64 L348.9,30.65 L349.4,30.66 L349.9,30.66 L350.4,30.67 L350.9,30.68 L351.4,30.69 L351.9,30.70 L352.4,30.70 L352.9,30.71 L353.4,30.72 L353.9,30.73 L354.4,30.74 L354.9,30.74 L355.4,30.75 L355.9,30.76 L356.4,30.77 L356.9,30.78 L357.4,30.79 L357.9,30.80 L358.4,30.80 L358.9,30.81 L359.4,30.82 L359.9,30.83 L360.4,30.84 L360.9,30.85 L361.4,30.86 L361.9,30.86 L362.4,30.87 L362.9,30.88 L363.4,30.89 L363.9,30.90 L364.4,30.91 L364.9,30.92 L365.4,30.93 L365.9,30.94 L366.4,30.94 L366.9,30.95 L367.4,30.96 L367.9,30.97 L368.4,30.98 L368.9,30.99 L369.4,31.00 L369.9,31.01 L370.4,31.02 L370.9,31.03 L371.4,31.04 L371.9,31.05 L372.4,31.06 L372.9,31.07 L373.4,31.08 L373.9,31.08 L374.4,31.09 L374.9,31.10 L375.4,31.11 L375.9,31.12 L376.4,31.13 L376.9,31.14 L377.4,31.15 L377.9,31.16 L378.4,31.17 L378.9,31.18 L379.4,31.19 L379.9,31.20 L380.4,31.21 L380.9,31.22 L381.4,31.23 L381.9,31.24 L382.4,31.26 L382.9,31.27 L383.4,31.28 L383.9,31.29 L384.4,31.30 L384.9,31.31 L385.4,31.32 L385.9,31.33 L386.4,31.34 L386.9,31.35 L387.4,31.36 L387.9,31.37 L388.4,31.38 L388.9,31.39 L389.4,31.40 L389.9,31.42 L390.4,31.43 L390.9,31.44 L391.4,31.45 L391.9,31.46 L392.4,31.47 L392.9,31.48 L393.4,31.49 L393.9,31.51 L394.4,31.52 L394.9,31.53 L395.4,31.54 L395.9,31.55 L396.4,31.56 L396.9,31.58 L397.4,31.59 L397.9,31.60 L398.4,31.61 L398.9,31.62 L399.4,31.64 L399.9,31.65 L400.4,31.66 L400.9,31.67 L401.4,31.68 L401.9,31.70 L402.4,31.71 L402.9,31.72 L403.4,31.73 L403.9,31.75 L404.4,31.76 L404.9,31.77 L405.4,31.78 L405.9,31.80 L406.4,31.81 L406.9,31.82 L407.4,31.83 L407.9,31.85 L408.4,31.86 L408.9,31.87 L409.4,31.89 L409.9,31.90 L410.4,31.91 L410.9,31.93 L411.4,31.94 L411.9,31.95 L412.4,31.97 L412.9,31.98 L413.4,31.99 L413.9,32.01 L414.4,32.02 L414.9,32.04 L415.4,32.05 L415.9,32.06 L416.4,32.08 L416.9,32.09 L417.4,32.11 L417.9,32.12 L418.4,32.13 L418.9,32.15 L419.4,32.16 L419.9,32.18 L420.4,32.19 L420.9,32.21 L421.4,32.22 L421.9,32.24 L422.4,32.25 L422.9,32.27 L423.4,32.28 L423.9,32.30 L424.4,32.31 L424.9,32.33 L425.4,32.34 L425.9,32.36 L426.4,32.37 L426.9,32.39 L427.4,32.40 L427.9,32.42 L428.4,32.43 L428.9,32.45 L429.4,32.47 L429.9,32.48 L430.4,32.50 L430.9,32.51 L431.4,32.53 L431.9,32.55 L432.4,32.56 L432.9,32.58 L433.4,32.60 L433.9,32.61 L434.4,32.63 L434.9,32.65 L435.4,32.66 L435.9,32.68 L436.4,32.70 L436.9,32.71 L437.4,32.73 L437.9,32.75 L438.4,32.77 L438.9,32.78 L439.4,32.80 L439.9,32.82 L440.4,32.84 L440.9,32.85 L441.4,32.87 L441.9,32.89 L442.4,32.91 L442.9,32.93 L443.4,32.94 L443.9,32.96 L444.4,32.98 L444.9,33.00 L445.4,33.02 L445.9,33.04 L446.4,33.06 L446.9,33.07 L447.4,33.09 L447.9,33.11 L448.4,33.13 L448.9,33.15 L449.4,33.17 L449.9,33.19 L450.4,33.21 L450.9,33.23 L451.4,33.25 L451.9,33.27 L452.4,33.29 L452.9,33.31 L453.4,33.33 L453.9,33.35 L454.4,33.37 L454.9,33.39 L455.4,33.41 L455.9,33.43 L456.4,33.45 L456.9,33.47 L457.4,33.50 L457.9,33.52 L458.4,33.54 L458.9,33.56 L459.4,33.58 L459.9,33.60 L460.4,33.62 L460.9,33.65 L461.4,33.67 L461.9,33.69 L462.4,33.71 L462.9,33.73 L463.4,33.76 L463.9,33.78 L464.4,33.80 L464.9,33.83 L465.4,33.85 L465.9,33.87 L466.4,33.89 L466.9,33.92 L467.4,33.94 L467.9,33.97 L468.4,33.99 L468.9,34.01 L469.4,34.04 L469.9,34.06 L470.4,34.09 L470.9,34.11 L471.4,34.13 L471.9,34.16 L472.4,34.18 L472.9,34.21 L473.4,34.23 L473.9,34.26 L474.4,34.28 L474.9,34.31 L475.4,34.34 L475.9,34.36 L476.4,34.39 L476.9,34.41 L477.4,34.44 L477.9,34.47 L478.4,34.49 L478.9,34.52 L479.4,34.55 L479.9,34.57 L480.4,34.60 L480.9,34.63 L481.4,34.66 L481.9,34.68 L482.4,34.71 L482.9,34.74 L483.4,34.77 L483.9,34.80 L484.4,34.82 L484.9,34.85 L485.4,34.88 L485.9,34.91 L486.4,34.94 L486.9,34.97 L487.4,35.00 L487.9,35.03 L488.4,35.06 L488.9,35.09 L489.4,35.12 L489.9,35.15 L490.4,35.18 L490.9,35.21 L491.4,35.24 L491.9,35.27 L492.4,35.30 L492.9,35.33 L493.4,35.37 L493.9,35.40 L494.4,35.43 L494.9,35.46 L495.4,35.49 L495.9,35.53 L496.4,35.56 L496.9,35.59 L497.4,35.63 L497.9,35.66 L498.4,35.69 L498.9,35.73 L499.4,35.76 L499.9,35.79 L500.4,35.83 L500.9,35.86 L501.4,35.90 L501.9,35.93 L502.4,35.97 L502.9,36.00 L503.4,36.04 L503.9,36.08 L504.4,36.11 L504.9,36.15 L505.4,36.19 L505.9,36.22 L506.4,36.26 L506.9,36.30 L507.4,36.33 L507.9,36.37 L508.4,36.41 L508.9,36.45 L509.4,36.49 L509.9,36.53 L510.4,36.57 L510.9,36.60 L511.4,36.64 L511.9,36.68 L512.4,36.72 L512.9,36.76 L513.4,36.80 L513.9,36.85 L514.4,36.89 L514.9,36.93 L515.4,36.97 L515.9,37.01 L516.4,37.05 L516.9,37.10 L517.4,37.14 L517.9,37.18 L518.4,37.22 L518.9,37.27 L519.4,37.31 L519.9,37.36 L520.4,37.40 L520.9,37.45 L521.4,37.49 L521.9,37.54 L522.4,37.58 L522.9,37.63 L523.4,37.67 L523.9,37.72 L524.4,37.77 L524.9,37.81 L525.4,37.86 L525.9,37.91 L526.4,37.96 L526.9,38.01 L527.4,38.05 L527.9,38.10 L528.4,38.15 L528.9,38.20 L529.4,38.25 L529.9,38.30 L530.4,38.35 L530.9,38.41 L531.4,38.46 L531.9,38.51 L532.4,38.56 L532.9,38.61 L533.4,38.67 L533.9,38.72 L534.4,38.77 L534.9,38.83 L535.4,38.88 L535.9,38.94 L536.4,38.99 L536.9,39.05 L537.4,39.11 L537.9,39.16 L538.4,39.22 L538.9,39.28 L539.4,39.33 L539.9,39.39 L540.4,39.45 L540.9,39.51 L541.4,39.57 L541.9,39.63 L542.4,39.69 L542.9,39.75 L543.4,39.81 L543.9,39.87 L544.4,39.93 L544.9,40.00 L545.4,40.06 L545.9,40.12 L546.4,40.19 L546.9,40.25 L547.4,40.32 L547.9,40.38 L548.4,40.45 L548.9,40.51 L549.4,40.58 L549.9,40.65 L550.4,40.72 L550.9,40.78 L551.4,40.85 L551.9,40.92 L552.4,40.99 L552.9,41.06 L553.4,41.13 L553.9,41.20 L554.4,41.28 L554.9,41.35 L555.4,41.42 L555.9,41.50 L556.4,41.57 L556.9,41.64 L557.4,41.72 L557.9,41.80 L558.4,41.87 L558.9,41.95 L559.4,42.03 L559.9,42.11 L560.4,42.19 L560.9,42.26 L561.4,42.34 L561.9,42.43 L562.4,42.51 L562.9,42.59 L563.4,42.67 L563.9,42.76 L564.4,42.84 L564.9,42.93 L565.4,43.01 L565.9,43.10 L566.4,43.18 L566.9,43.27 L567.4,43.36 L567.9,43.45 L568.4,43.54 L568.9,43.63 L569.4,43.72 L569.9,43.81 L570.4,43.91 L570.9,44.00 L571.4,44.09 L571.9,44.19 L572.4,44.28 L572.9,44.38 L573.4,44.48 L573.9,44.58 L574.4,44.68 L574.9,44.78 L575.4,44.88 L575.9,44.98 L576.4,45.08 L576.9,45.19 L577.4,45.29 L577.9,45.40 L578.4,45.50 L578.9,45.61 L579.4,45.72 L579.9,45.83 L580.4,45.94 L580.9,46.05 L581.4,46.16 L581.9,46.27 L582.4,46.38 L582.9,46.50 L583.4,46.62 L583.9,46.73 L584.4,46.85 L584.9,46.97 L585.4,47.09 L585.9,47.21 L586.4,47.33 L586.9,47.46 L587.4,47.58 L587.9,47.71 L588.4,47.83 L588.9,47.96 L589.4,48.09 L589.9,48.22 L590.4,48.35 L590.9,48.48 L591.4,48.62 L591.9,48.75 L592.4,48.89 L592.9,49.02 L593.4,49.16 L593.9,49.30 L594.4,49.44 L594.9,49.59 L595.4,49.73 L595.9,49.88 L596.4,50.02 L596.9,50.17 L597.4,50.32 L597.9,50.47 L598.4,50.63 L598.9,50.78 L599.4,50.93 L599.9,51.09 L600.4,51.25 L600.9,51.41 L601.4,51.57 L601.9,51.73 L602.4,51.90 L602.9,52.07 L603.4,52.23 L603.9,52.40 L604.4,52.57 L604.9,52.75 L605.4,52.92 L605.9,53.10 L606.4,53.28 L606.9,53.46 L607.4,53.64 L607.9,53.82 L608.4,54.01 L608.9,54.20 L609.4,54.39 L609.9,54.58 L610.4,54.77 L610.9,54.96 L611.4,55.16 L611.9,55.36 L612.4,55.56 L612.9,55.77 L613.4,55.97 L613.9,56.18 L614.4,56.39 L614.9,56.60 L615.4,56.82 L615.9,57.03 L616.4,57.25 L616.9,57.47 L617.4,57.70 L617.9,57.92 L618.4,58.15 L618.9,58.38 L619.4,58.62 L619.9,58.85 L620.4,59.09 L620.9,59.33 L621.4,59.58 L621.9,59.82 L622.4,60.07 L622.9,60.33 L623.4,60.58 L623.9,60.84 L624.4,61.10 L624.9,61.36 L625.4,61.63 L625.9,61.90 L626.4,62.17 L626.9,62.45 L627.4,62.73 L627.9,63.01 L628.4,63.30 L628.9,63.58 L629.4,63.88 L629.9,64.17 L630.4,64.47 L630.9,64.77 L631.4,65.08 L631.9,65.39 L632.4,65.70 L632.9,66.02 L633.4,66.34 L633.9,66.67 L634.4,66.99 L634.9,67.33 L635.4,67.66 L635.9,68.00 L636.4,68.35 L636.9,68.70 L637.4,69.05 L637.9,69.41 L638.4,69.77 L638.9,70.14 L639.4,70.51 L639.9,70.88 L640.4,71.26 L640.9,71.65 L641.4,72.04 L641.9,72.43 L642.4,72.83 L642.9,73.24 L643.4,73.65 L643.9,74.06 L644.4,74.49 L644.9,74.91 L645.4,75.34 L645.9,75.78 L646.4,76.22 L646.9,76.67 L647.4,77.13 L647.9,77.59 L648.4,78.06 L648.9,78.53 L649.4,79.01 L649.9,79.49 L650.4,79.99 L650.9,80.49 L651.4,80.99 L651.9,81.50 L652.4,82.02 L652.9,82.55 L653.4,83.08 L653.9,83.63 L654.4,84.17 L654.9,84.73 L655.4,85.30 L655.9,85.87 L656.4,86.45 L656.9,87.04 L657.4,87.63 L657.9,88.24 L658.4,88.85 L658.9,89.48 L659.4,90.11 L659.9,90.75 L660.4,91.40 L660.9,92.06 L661.4,92.73 L661.9,93.41 L662.4,94.10 L662.9,94.79 L663.4,95.50 L663.9,96.22 L664.4,96.96 L664.9,97.70 L665.4,98.45 L665.9,99.22 L666.4,99.99 L666.9,100.78 L667.4,101.58 L667.9,102.39 L668.4,103.22 L668.9,104.06 L669.4,104.91 L669.9,105.77 L670.4,106.65 L670.9,107.54 L671.4,108.44 L671.9,109.36 L672.4,110.30 L672.9,111.25 L673.4,112.21 L673.9,113.19 L674.4,114.19 L674.9,115.20 L675.4,116.23 L675.9,117.28 L676.4,118.34 L676.9,119.42 L677.4,120.52 L677.9,121.63 L678.4,122.77 L678.9,123.92 L679.4,125.10 L679.9,126.29 L680.4,127.50 L680.9,128.74 L681.4,129.99 L681.9,131.27 L682.4,132.57 L682.9,133.89 L683.4,135.23 L683.9,136.60 L684.4,137.99 L684.9,139.41 L685.4,140.85 L685.9,142.31 L686.4,143.80 L686.9,145.32 L687.4,146.87 L687.9,148.44 L688.4,150.04 L688.9,151.67 L689.4,153.33 L689.9,155.02 L690.4,156.74 L690.9,158.49 L691.4,160.28 L691.9,162.09 L692.4,163.94 L692.9,165.83 L693.4,167.75 L693.9,169.70 L694.4,171.69 L694.9,173.72 L695.4,175.79 L695.9,177.89 L696.4,180.04 L696.9,182.22 L697.4,184.45 L697.9,186.72 L698.4,189.03 L698.9,191.39 L699.4,193.79 L699.9,196.24 L700.4,198.73 L700.9,201.28 L701.4,203.87 L701.9,206.51 L702.4,209.20 L702.9,211.95 L703.4,214.74 L703.9,217.59 L704.4,220.50 L704.9,223.47 L705.4,226.49 L705.9,229.57 L706.4,232.71 L706.9,235.91 L707.4,239.17 L707.9,242.49 L708.4,245.88 L708.9,249.34 L709.4,252.86 L709.9,256.45 L710.4,260.11 L710.9,263.84 L711.4,267.65 L711.9,271.52 L712.4,275.47 L712.9,279.49 L713.4,283.59 L713.9,287.76 L714.4,292.02 L714.9,296.35 L715.4,300.77 L715.9,305.26 L716.4,309.84 L716.9,314.50 L717.4,319.24 L717.9,324.06 L718.4,328.98 L718.9,333.97 L719.4,339.06 L719.9,344.23 L720.4,349.48 L720.9,354.82 L721.4,360.25 L721.9,365.77 L722.4,371.37 L722.9,377.05 L723.4,382.83 L723.9,388.68 L724.4,394.62 L724.9,400.64 L725.4,406.74 L725.9,412.92 L726.4,419.18 L726.9,425.51 L727.4,431.91 L727.9,438.38 L728.4,444.92 L728.9,451.51 L729.4,458.17 L729.9,464.88 L730.4,471.64 L730.9,478.45 L731.4,485.29 L731.9,492.17 L732.4,499.07 L732.9,506.00 L733.4,512.94 L733.9,519.88 L734.4,526.82 L734.9,533.76 L735.4,540.67 L735.9,547.55 L736.4,554.40 L736.9,561.19 L737.4,567.93 L737.9,574.60 L738.4,581.19 L738.9,587.68 L739.4,594.07 L739.9,600.34 L740.4,606.49 L740.9,612.49 L741.4,618.34 L741.9,624.02 L742.4,629.53 L742.9,634.84 L743.4,639.95 L743.9,644.84 L744.4,649.51 L744.9,653.93 L745.4,658.10 L745.9,662.01 L746.4,665.65 L746.9,669.00 L747.4,672.06 L747.9,674.83 L748.4,677.28 L748.9,679.42 L749.4,681.24 L749.9,682.74 L750.4,683.90 L750.9,684.73 L751.4,685.23 L751.9,685.39 L752.4,685.22 L752.9,684.71 L753.4,683.87 L753.9,682.70 L754.4,681.21 L754.9,679.39 L755.4,677.26 L755.9,674.83 L756.4,672.09 L756.9,669.05 L757.4,665.74 L757.9,662.15 L758.4,658.30 L758.9,654.20 L759.4,649.85 L759.9,645.28 L760.4,640.48 L760.9,635.48 L761.4,630.29 L761.9,624.91 L762.4,619.37 L762.9,613.67 L763.4,607.82 L763.9,601.84 L764.4,595.75 L764.9,589.54 L765.4,583.24 L765.9,576.85 L766.4,570.38 L766.9,563.86 L767.4,557.28 L767.9,550.65 L768.4,543.99 L768.9,537.31 L769.4,530.61 L769.9,523.90 L770.4,517.19 L770.9,510.49 L771.4,503.80 L771.9,497.13 L772.4,490.49 L772.9,483.89 L773.4,477.32 L773.9,470.79 L774.4,464.31 L774.9,457.88 L775.4,451.51 L775.9,445.20 L776.4,438.95 L776.9,432.76 L777.4,426.64 L777.9,420.60 L778.4,414.62 L778.9,408.72 L779.4,402.90 L779.9,397.15 L780.4,391.48 L780.9,385.89 L781.4,380.38 L781.9,374.95 L782.4,369.60 L782.9,364.33 L783.4,359.14 L783.9,354.04 L784.4,349.01 L784.9,344.07 L785.4,339.21 L785.9,334.42 L786.4,329.72 L786.9,325.10 L787.4,320.55 L787.9,316.09 L788.4,311.70 L788.9,307.39 L789.4,303.15 L789.9,298.99 L790.4,294.90 L790.9,290.88 L791.4,286.94 L791.9,283.07 L792.4,279.26 L792.9,275.53 L793.4,271.86 L793.9,268.26 L794.4,264.72 L794.9,261.25 L795.4,257.84 L795.9,254.50 L796.4,251.22 L796.9,247.99 L797.4,244.83 L797.9,241.72 L798.4,238.67 L798.9,235.67 L799.4,232.73 L799.9,229.85 L800.4,227.02 L800.9,224.23 L801.4,221.50 L801.9,218.82 L802.4,216.19 L802.9,213.61 L803.4,211.07 L803.9,208.58 L804.4,206.13 L804.9,203.73 L805.4,201.37 L805.9,199.05 L806.4,196.78 L806.9,194.54 L807.4,192.35 L807.9,190.19 L808.4,188.08 L808.9,186.00 L809.4,183.95 L809.9,181.95 L810.4,179.98 L810.9,178.04 L811.4,176.14 L811.9,174.26 L812.4,172.43 L812.9,170.62 L813.4,168.85 L813.9,167.10 L814.4,165.39 L814.9,163.70 L815.4,162.04 L815.9,160.42 L816.4,158.81 L816.9,157.24 L817.4,155.69 L817.9,154.17 L818.4,152.67 L818.9,151.20 L819.4,149.76 L819.9,148.33 L820.4,146.93 L820.9,145.55 L821.4,144.20 L821.9,142.87 L822.4,141.56 L822.9,140.27 L823.4,139.00 L823.9,137.75 L824.4,136.52 L824.9,135.31 L825.4,134.12 L825.9,132.95 L826.4,131.79 L826.9,130.66 L827.4,129.54 L827.9,128.44 L828.4,127.36 L828.9,126.29 L829.4,125.24 L829.9,124.20 L830.4,123.19 L830.9,122.18 L831.4,121.19 L831.9,120.22 L832.4,119.26 L832.9,118.32 L833.4,117.39 L833.9,116.47 L834.4,115.57 L834.9,114.68 L835.4,113.80 L835.9,112.94 L836.4,112.09 L836.9,111.25 L837.4,110.42 L837.9,109.61 L838.4,108.80 L838.9,108.01 L839.4,107.23 L839.9,106.46 L840.4,105.70 L840.9,104.95 L841.4,104.21 L841.9,103.49 L842.4,102.77 L842.9,102.06 L843.4,101.36 L843.9,100.67 L844.4,100.00 L844.9,99.33 L845.4,98.66 L845.9,98.01 L846.4,97.37 L846.9,96.74 L847.4,96.11 L847.9,95.49 L848.4,94.88 L848.9,94.28 L849.4,93.69 L849.9,93.10 L850.4,92.52 L850.9,91.95 L851.4,91.39 L851.9,90.83 L852.4,90.28 L852.9,89.74 L853.4,89.21 L853.9,88.68 L854.4,88.16 L854.9,87.64 L855.4,87.13 L855.9,86.63 L856.4,86.13 L856.9,85.64 L857.4,85.16 L857.9,84.68 L858.4,84.21 L858.9,83.74 L859.4,83.28 L859.9,82.83 L860.4,82.38 L860.9,81.93 L861.4,81.49 L861.9,81.06 L862.4,80.63 L862.9,80.21 L863.4,79.79 L863.9,79.38 L864.4,78.97 L864.9,78.56 L865.4,78.17 L865.9,77.77 L866.4,77.38 L866.9,77.00 L867.4,76.61 L867.9,76.24 L868.4,75.87 L868.9,75.50 L869.4,75.13 L869.9,74.77 L870.4,74.42 L870.9,74.07 L871.4,73.72 L871.9,73.37 L872.4,73.03 L872.9,72.70 L873.4,72.36 L873.9,72.04 L874.4,71.71 L874.9,71.39 L875.4,71.07 L875.9,70.75 L876.4,70.44 L876.9,70.13 L877.4,69.83 L877.9,69.53 L878.4,69.23 L878.9,68.93 L879.4,68.64 L879.9,68.35 L880.4,68.07 L880.9,67.78 L881.4,67.50 L881.9,67.23 L882.4,66.95 L882.9,66.68 L883.4,66.41 L883.9,66.15 L884.4,65.88 L884.9,65.62 L885.4,65.36 L885.9,65.11 L886.4,64.86 L886.9,64.60 L887.4,64.36 L887.9,64.11 L888.4,63.87 L888.9,63.63 L889.4,63.39 L889.9,63.15 L890.4,62.92 L890.9,62.69 L891.4,62.46 L891.9,62.24 L892.4,62.01 L892.9,61.79 L893.4,61.57 L893.9,61.35 L894.4,61.13 L894.9,60.92 L895.4,60.71 L895.9,60.50 L896.4,60.29 L896.9,60.09 L897.4,59.88 L897.9,59.68 L898.4,59.48 L898.9,59.28 L899.4,59.09 L899.9,58.89 L900.4,58.70 L900.9,58.51 L901.4,58.32 L901.9,58.13 L902.4,57.94 L902.9,57.76 L903.4,57.58 L903.9,57.40 L904.4,57.22 L904.9,57.04 L905.4,56.86 L905.9,56.69 L906.4,56.52 L906.9,56.35 L907.4,56.18 L907.9,56.01 L908.4,55.84 L908.9,55.68 L909.4,55.51 L909.9,55.35 L910.4,55.19 L910.9,55.03 L911.4,54.87 L911.9,54.71 L912.4,54.56 L912.9,54.40 L913.4,54.25 L913.9,54.10 L914.4,53.95 L914.9,53.80 L915.4,53.65 L915.9,53.51 L916.4,53.36 L916.9,53.22 L917.4,53.07 L917.9,52.93 L918.4,52.79 L918.9,52.65 L919.4,52.52 L919.9,52.38 L920.4,52.24 L920.9,52.11 L921.4,51.97 L921.9,51.84 L922.4,51.71 L922.9,51.58 L923.4,51.45 L923.9,51.32 L924.4,51.19 L924.9,51.07 L925.4,50.94 L925.9,50.82 L926.4,50.70 L926.9,50.57 L927.4,50.45 L927.9,50.33 L928.4,50.21 L928.9,50.09 L929.4,49.98 L929.9,49.86 L930.4,49.74 L930.9,49.63 L931.4,49.52 L931.9,49.40 L932.4,49.29 L932.9,49.18 L933.4,49.07 L933.9,48.96 L934.4,48.85 L934.9,48.74 L935.4,48.64 L935.9,48.53 L936.4,48.42 L936.9,48.32 L937.4,48.22 L937.9,48.11 L938.4,48.01 L938.9,47.91 L939.4,47.81 L939.9,47.71 L940.4,47.61 L940.9,47.51 L941.4,47.41 L941.9,47.31 L942.4,47.22 L942.9,47.12 L943.4,47.03 L943.9,46.93 L944.4,46.84 L944.9,46.75 L945.4,46.65 L945.9,46.56 L946.4,46.47 L946.9,46.38 L947.4,46.29 L947.9,46.20 L948.4,46.11 L948.9,46.03 L949.4,45.94 L949.9,45.85 L950.4,45.77 L950.9,45.68 L951.4,45.60 L951.9,45.51 L952.4,45.43 L952.9,45.35 L953.4,45.26 L953.9,45.18 L954.4,45.10 L954.9,45.02 L955.4,44.94 L955.9,44.86 L956.4,44.78 L956.9,44.70 L957.4,44.62 L957.9,44.55 L958.4,44.47 L958.9,44.39 L959.4,44.32 L959.9,44.24 L960.4,44.17 L960.9,44.09 L961.4,44.02 L961.9,43.95 L962.4,43.87 L962.9,43.80 L963.4,43.73 L963.9,43.66 L964.4,43.59 L964.9,43.52 L965.4,43.45 L965.9,43.38 L966.4,43.31 L966.9,43.24 L967.4,43.17 L967.9,43.10 L968.4,43.04 L968.9,42.97 L969.4,42.90 L969.9,42.84 L970.4,42.77 L970.9,42.71 L971.4,42.64 L971.9,42.58 L972.4,42.51 L972.9,42.45 L973.4,42.39 L973.9,42.32 L974.4,42.26 L974.9,42.20 L975.4,42.14 L975.9,42.08 L976.4,42.02 L976.9,41.96 L977.4,41.90 L977.9,41.84 L978.4,41.78 L978.9,41.72 L979.4,41.66 L979.9,41.60 L980.4,41.54 L980.9,41.49 L981.4,41.43 L981.9,41.37 L982.4,41.32 L982.9,41.26 L983.4,41.20 L983.9,41.15 L984.4,41.09 L984.9,41.04 L985.4,40.98 L985.9,40.93 L986.4,40.88 L986.9,40.82 L987.4,40.77 L987.9,40.72 L988.4,40.66 L988.9,40.61 L989.4,40.56 L989.9,40.51 L990.4,40.46 L990.9,40.41 L991.4,40.36 L991.9,40.31 L992.4,40.26 L992.9,40.21 L993.4,40.16 L993.9,40.11 L994.4,40.06 L994.9,40.01 L995.4,39.96 L995.9,39.91 L996.4,39.87 L996.9,39.82 L997.4,39.77 L997.9,39.72 L998.4,39.68 L998.9,39.63 L999.4,39.58 L999.9,39.54 L1000.4,39.49 L1000.9,39.45 L1001.4,39.40 L1001.9,39.36 L1002.4,39.31 L1002.9,39.27 L1003.4,39.22 L1003.9,39.18 L1004.4,39.14 L1004.9,39.09 L1005.4,39.05 L1005.9,39.01 L1006.4,38.96 L1006.9,38.92 L1007.4,38.88 L1007.9,38.84 L1008.4,38.80 L1008.9,38.75 L1009.4,38.71 L1009.9,38.67 L1010.4,38.63 L1010.9,38.59 L1011.4,38.55 L1011.9,38.51 L1012.4,38.47 L1012.9,38.43 L1013.4,38.39 L1013.9,38.35 L1014.4,38.31 L1014.9,38.27 L1015.4,38.24 L1015.9,38.20 L1016.4,38.16 L1016.9,38.12 L1017.4,38.08 L1017.9,38.05 L1018.4,38.01 L1018.9,37.97 L1019.4,37.93" stroke-width="4.8"/>
</g>
<text transform="translate(128.0,721.8) scale(1,1.01)" font-size="44.6" text-anchor="end" font-family="Liberation Sans, Arial, sans-serif" fill="#0a0a0a" stroke="#0a0a0a" stroke-width="0.4">0.0</text>
<text transform="translate(128.0,584.9) scale(1,1.01)" font-size="44.6" text-anchor="end" font-family="Liberation Sans, Arial, sans-serif" fill="#0a0a0a" stroke="#0a0a0a" stroke-width="0.4">0.2</text>
<text transform="translate(128.0,448.0) scale(1,1.01)" font-size="44.6" text-anchor="end" font-family="Liberation Sans, Arial, sans-serif" fill="#0a0a0a" stroke="#0a0a0a" stroke-width="0.4">0.4</text>
<text transform="translate(128.0,311.0) scale(1,1.01)" font-size="44.6" text-anchor="end" font-family="Liberation Sans, Arial, sans-serif" fill="#0a0a0a" stroke="#0a0a0a" stroke-width="0.4">0.6</text>
<text transform="translate(128.0,174.1) scale(1,1.01)" font-size="44.6" text-anchor="end" font-family="Liberation Sans, Arial, sans-serif" fill="#0a0a0a" stroke="#0a0a0a" stroke-width="0.4">0.8</text>
<text transform="translate(128.0,37.2) scale(1,1.01)" font-size="44.6" text-anchor="end" font-family="Liberation Sans, Arial, sans-serif" fill="#0a0a0a" stroke="#0a0a0a" stroke-width="0.4">1.0</text>
<text transform="translate(146.0,763.0) scale(1,1.01)" font-size="44.8" text-anchor="middle" font-family="Liberation Sans, Arial, sans-serif" fill="#0a0a0a" stroke="#0a0a0a" stroke-width="0.4">810</text>
<text transform="translate(303.5,763.0) scale(1,1.01)" font-size="44.8" text-anchor="middle" font-family="Liberation Sans, Arial, sans-serif" fill="#0a0a0a" stroke="#0a0a0a" stroke-width="0.4">820</text>
<text transform="translate(460.9,763.0) scale(1,1.01)" font-size="44.8" text-anchor="middle" font-family="Liberation Sans, Arial, sans-serif" fill="#0a0a0a" stroke="#0a0a0a" stroke-width="0.4">830</text>
<text transform="translate(618.4,763.0) scale(1,1.01)" font-size="44.8" text-anchor="middle" font-family="Liberation Sans, Arial, sans-serif" fill="#0a0a0a" stroke="#0a0a0a" stroke-width="0.4">840</text>
<text transform="translate(775.9,763.0) scale(1,1.01)" font-size="44.8" text-anchor="middle" font-family="Liberation Sans, Arial, sans-serif" fill="#0a0a0a" stroke="#0a0a0a" stroke-width="0.4">850</text>
<text transform="translate(933.4,763.0) scale(1,1.01)" font-size="44.8" text-anchor="middle" font-family="Liberation Sans, Arial, sans-serif" fill="#0a0a0a" stroke="#0a0a0a" stroke-width="0.4">860</text>
<text transform="translate(577.2,836.0) scale(1,1.0)" font-size="55.8" text-anchor="middle" font-family="Liberation Sans, Arial, sans-serif" fill="#0a0a0a" stroke="#0a0a0a" stroke-width="0.4">Wavelength (nm)</text>
<text transform="translate(44.2,371.0) rotate(-90) scale(1,1.035)" font-size="57.5" text-anchor="middle" font-family="Liberation Sans, Arial, sans-serif" fill="#0a0a0a" stroke="#0a0a0a" stroke-width="0.4">R</text>
<text transform="translate(184.2,681.2) scale(1,1.01)" font-size="55.5" text-anchor="start" font-family="Liberation Sans, Arial, sans-serif" fill="#0a0a0a" stroke="#0a0a0a" stroke-width="0.4">Au</text>
<text transform="translate(267.3,681.6) scale(1,1.0)" font-size="33.8" text-anchor="start" font-family="Liberation Sans, Arial, sans-serif" fill="#0a0a0a" stroke="#0a0a0a" stroke-width="0.4">(</text>
<text transform="translate(278.5,681.6) scale(1.27,1)" font-size="31.5" font-family="Liberation Serif, serif" fill="#0a0a0a">α</text>
<text transform="translate(299.2,681.6) scale(1,1.0)" font-size="33.8" text-anchor="start" font-family="Liberation Sans, Arial, sans-serif" fill="#0a0a0a" stroke="#0a0a0a" stroke-width="0.4">=61.8 deg)</text>
<text transform="translate(342.5,585.8) scale(1,1.02)" font-size="33.6" text-anchor="start" font-family="Liberation Sans, Arial, sans-serif" fill="#0a0a0a" stroke="#0a0a0a" stroke-width="0.4">5-nm Au</text>
<text transform="translate(518.9,685.5) scale(1,1.0)" font-size="33.5" text-anchor="start" font-family="Liberation Sans, Arial, sans-serif" fill="#0a0a0a" stroke="#0a0a0a" stroke-width="0.4">10-nm Au</text>
<text transform="translate(775.2,628.9) scale(1,1.0)" font-size="33.6" text-anchor="start" font-family="Liberation Sans, Arial, sans-serif" fill="#0a0a0a" stroke="#0a0a0a" stroke-width="0.4">15-nm <tspan dx="9.2">Au</tspan></text>
<text transform="translate(600.3,281.3) scale(1,1.03)" font-size="31.3" text-anchor="start" font-family="Liberation Sans, Arial, sans-serif" fill="#0a0a0a" stroke="#0a0a0a" stroke-width="0.4">Δ</text>
<text transform="translate(620.7,281.3) scale(1,1.03)" font-size="34" text-anchor="start" font-family="Liberation Sans, Arial, sans-serif" fill="#0a0a0a" stroke="#0a0a0a" stroke-width="0.4">R</text>
</svg>
</body></html>
